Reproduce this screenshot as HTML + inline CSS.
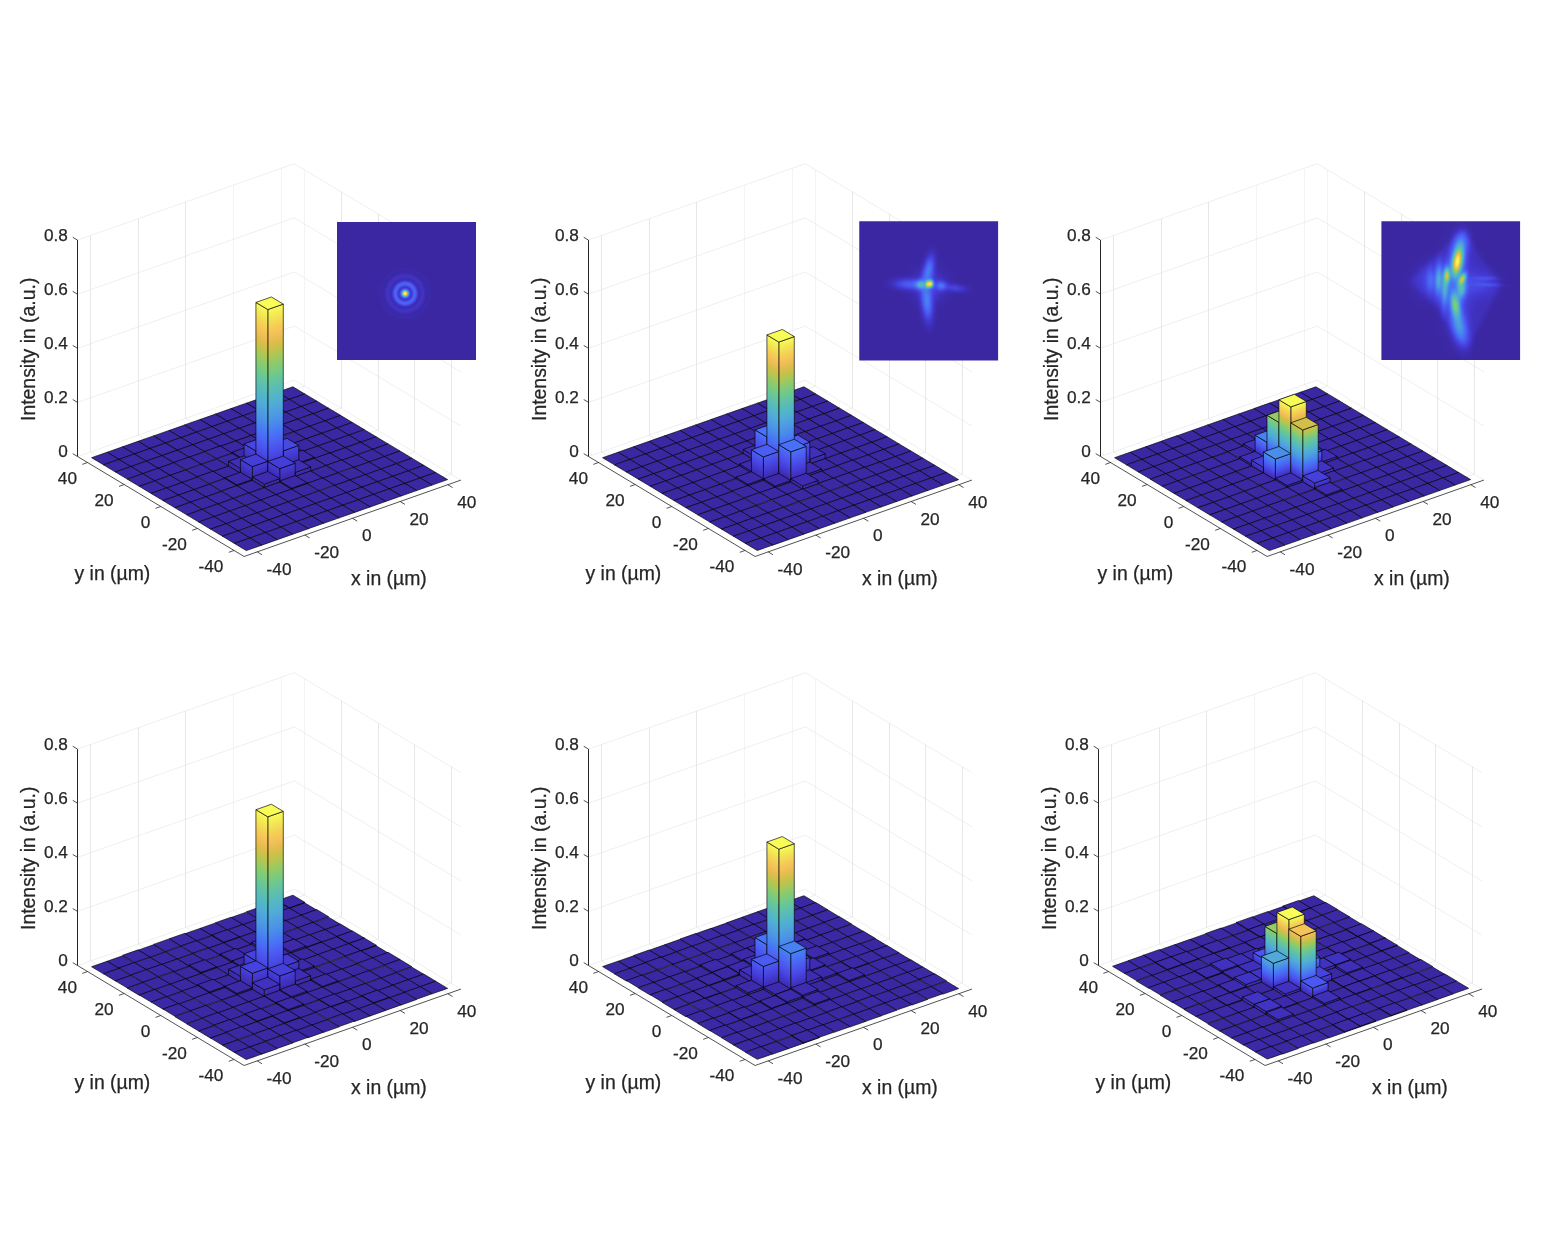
<!DOCTYPE html>
<html lang="en"><head><meta charset="utf-8"><title>Intensity bar plots</title>
<style>html,body{margin:0;padding:0;background:#fff}svg{display:block}</style></head>
<body>
<svg width="1544" height="1246" viewBox="0 0 1544 1246">
<defs><linearGradient id="g1r8_8" gradientUnits="userSpaceOnUse" x1="271.39" y1="462.4" x2="270.12" y2="458.79"><stop offset="0" stop-color="#3a27a2"/><stop offset="1" stop-color="#3e2db3"/></linearGradient><linearGradient id="g1l8_8" gradientUnits="userSpaceOnUse" x1="271.39" y1="462.4" x2="273.18" y2="459.42"><stop offset="0" stop-color="#3a27a2"/><stop offset="1" stop-color="#3e2db3"/></linearGradient><linearGradient id="g1r7_8" gradientUnits="userSpaceOnUse" x1="255.91" y1="467.86" x2="250.65" y2="452.94"><stop offset="0" stop-color="#3a27a2"/><stop offset="0.33" stop-color="#3f30ba"/><stop offset="0.67" stop-color="#4339cf"/><stop offset="1" stop-color="#4744df"/></linearGradient><linearGradient id="g1l7_8" gradientUnits="userSpaceOnUse" x1="255.91" y1="467.86" x2="263.31" y2="455.53"><stop offset="0" stop-color="#3a27a2"/><stop offset="0.33" stop-color="#3f30ba"/><stop offset="0.67" stop-color="#4339cf"/><stop offset="1" stop-color="#4744df"/></linearGradient><linearGradient id="g1r6_8" gradientUnits="userSpaceOnUse" x1="240.42" y1="473.31" x2="238.9" y2="468.98"><stop offset="0" stop-color="#3a27a2"/><stop offset="1" stop-color="#3e2fb7"/></linearGradient><linearGradient id="g1l6_8" gradientUnits="userSpaceOnUse" x1="240.42" y1="473.31" x2="242.57" y2="469.73"><stop offset="0" stop-color="#3a27a2"/><stop offset="1" stop-color="#3e2fb7"/></linearGradient><linearGradient id="g1r8_7" gradientUnits="userSpaceOnUse" x1="283.29" y1="469.54" x2="277.44" y2="452.94"><stop offset="0" stop-color="#3a27a2"/><stop offset="0.33" stop-color="#4031bc"/><stop offset="0.67" stop-color="#443bd3"/><stop offset="1" stop-color="#4848e3"/></linearGradient><linearGradient id="g1l8_7" gradientUnits="userSpaceOnUse" x1="283.29" y1="469.54" x2="291.53" y2="455.82"><stop offset="0" stop-color="#3a27a2"/><stop offset="0.33" stop-color="#4031bc"/><stop offset="0.67" stop-color="#443bd3"/><stop offset="1" stop-color="#4848e3"/></linearGradient><linearGradient id="g1r7_7" gradientUnits="userSpaceOnUse" x1="267.81" y1="475" x2="215.95" y2="327.84"><stop offset="0" stop-color="#3a27a2"/><stop offset="0.04" stop-color="#4032bf"/><stop offset="0.08" stop-color="#453dd7"/><stop offset="0.12" stop-color="#484ce7"/><stop offset="0.17" stop-color="#4b5af0"/><stop offset="0.21" stop-color="#4b69f5"/><stop offset="0.25" stop-color="#4778f4"/><stop offset="0.29" stop-color="#4987ee"/><stop offset="0.33" stop-color="#4c94e4"/><stop offset="0.38" stop-color="#4fa1de"/><stop offset="0.42" stop-color="#51acd6"/><stop offset="0.46" stop-color="#52b5c8"/><stop offset="0.5" stop-color="#58bbb8"/><stop offset="0.54" stop-color="#61c1a7"/><stop offset="0.58" stop-color="#69c794"/><stop offset="0.62" stop-color="#7aca7f"/><stop offset="0.67" stop-color="#92ca68"/><stop offset="0.71" stop-color="#adc755"/><stop offset="0.75" stop-color="#c7c14a"/><stop offset="0.79" stop-color="#debd4c"/><stop offset="0.83" stop-color="#f1be57"/><stop offset="0.88" stop-color="#f5cc55"/><stop offset="0.92" stop-color="#f3dc54"/><stop offset="0.96" stop-color="#f3ec55"/><stop offset="1" stop-color="#f9fb56"/></linearGradient><linearGradient id="g1l7_7" gradientUnits="userSpaceOnUse" x1="267.81" y1="475" x2="340.81" y2="353.38"><stop offset="0" stop-color="#3a27a2"/><stop offset="0.04" stop-color="#4032bf"/><stop offset="0.08" stop-color="#453dd7"/><stop offset="0.12" stop-color="#484ce7"/><stop offset="0.17" stop-color="#4b5af0"/><stop offset="0.21" stop-color="#4b69f5"/><stop offset="0.25" stop-color="#4778f4"/><stop offset="0.29" stop-color="#4987ee"/><stop offset="0.33" stop-color="#4c94e4"/><stop offset="0.38" stop-color="#4fa1de"/><stop offset="0.42" stop-color="#51acd6"/><stop offset="0.46" stop-color="#52b5c8"/><stop offset="0.5" stop-color="#58bbb8"/><stop offset="0.54" stop-color="#61c1a7"/><stop offset="0.58" stop-color="#69c794"/><stop offset="0.62" stop-color="#7aca7f"/><stop offset="0.67" stop-color="#92ca68"/><stop offset="0.71" stop-color="#adc755"/><stop offset="0.75" stop-color="#c7c14a"/><stop offset="0.79" stop-color="#debd4c"/><stop offset="0.83" stop-color="#f1be57"/><stop offset="0.88" stop-color="#f5cc55"/><stop offset="0.92" stop-color="#f3dc54"/><stop offset="0.96" stop-color="#f3ec55"/><stop offset="1" stop-color="#f9fb56"/></linearGradient><linearGradient id="g1r6_7" gradientUnits="userSpaceOnUse" x1="252.32" y1="480.46" x2="248" y2="468.19"><stop offset="0" stop-color="#3a27a2"/><stop offset="0.33" stop-color="#3e2eb5"/><stop offset="0.67" stop-color="#4235c8"/><stop offset="1" stop-color="#453dd7"/></linearGradient><linearGradient id="g1l6_7" gradientUnits="userSpaceOnUse" x1="252.32" y1="480.46" x2="258.41" y2="470.32"><stop offset="0" stop-color="#3a27a2"/><stop offset="0.33" stop-color="#3e2eb5"/><stop offset="0.67" stop-color="#4235c8"/><stop offset="1" stop-color="#453dd7"/></linearGradient><linearGradient id="g1r8_6" gradientUnits="userSpaceOnUse" x1="295.19" y1="476.69" x2="293.84" y2="472.84"><stop offset="0" stop-color="#3a27a2"/><stop offset="1" stop-color="#3e2eb4"/></linearGradient><linearGradient id="g1l8_6" gradientUnits="userSpaceOnUse" x1="295.19" y1="476.69" x2="297.1" y2="473.5"><stop offset="0" stop-color="#3a27a2"/><stop offset="1" stop-color="#3e2eb4"/></linearGradient><linearGradient id="g1r7_6" gradientUnits="userSpaceOnUse" x1="279.71" y1="482.14" x2="275.47" y2="470.11"><stop offset="0" stop-color="#3a27a2"/><stop offset="0.5" stop-color="#4031be"/><stop offset="1" stop-color="#453dd7"/></linearGradient><linearGradient id="g1l7_6" gradientUnits="userSpaceOnUse" x1="279.71" y1="482.14" x2="285.68" y2="472.2"><stop offset="0" stop-color="#3a27a2"/><stop offset="0.5" stop-color="#4031be"/><stop offset="1" stop-color="#453dd7"/></linearGradient><linearGradient id="g1r6_6" gradientUnits="userSpaceOnUse" x1="264.22" y1="487.6" x2="263.12" y2="484.47"><stop offset="0" stop-color="#3a27a2"/><stop offset="1" stop-color="#3d2cb1"/></linearGradient><linearGradient id="g1l6_6" gradientUnits="userSpaceOnUse" x1="264.22" y1="487.6" x2="265.77" y2="485.01"><stop offset="0" stop-color="#3a27a2"/><stop offset="1" stop-color="#3d2cb1"/></linearGradient><linearGradient id="g2r7_9" gradientUnits="userSpaceOnUse" x1="755.01" y1="460.71" x2="753.74" y2="457.11"><stop offset="0" stop-color="#3a27a2"/><stop offset="1" stop-color="#3f2fb7"/></linearGradient><linearGradient id="g2l7_9" gradientUnits="userSpaceOnUse" x1="755.01" y1="460.71" x2="756.8" y2="457.73"><stop offset="0" stop-color="#3a27a2"/><stop offset="1" stop-color="#3f2fb7"/></linearGradient><linearGradient id="g2r8_8" gradientUnits="userSpaceOnUse" x1="782.39" y1="462.4" x2="781.54" y2="459.99"><stop offset="0" stop-color="#3a27a2"/><stop offset="1" stop-color="#3d2cb0"/></linearGradient><linearGradient id="g2l8_8" gradientUnits="userSpaceOnUse" x1="782.39" y1="462.4" x2="783.59" y2="460.41"><stop offset="0" stop-color="#3a27a2"/><stop offset="1" stop-color="#3d2cb0"/></linearGradient><linearGradient id="g2r7_8" gradientUnits="userSpaceOnUse" x1="766.91" y1="467.86" x2="757.24" y2="440.43"><stop offset="0" stop-color="#3a27a2"/><stop offset="0.17" stop-color="#4031bd"/><stop offset="0.33" stop-color="#443bd5"/><stop offset="0.5" stop-color="#4849e4"/><stop offset="0.67" stop-color="#4a56ee"/><stop offset="0.83" stop-color="#4b63f4"/><stop offset="1" stop-color="#4972f6"/></linearGradient><linearGradient id="g2l7_8" gradientUnits="userSpaceOnUse" x1="766.91" y1="467.86" x2="780.51" y2="445.19"><stop offset="0" stop-color="#3a27a2"/><stop offset="0.17" stop-color="#4031bd"/><stop offset="0.33" stop-color="#443bd5"/><stop offset="0.5" stop-color="#4849e4"/><stop offset="0.67" stop-color="#4a56ee"/><stop offset="0.83" stop-color="#4b63f4"/><stop offset="1" stop-color="#4972f6"/></linearGradient><linearGradient id="g2r9_7" gradientUnits="userSpaceOnUse" x1="809.78" y1="464.09" x2="808.25" y2="459.75"><stop offset="0" stop-color="#3a27a2"/><stop offset="1" stop-color="#3f30bb"/></linearGradient><linearGradient id="g2l9_7" gradientUnits="userSpaceOnUse" x1="809.78" y1="464.09" x2="811.93" y2="460.51"><stop offset="0" stop-color="#3a27a2"/><stop offset="1" stop-color="#3f30bb"/></linearGradient><linearGradient id="g2r8_7" gradientUnits="userSpaceOnUse" x1="794.29" y1="469.54" x2="787.42" y2="450.05"><stop offset="0" stop-color="#3a27a2"/><stop offset="0.25" stop-color="#4032bf"/><stop offset="0.5" stop-color="#453dd7"/><stop offset="0.75" stop-color="#484be6"/><stop offset="1" stop-color="#4b59f0"/></linearGradient><linearGradient id="g2l8_7" gradientUnits="userSpaceOnUse" x1="794.29" y1="469.54" x2="803.96" y2="453.44"><stop offset="0" stop-color="#3a27a2"/><stop offset="0.25" stop-color="#4032bf"/><stop offset="0.5" stop-color="#453dd7"/><stop offset="0.75" stop-color="#484be6"/><stop offset="1" stop-color="#4b59f0"/></linearGradient><linearGradient id="g2r7_7" gradientUnits="userSpaceOnUse" x1="778.81" y1="475" x2="737.13" y2="356.74"><stop offset="0" stop-color="#3a27a2"/><stop offset="0.04" stop-color="#4032bf"/><stop offset="0.08" stop-color="#453dd7"/><stop offset="0.12" stop-color="#484ce7"/><stop offset="0.17" stop-color="#4b5af0"/><stop offset="0.21" stop-color="#4b69f5"/><stop offset="0.25" stop-color="#4778f4"/><stop offset="0.29" stop-color="#4987ee"/><stop offset="0.33" stop-color="#4c94e4"/><stop offset="0.38" stop-color="#4fa1de"/><stop offset="0.42" stop-color="#51acd6"/><stop offset="0.46" stop-color="#52b5c8"/><stop offset="0.5" stop-color="#58bbb8"/><stop offset="0.54" stop-color="#61c1a7"/><stop offset="0.58" stop-color="#69c794"/><stop offset="0.62" stop-color="#7aca7f"/><stop offset="0.67" stop-color="#92ca68"/><stop offset="0.71" stop-color="#adc755"/><stop offset="0.75" stop-color="#c7c14a"/><stop offset="0.79" stop-color="#debd4c"/><stop offset="0.83" stop-color="#f1be57"/><stop offset="0.88" stop-color="#f5cc55"/><stop offset="0.92" stop-color="#f3dc54"/><stop offset="0.96" stop-color="#f3ec55"/><stop offset="1" stop-color="#f9fb56"/></linearGradient><linearGradient id="g2l7_7" gradientUnits="userSpaceOnUse" x1="778.81" y1="475" x2="837.47" y2="377.26"><stop offset="0" stop-color="#3a27a2"/><stop offset="0.04" stop-color="#4032bf"/><stop offset="0.08" stop-color="#453dd7"/><stop offset="0.12" stop-color="#484ce7"/><stop offset="0.17" stop-color="#4b5af0"/><stop offset="0.21" stop-color="#4b69f5"/><stop offset="0.25" stop-color="#4778f4"/><stop offset="0.29" stop-color="#4987ee"/><stop offset="0.33" stop-color="#4c94e4"/><stop offset="0.38" stop-color="#4fa1de"/><stop offset="0.42" stop-color="#51acd6"/><stop offset="0.46" stop-color="#52b5c8"/><stop offset="0.5" stop-color="#58bbb8"/><stop offset="0.54" stop-color="#61c1a7"/><stop offset="0.58" stop-color="#69c794"/><stop offset="0.62" stop-color="#7aca7f"/><stop offset="0.67" stop-color="#92ca68"/><stop offset="0.71" stop-color="#adc755"/><stop offset="0.75" stop-color="#c7c14a"/><stop offset="0.79" stop-color="#debd4c"/><stop offset="0.83" stop-color="#f1be57"/><stop offset="0.88" stop-color="#f5cc55"/><stop offset="0.92" stop-color="#f3dc54"/><stop offset="0.96" stop-color="#f3ec55"/><stop offset="1" stop-color="#f9fb56"/></linearGradient><linearGradient id="g2r6_7" gradientUnits="userSpaceOnUse" x1="763.32" y1="480.46" x2="755.94" y2="459.52"><stop offset="0" stop-color="#3a27a2"/><stop offset="0.2" stop-color="#3f30bb"/><stop offset="0.4" stop-color="#443ad1"/><stop offset="0.6" stop-color="#4745e1"/><stop offset="0.8" stop-color="#4a52eb"/><stop offset="1" stop-color="#4b5ef2"/></linearGradient><linearGradient id="g2l6_7" gradientUnits="userSpaceOnUse" x1="763.32" y1="480.46" x2="773.71" y2="463.16"><stop offset="0" stop-color="#3a27a2"/><stop offset="0.2" stop-color="#3f30bb"/><stop offset="0.4" stop-color="#443ad1"/><stop offset="0.6" stop-color="#4745e1"/><stop offset="0.8" stop-color="#4a52eb"/><stop offset="1" stop-color="#4b5ef2"/></linearGradient><linearGradient id="g2r7_6" gradientUnits="userSpaceOnUse" x1="790.71" y1="482.14" x2="781.21" y2="455.19"><stop offset="0" stop-color="#3a27a2"/><stop offset="0.17" stop-color="#4031bc"/><stop offset="0.33" stop-color="#443bd4"/><stop offset="0.5" stop-color="#4848e3"/><stop offset="0.67" stop-color="#4a55ed"/><stop offset="0.83" stop-color="#4b62f4"/><stop offset="1" stop-color="#4970f6"/></linearGradient><linearGradient id="g2l7_6" gradientUnits="userSpaceOnUse" x1="790.71" y1="482.14" x2="804.08" y2="459.87"><stop offset="0" stop-color="#3a27a2"/><stop offset="0.17" stop-color="#4031bc"/><stop offset="0.33" stop-color="#443bd4"/><stop offset="0.5" stop-color="#4848e3"/><stop offset="0.67" stop-color="#4a55ed"/><stop offset="0.83" stop-color="#4b62f4"/><stop offset="1" stop-color="#4970f6"/></linearGradient><linearGradient id="g2r7_5" gradientUnits="userSpaceOnUse" x1="802.61" y1="489.29" x2="801.55" y2="486.28"><stop offset="0" stop-color="#3a27a2"/><stop offset="1" stop-color="#3e2db4"/></linearGradient><linearGradient id="g2l7_5" gradientUnits="userSpaceOnUse" x1="802.61" y1="489.29" x2="804.1" y2="486.8"><stop offset="0" stop-color="#3a27a2"/><stop offset="1" stop-color="#3e2db4"/></linearGradient><linearGradient id="g3r7_10" gradientUnits="userSpaceOnUse" x1="1255.11" y1="453.57" x2="1254.26" y2="451.17"><stop offset="0" stop-color="#3a27a2"/><stop offset="1" stop-color="#4031be"/></linearGradient><linearGradient id="g3l7_10" gradientUnits="userSpaceOnUse" x1="1255.11" y1="453.57" x2="1256.3" y2="451.58"><stop offset="0" stop-color="#3a27a2"/><stop offset="1" stop-color="#4031be"/></linearGradient><linearGradient id="g3r7_9" gradientUnits="userSpaceOnUse" x1="1267.01" y1="460.71" x2="1261.24" y2="444.35"><stop offset="0" stop-color="#3a27a2"/><stop offset="0.14" stop-color="#4031bd"/><stop offset="0.29" stop-color="#443bd4"/><stop offset="0.43" stop-color="#4849e4"/><stop offset="0.57" stop-color="#4a56ee"/><stop offset="0.71" stop-color="#4b63f4"/><stop offset="0.86" stop-color="#4971f6"/><stop offset="1" stop-color="#4780f2"/></linearGradient><linearGradient id="g3l7_9" gradientUnits="userSpaceOnUse" x1="1267.01" y1="460.71" x2="1275.12" y2="447.19"><stop offset="0" stop-color="#3a27a2"/><stop offset="0.14" stop-color="#4031bd"/><stop offset="0.29" stop-color="#443bd4"/><stop offset="0.43" stop-color="#4849e4"/><stop offset="0.57" stop-color="#4a56ee"/><stop offset="0.71" stop-color="#4b63f4"/><stop offset="0.86" stop-color="#4971f6"/><stop offset="1" stop-color="#4780f2"/></linearGradient><linearGradient id="g3r8_8" gradientUnits="userSpaceOnUse" x1="1294.39" y1="462.4" x2="1291.85" y2="455.18"><stop offset="0" stop-color="#3a27a2"/><stop offset="0.33" stop-color="#4031be"/><stop offset="0.67" stop-color="#443cd6"/><stop offset="1" stop-color="#484ae5"/></linearGradient><linearGradient id="g3l8_8" gradientUnits="userSpaceOnUse" x1="1294.39" y1="462.4" x2="1297.97" y2="456.43"><stop offset="0" stop-color="#3a27a2"/><stop offset="0.33" stop-color="#4031be"/><stop offset="0.67" stop-color="#443cd6"/><stop offset="1" stop-color="#484ae5"/></linearGradient><linearGradient id="g3r7_8" gradientUnits="userSpaceOnUse" x1="1278.91" y1="467.86" x2="1264.66" y2="427.43"><stop offset="0" stop-color="#3a27a2"/><stop offset="0.06" stop-color="#4031bd"/><stop offset="0.12" stop-color="#443cd5"/><stop offset="0.18" stop-color="#4849e4"/><stop offset="0.24" stop-color="#4a57ee"/><stop offset="0.29" stop-color="#4b65f4"/><stop offset="0.35" stop-color="#4873f6"/><stop offset="0.41" stop-color="#4781f1"/><stop offset="0.47" stop-color="#4b8ee8"/><stop offset="0.53" stop-color="#4d9ae1"/><stop offset="0.59" stop-color="#50a6db"/><stop offset="0.65" stop-color="#51afd1"/><stop offset="0.71" stop-color="#53b7c3"/><stop offset="0.76" stop-color="#5abdb4"/><stop offset="0.82" stop-color="#62c2a4"/><stop offset="0.88" stop-color="#6bc792"/><stop offset="0.94" stop-color="#7cca7d"/><stop offset="1" stop-color="#92ca67"/></linearGradient><linearGradient id="g3l7_8" gradientUnits="userSpaceOnUse" x1="1278.91" y1="467.86" x2="1298.96" y2="434.45"><stop offset="0" stop-color="#3a27a2"/><stop offset="0.06" stop-color="#4031bd"/><stop offset="0.12" stop-color="#443cd5"/><stop offset="0.18" stop-color="#4849e4"/><stop offset="0.24" stop-color="#4a57ee"/><stop offset="0.29" stop-color="#4b65f4"/><stop offset="0.35" stop-color="#4873f6"/><stop offset="0.41" stop-color="#4781f1"/><stop offset="0.47" stop-color="#4b8ee8"/><stop offset="0.53" stop-color="#4d9ae1"/><stop offset="0.59" stop-color="#50a6db"/><stop offset="0.65" stop-color="#51afd1"/><stop offset="0.71" stop-color="#53b7c3"/><stop offset="0.76" stop-color="#5abdb4"/><stop offset="0.82" stop-color="#62c2a4"/><stop offset="0.88" stop-color="#6bc792"/><stop offset="0.94" stop-color="#7cca7d"/><stop offset="1" stop-color="#92ca67"/></linearGradient><linearGradient id="g3r6_8" gradientUnits="userSpaceOnUse" x1="1263.42" y1="473.31" x2="1261.56" y2="468.02"><stop offset="0" stop-color="#3a27a2"/><stop offset="0.33" stop-color="#3e2eb6"/><stop offset="0.67" stop-color="#4236ca"/><stop offset="1" stop-color="#453fd9"/></linearGradient><linearGradient id="g3l6_8" gradientUnits="userSpaceOnUse" x1="1263.42" y1="473.31" x2="1266.05" y2="468.94"><stop offset="0" stop-color="#3a27a2"/><stop offset="0.33" stop-color="#3e2eb6"/><stop offset="0.67" stop-color="#4236ca"/><stop offset="1" stop-color="#453fd9"/></linearGradient><linearGradient id="g3r8_7" gradientUnits="userSpaceOnUse" x1="1306.29" y1="469.54" x2="1302.14" y2="457.75"><stop offset="0" stop-color="#3a27a2"/><stop offset="0.2" stop-color="#4031bd"/><stop offset="0.4" stop-color="#443cd5"/><stop offset="0.6" stop-color="#4849e4"/><stop offset="0.8" stop-color="#4a56ee"/><stop offset="1" stop-color="#4b64f4"/></linearGradient><linearGradient id="g3l8_7" gradientUnits="userSpaceOnUse" x1="1306.29" y1="469.54" x2="1312.14" y2="459.8"><stop offset="0" stop-color="#3a27a2"/><stop offset="0.2" stop-color="#4031bd"/><stop offset="0.4" stop-color="#443cd5"/><stop offset="0.6" stop-color="#4849e4"/><stop offset="0.8" stop-color="#4a56ee"/><stop offset="1" stop-color="#4b64f4"/></linearGradient><linearGradient id="g3r7_7" gradientUnits="userSpaceOnUse" x1="1290.81" y1="475" x2="1269.46" y2="414.44"><stop offset="0" stop-color="#3a27a2"/><stop offset="0.04" stop-color="#4032bf"/><stop offset="0.08" stop-color="#453dd7"/><stop offset="0.12" stop-color="#484ce7"/><stop offset="0.17" stop-color="#4b5af0"/><stop offset="0.21" stop-color="#4b69f5"/><stop offset="0.25" stop-color="#4778f4"/><stop offset="0.29" stop-color="#4987ee"/><stop offset="0.33" stop-color="#4c94e4"/><stop offset="0.38" stop-color="#4fa1de"/><stop offset="0.42" stop-color="#51acd6"/><stop offset="0.46" stop-color="#52b5c8"/><stop offset="0.5" stop-color="#58bbb8"/><stop offset="0.54" stop-color="#61c1a7"/><stop offset="0.58" stop-color="#69c794"/><stop offset="0.62" stop-color="#7aca7f"/><stop offset="0.67" stop-color="#92ca68"/><stop offset="0.71" stop-color="#adc755"/><stop offset="0.75" stop-color="#c7c14a"/><stop offset="0.79" stop-color="#debd4c"/><stop offset="0.83" stop-color="#f1be57"/><stop offset="0.88" stop-color="#f5cc55"/><stop offset="0.92" stop-color="#f3dc54"/><stop offset="0.96" stop-color="#f3ec55"/><stop offset="1" stop-color="#f9fb56"/></linearGradient><linearGradient id="g3l7_7" gradientUnits="userSpaceOnUse" x1="1290.81" y1="475" x2="1320.85" y2="424.95"><stop offset="0" stop-color="#3a27a2"/><stop offset="0.04" stop-color="#4032bf"/><stop offset="0.08" stop-color="#453dd7"/><stop offset="0.12" stop-color="#484ce7"/><stop offset="0.17" stop-color="#4b5af0"/><stop offset="0.21" stop-color="#4b69f5"/><stop offset="0.25" stop-color="#4778f4"/><stop offset="0.29" stop-color="#4987ee"/><stop offset="0.33" stop-color="#4c94e4"/><stop offset="0.38" stop-color="#4fa1de"/><stop offset="0.42" stop-color="#51acd6"/><stop offset="0.46" stop-color="#52b5c8"/><stop offset="0.5" stop-color="#58bbb8"/><stop offset="0.54" stop-color="#61c1a7"/><stop offset="0.58" stop-color="#69c794"/><stop offset="0.62" stop-color="#7aca7f"/><stop offset="0.67" stop-color="#92ca68"/><stop offset="0.71" stop-color="#adc755"/><stop offset="0.75" stop-color="#c7c14a"/><stop offset="0.79" stop-color="#debd4c"/><stop offset="0.83" stop-color="#f1be57"/><stop offset="0.88" stop-color="#f5cc55"/><stop offset="0.92" stop-color="#f3dc54"/><stop offset="0.96" stop-color="#f3ec55"/><stop offset="1" stop-color="#f9fb56"/></linearGradient><linearGradient id="g3r6_7" gradientUnits="userSpaceOnUse" x1="1275.32" y1="480.46" x2="1268.62" y2="461.45"><stop offset="0" stop-color="#3a27a2"/><stop offset="0.12" stop-color="#4031bd"/><stop offset="0.25" stop-color="#443cd5"/><stop offset="0.38" stop-color="#4849e4"/><stop offset="0.5" stop-color="#4a57ee"/><stop offset="0.62" stop-color="#4b64f4"/><stop offset="0.75" stop-color="#4873f6"/><stop offset="0.88" stop-color="#4781f1"/><stop offset="1" stop-color="#4b8ee9"/></linearGradient><linearGradient id="g3l6_7" gradientUnits="userSpaceOnUse" x1="1275.32" y1="480.46" x2="1284.75" y2="464.75"><stop offset="0" stop-color="#3a27a2"/><stop offset="0.12" stop-color="#4031bd"/><stop offset="0.25" stop-color="#443cd5"/><stop offset="0.38" stop-color="#4849e4"/><stop offset="0.5" stop-color="#4a57ee"/><stop offset="0.62" stop-color="#4b64f4"/><stop offset="0.75" stop-color="#4873f6"/><stop offset="0.88" stop-color="#4781f1"/><stop offset="1" stop-color="#4b8ee9"/></linearGradient><linearGradient id="g3r8_6" gradientUnits="userSpaceOnUse" x1="1318.19" y1="476.69" x2="1317.18" y2="473.8"><stop offset="0" stop-color="#3a27a2"/><stop offset="0.5" stop-color="#3e2db3"/><stop offset="1" stop-color="#4133c3"/></linearGradient><linearGradient id="g3l8_6" gradientUnits="userSpaceOnUse" x1="1318.19" y1="476.69" x2="1319.63" y2="474.3"><stop offset="0" stop-color="#3a27a2"/><stop offset="0.5" stop-color="#3e2db3"/><stop offset="1" stop-color="#4133c3"/></linearGradient><linearGradient id="g3r7_6" gradientUnits="userSpaceOnUse" x1="1302.71" y1="482.14" x2="1286.34" y2="435.7"><stop offset="0" stop-color="#3a27a2"/><stop offset="0.05" stop-color="#4031be"/><stop offset="0.11" stop-color="#453dd6"/><stop offset="0.16" stop-color="#484ae5"/><stop offset="0.21" stop-color="#4b58ef"/><stop offset="0.26" stop-color="#4b66f4"/><stop offset="0.32" stop-color="#4775f5"/><stop offset="0.37" stop-color="#4884f0"/><stop offset="0.42" stop-color="#4b91e7"/><stop offset="0.47" stop-color="#4e9ddf"/><stop offset="0.53" stop-color="#50a8d9"/><stop offset="0.58" stop-color="#52b2cd"/><stop offset="0.63" stop-color="#55b9be"/><stop offset="0.68" stop-color="#5dbfae"/><stop offset="0.74" stop-color="#65c49d"/><stop offset="0.79" stop-color="#71c989"/><stop offset="0.84" stop-color="#85ca73"/><stop offset="0.89" stop-color="#9ec95e"/><stop offset="0.95" stop-color="#b8c44f"/><stop offset="1" stop-color="#d1bf4a"/></linearGradient><linearGradient id="g3l7_6" gradientUnits="userSpaceOnUse" x1="1302.71" y1="482.14" x2="1325.74" y2="443.76"><stop offset="0" stop-color="#3a27a2"/><stop offset="0.05" stop-color="#4031be"/><stop offset="0.11" stop-color="#453dd6"/><stop offset="0.16" stop-color="#484ae5"/><stop offset="0.21" stop-color="#4b58ef"/><stop offset="0.26" stop-color="#4b66f4"/><stop offset="0.32" stop-color="#4775f5"/><stop offset="0.37" stop-color="#4884f0"/><stop offset="0.42" stop-color="#4b91e7"/><stop offset="0.47" stop-color="#4e9ddf"/><stop offset="0.53" stop-color="#50a8d9"/><stop offset="0.58" stop-color="#52b2cd"/><stop offset="0.63" stop-color="#55b9be"/><stop offset="0.68" stop-color="#5dbfae"/><stop offset="0.74" stop-color="#65c49d"/><stop offset="0.79" stop-color="#71c989"/><stop offset="0.84" stop-color="#85ca73"/><stop offset="0.89" stop-color="#9ec95e"/><stop offset="0.95" stop-color="#b8c44f"/><stop offset="1" stop-color="#d1bf4a"/></linearGradient><linearGradient id="g3r7_5" gradientUnits="userSpaceOnUse" x1="1314.61" y1="489.29" x2="1312.66" y2="483.75"><stop offset="0" stop-color="#3a27a2"/><stop offset="0.33" stop-color="#3f2fb7"/><stop offset="0.67" stop-color="#4237cb"/><stop offset="1" stop-color="#4640db"/></linearGradient><linearGradient id="g3l7_5" gradientUnits="userSpaceOnUse" x1="1314.61" y1="489.29" x2="1317.35" y2="484.71"><stop offset="0" stop-color="#3a27a2"/><stop offset="0.33" stop-color="#3f2fb7"/><stop offset="0.67" stop-color="#4237cb"/><stop offset="1" stop-color="#4640db"/></linearGradient><linearGradient id="g4r8_8" gradientUnits="userSpaceOnUse" x1="271.39" y1="971.4" x2="270.12" y2="967.79"><stop offset="0" stop-color="#3a27a2"/><stop offset="1" stop-color="#3e2db3"/></linearGradient><linearGradient id="g4l8_8" gradientUnits="userSpaceOnUse" x1="271.39" y1="971.4" x2="273.18" y2="968.42"><stop offset="0" stop-color="#3a27a2"/><stop offset="1" stop-color="#3e2db3"/></linearGradient><linearGradient id="g4r7_8" gradientUnits="userSpaceOnUse" x1="255.91" y1="976.86" x2="250.9" y2="962.66"><stop offset="0" stop-color="#3a27a2"/><stop offset="0.33" stop-color="#3f2fb8"/><stop offset="0.67" stop-color="#4337cd"/><stop offset="1" stop-color="#4642dd"/></linearGradient><linearGradient id="g4l7_8" gradientUnits="userSpaceOnUse" x1="255.91" y1="976.86" x2="262.95" y2="965.12"><stop offset="0" stop-color="#3a27a2"/><stop offset="0.33" stop-color="#3f2fb8"/><stop offset="0.67" stop-color="#4337cd"/><stop offset="1" stop-color="#4642dd"/></linearGradient><linearGradient id="g4r6_8" gradientUnits="userSpaceOnUse" x1="240.42" y1="982.31" x2="238.56" y2="977.02"><stop offset="0" stop-color="#3a27a2"/><stop offset="1" stop-color="#3f30bb"/></linearGradient><linearGradient id="g4l6_8" gradientUnits="userSpaceOnUse" x1="240.42" y1="982.31" x2="243.05" y2="977.94"><stop offset="0" stop-color="#3a27a2"/><stop offset="1" stop-color="#3f30bb"/></linearGradient><linearGradient id="g4r8_7" gradientUnits="userSpaceOnUse" x1="283.29" y1="978.54" x2="279.56" y2="967.96"><stop offset="0" stop-color="#3a27a2"/><stop offset="0.5" stop-color="#3f30bb"/><stop offset="1" stop-color="#443ad1"/></linearGradient><linearGradient id="g4l8_7" gradientUnits="userSpaceOnUse" x1="283.29" y1="978.54" x2="288.54" y2="969.79"><stop offset="0" stop-color="#3a27a2"/><stop offset="0.5" stop-color="#3f30bb"/><stop offset="1" stop-color="#443ad1"/></linearGradient><linearGradient id="g4r7_7" gradientUnits="userSpaceOnUse" x1="267.81" y1="984" x2="215.4" y2="835.3"><stop offset="0" stop-color="#3a27a2"/><stop offset="0.04" stop-color="#4032bf"/><stop offset="0.08" stop-color="#453dd7"/><stop offset="0.12" stop-color="#484ce7"/><stop offset="0.17" stop-color="#4b5af0"/><stop offset="0.21" stop-color="#4b69f5"/><stop offset="0.25" stop-color="#4778f4"/><stop offset="0.29" stop-color="#4987ee"/><stop offset="0.33" stop-color="#4c94e4"/><stop offset="0.38" stop-color="#4fa1de"/><stop offset="0.42" stop-color="#51acd6"/><stop offset="0.46" stop-color="#52b5c8"/><stop offset="0.5" stop-color="#58bbb8"/><stop offset="0.54" stop-color="#61c1a7"/><stop offset="0.58" stop-color="#69c794"/><stop offset="0.62" stop-color="#7aca7f"/><stop offset="0.67" stop-color="#92ca68"/><stop offset="0.71" stop-color="#adc755"/><stop offset="0.75" stop-color="#c7c14a"/><stop offset="0.79" stop-color="#debd4c"/><stop offset="0.83" stop-color="#f1be57"/><stop offset="0.88" stop-color="#f5cc55"/><stop offset="0.92" stop-color="#f3dc54"/><stop offset="0.96" stop-color="#f3ec55"/><stop offset="1" stop-color="#f9fb56"/></linearGradient><linearGradient id="g4l7_7" gradientUnits="userSpaceOnUse" x1="267.81" y1="984" x2="341.57" y2="861.11"><stop offset="0" stop-color="#3a27a2"/><stop offset="0.04" stop-color="#4032bf"/><stop offset="0.08" stop-color="#453dd7"/><stop offset="0.12" stop-color="#484ce7"/><stop offset="0.17" stop-color="#4b5af0"/><stop offset="0.21" stop-color="#4b69f5"/><stop offset="0.25" stop-color="#4778f4"/><stop offset="0.29" stop-color="#4987ee"/><stop offset="0.33" stop-color="#4c94e4"/><stop offset="0.38" stop-color="#4fa1de"/><stop offset="0.42" stop-color="#51acd6"/><stop offset="0.46" stop-color="#52b5c8"/><stop offset="0.5" stop-color="#58bbb8"/><stop offset="0.54" stop-color="#61c1a7"/><stop offset="0.58" stop-color="#69c794"/><stop offset="0.62" stop-color="#7aca7f"/><stop offset="0.67" stop-color="#92ca68"/><stop offset="0.71" stop-color="#adc755"/><stop offset="0.75" stop-color="#c7c14a"/><stop offset="0.79" stop-color="#debd4c"/><stop offset="0.83" stop-color="#f1be57"/><stop offset="0.88" stop-color="#f5cc55"/><stop offset="0.92" stop-color="#f3dc54"/><stop offset="0.96" stop-color="#f3ec55"/><stop offset="1" stop-color="#f9fb56"/></linearGradient><linearGradient id="g4r6_7" gradientUnits="userSpaceOnUse" x1="252.32" y1="989.46" x2="247.28" y2="975.14"><stop offset="0" stop-color="#3a27a2"/><stop offset="0.33" stop-color="#3f2fb8"/><stop offset="0.67" stop-color="#4337ce"/><stop offset="1" stop-color="#4642dd"/></linearGradient><linearGradient id="g4l6_7" gradientUnits="userSpaceOnUse" x1="252.32" y1="989.46" x2="259.42" y2="977.63"><stop offset="0" stop-color="#3a27a2"/><stop offset="0.33" stop-color="#3f2fb8"/><stop offset="0.67" stop-color="#4337ce"/><stop offset="1" stop-color="#4642dd"/></linearGradient><linearGradient id="g4r8_6" gradientUnits="userSpaceOnUse" x1="295.19" y1="985.69" x2="293.75" y2="981.6"><stop offset="0" stop-color="#3a27a2"/><stop offset="1" stop-color="#3e2eb5"/></linearGradient><linearGradient id="g4l8_6" gradientUnits="userSpaceOnUse" x1="295.19" y1="985.69" x2="297.22" y2="982.31"><stop offset="0" stop-color="#3a27a2"/><stop offset="1" stop-color="#3e2eb5"/></linearGradient><linearGradient id="g4r7_6" gradientUnits="userSpaceOnUse" x1="279.71" y1="991.14" x2="274.96" y2="977.67"><stop offset="0" stop-color="#3a27a2"/><stop offset="0.33" stop-color="#3f2fb7"/><stop offset="0.67" stop-color="#4236cb"/><stop offset="1" stop-color="#4640db"/></linearGradient><linearGradient id="g4l7_6" gradientUnits="userSpaceOnUse" x1="279.71" y1="991.14" x2="286.39" y2="980.01"><stop offset="0" stop-color="#3a27a2"/><stop offset="0.33" stop-color="#3f2fb7"/><stop offset="0.67" stop-color="#4236cb"/><stop offset="1" stop-color="#4640db"/></linearGradient><linearGradient id="g4r6_6" gradientUnits="userSpaceOnUse" x1="264.22" y1="996.6" x2="262.1" y2="990.58"><stop offset="0" stop-color="#3a27a2"/><stop offset="1" stop-color="#4031be"/></linearGradient><linearGradient id="g4l6_6" gradientUnits="userSpaceOnUse" x1="264.22" y1="996.6" x2="267.21" y2="991.63"><stop offset="0" stop-color="#3a27a2"/><stop offset="1" stop-color="#4031be"/></linearGradient><linearGradient id="g5r7_9" gradientUnits="userSpaceOnUse" x1="755.01" y1="969.71" x2="753.99" y2="966.83"><stop offset="0" stop-color="#3a27a2"/><stop offset="1" stop-color="#3e2db3"/></linearGradient><linearGradient id="g5l7_9" gradientUnits="userSpaceOnUse" x1="755.01" y1="969.71" x2="756.44" y2="967.33"><stop offset="0" stop-color="#3a27a2"/><stop offset="1" stop-color="#3e2db3"/></linearGradient><linearGradient id="g5r8_8" gradientUnits="userSpaceOnUse" x1="782.39" y1="971.4" x2="781.54" y2="968.99"><stop offset="0" stop-color="#3a27a2"/><stop offset="1" stop-color="#3d2cb0"/></linearGradient><linearGradient id="g5l8_8" gradientUnits="userSpaceOnUse" x1="782.39" y1="971.4" x2="783.59" y2="969.41"><stop offset="0" stop-color="#3a27a2"/><stop offset="1" stop-color="#3d2cb0"/></linearGradient><linearGradient id="g5r7_8" gradientUnits="userSpaceOnUse" x1="766.91" y1="976.86" x2="756.82" y2="948.22"><stop offset="0" stop-color="#3a27a2"/><stop offset="0.17" stop-color="#4031be"/><stop offset="0.33" stop-color="#443cd6"/><stop offset="0.5" stop-color="#484ae5"/><stop offset="0.67" stop-color="#4b58ef"/><stop offset="0.83" stop-color="#4b65f4"/><stop offset="1" stop-color="#4874f6"/></linearGradient><linearGradient id="g5l7_8" gradientUnits="userSpaceOnUse" x1="766.91" y1="976.86" x2="781.11" y2="953.19"><stop offset="0" stop-color="#3a27a2"/><stop offset="0.17" stop-color="#4031be"/><stop offset="0.33" stop-color="#443cd6"/><stop offset="0.5" stop-color="#484ae5"/><stop offset="0.67" stop-color="#4b58ef"/><stop offset="0.83" stop-color="#4b65f4"/><stop offset="1" stop-color="#4874f6"/></linearGradient><linearGradient id="g5r6_8" gradientUnits="userSpaceOnUse" x1="751.42" y1="982.31" x2="749.73" y2="977.5"><stop offset="0" stop-color="#3a27a2"/><stop offset="1" stop-color="#4031be"/></linearGradient><linearGradient id="g5l6_8" gradientUnits="userSpaceOnUse" x1="751.42" y1="982.31" x2="753.81" y2="978.34"><stop offset="0" stop-color="#3a27a2"/><stop offset="1" stop-color="#4031be"/></linearGradient><linearGradient id="g5r9_7" gradientUnits="userSpaceOnUse" x1="809.78" y1="973.09" x2="808.93" y2="970.68"><stop offset="0" stop-color="#3a27a2"/><stop offset="1" stop-color="#3d2cb0"/></linearGradient><linearGradient id="g5l9_7" gradientUnits="userSpaceOnUse" x1="809.78" y1="973.09" x2="810.97" y2="971.1"><stop offset="0" stop-color="#3a27a2"/><stop offset="1" stop-color="#3d2cb0"/></linearGradient><linearGradient id="g5r8_7" gradientUnits="userSpaceOnUse" x1="794.29" y1="978.54" x2="789.37" y2="964.59"><stop offset="0" stop-color="#3a27a2"/><stop offset="0.33" stop-color="#4031bd"/><stop offset="0.67" stop-color="#443cd5"/><stop offset="1" stop-color="#4849e4"/></linearGradient><linearGradient id="g5l8_7" gradientUnits="userSpaceOnUse" x1="794.29" y1="978.54" x2="801.22" y2="967.01"><stop offset="0" stop-color="#3a27a2"/><stop offset="0.33" stop-color="#4031bd"/><stop offset="0.67" stop-color="#443cd5"/><stop offset="1" stop-color="#4849e4"/></linearGradient><linearGradient id="g5r7_7" gradientUnits="userSpaceOnUse" x1="778.81" y1="984" x2="736.54" y2="864.05"><stop offset="0" stop-color="#3a27a2"/><stop offset="0.04" stop-color="#4032bf"/><stop offset="0.08" stop-color="#453dd7"/><stop offset="0.12" stop-color="#484ce7"/><stop offset="0.17" stop-color="#4b5af0"/><stop offset="0.21" stop-color="#4b69f5"/><stop offset="0.25" stop-color="#4778f4"/><stop offset="0.29" stop-color="#4987ee"/><stop offset="0.33" stop-color="#4c94e4"/><stop offset="0.38" stop-color="#4fa1de"/><stop offset="0.42" stop-color="#51acd6"/><stop offset="0.46" stop-color="#52b5c8"/><stop offset="0.5" stop-color="#58bbb8"/><stop offset="0.54" stop-color="#61c1a7"/><stop offset="0.58" stop-color="#69c794"/><stop offset="0.62" stop-color="#7aca7f"/><stop offset="0.67" stop-color="#92ca68"/><stop offset="0.71" stop-color="#adc755"/><stop offset="0.75" stop-color="#c7c14a"/><stop offset="0.79" stop-color="#debd4c"/><stop offset="0.83" stop-color="#f1be57"/><stop offset="0.88" stop-color="#f5cc55"/><stop offset="0.92" stop-color="#f3dc54"/><stop offset="0.96" stop-color="#f3ec55"/><stop offset="1" stop-color="#f9fb56"/></linearGradient><linearGradient id="g5l7_7" gradientUnits="userSpaceOnUse" x1="778.81" y1="984" x2="838.31" y2="884.87"><stop offset="0" stop-color="#3a27a2"/><stop offset="0.04" stop-color="#4032bf"/><stop offset="0.08" stop-color="#453dd7"/><stop offset="0.12" stop-color="#484ce7"/><stop offset="0.17" stop-color="#4b5af0"/><stop offset="0.21" stop-color="#4b69f5"/><stop offset="0.25" stop-color="#4778f4"/><stop offset="0.29" stop-color="#4987ee"/><stop offset="0.33" stop-color="#4c94e4"/><stop offset="0.38" stop-color="#4fa1de"/><stop offset="0.42" stop-color="#51acd6"/><stop offset="0.46" stop-color="#52b5c8"/><stop offset="0.5" stop-color="#58bbb8"/><stop offset="0.54" stop-color="#61c1a7"/><stop offset="0.58" stop-color="#69c794"/><stop offset="0.62" stop-color="#7aca7f"/><stop offset="0.67" stop-color="#92ca68"/><stop offset="0.71" stop-color="#adc755"/><stop offset="0.75" stop-color="#c7c14a"/><stop offset="0.79" stop-color="#debd4c"/><stop offset="0.83" stop-color="#f1be57"/><stop offset="0.88" stop-color="#f5cc55"/><stop offset="0.92" stop-color="#f3dc54"/><stop offset="0.96" stop-color="#f3ec55"/><stop offset="1" stop-color="#f9fb56"/></linearGradient><linearGradient id="g5r6_7" gradientUnits="userSpaceOnUse" x1="763.32" y1="989.46" x2="756.11" y2="969"><stop offset="0" stop-color="#3a27a2"/><stop offset="0.2" stop-color="#3f30ba"/><stop offset="0.4" stop-color="#4339d0"/><stop offset="0.6" stop-color="#4744df"/><stop offset="0.8" stop-color="#4950ea"/><stop offset="1" stop-color="#4b5bf1"/></linearGradient><linearGradient id="g5l6_7" gradientUnits="userSpaceOnUse" x1="763.32" y1="989.46" x2="773.47" y2="972.55"><stop offset="0" stop-color="#3a27a2"/><stop offset="0.2" stop-color="#3f30ba"/><stop offset="0.4" stop-color="#4339d0"/><stop offset="0.6" stop-color="#4744df"/><stop offset="0.8" stop-color="#4950ea"/><stop offset="1" stop-color="#4b5bf1"/></linearGradient><linearGradient id="g5r8_6" gradientUnits="userSpaceOnUse" x1="806.19" y1="985.69" x2="805.18" y2="982.8"><stop offset="0" stop-color="#3a27a2"/><stop offset="1" stop-color="#3e2db3"/></linearGradient><linearGradient id="g5l8_6" gradientUnits="userSpaceOnUse" x1="806.19" y1="985.69" x2="807.63" y2="983.3"><stop offset="0" stop-color="#3a27a2"/><stop offset="1" stop-color="#3e2db3"/></linearGradient><linearGradient id="g5r7_6" gradientUnits="userSpaceOnUse" x1="790.71" y1="991.14" x2="778.95" y2="957.79"><stop offset="0" stop-color="#3a27a2"/><stop offset="0.14" stop-color="#4031be"/><stop offset="0.29" stop-color="#443cd6"/><stop offset="0.43" stop-color="#484ae5"/><stop offset="0.57" stop-color="#4b57ef"/><stop offset="0.71" stop-color="#4b65f4"/><stop offset="0.86" stop-color="#4874f6"/><stop offset="1" stop-color="#4782f0"/></linearGradient><linearGradient id="g5l7_6" gradientUnits="userSpaceOnUse" x1="790.71" y1="991.14" x2="807.25" y2="963.58"><stop offset="0" stop-color="#3a27a2"/><stop offset="0.14" stop-color="#4031be"/><stop offset="0.29" stop-color="#443cd6"/><stop offset="0.43" stop-color="#484ae5"/><stop offset="0.57" stop-color="#4b57ef"/><stop offset="0.71" stop-color="#4b65f4"/><stop offset="0.86" stop-color="#4874f6"/><stop offset="1" stop-color="#4782f0"/></linearGradient><linearGradient id="g5r7_5" gradientUnits="userSpaceOnUse" x1="802.61" y1="998.29" x2="801.59" y2="995.4"><stop offset="0" stop-color="#3a27a2"/><stop offset="1" stop-color="#3e2db3"/></linearGradient><linearGradient id="g5l7_5" gradientUnits="userSpaceOnUse" x1="802.61" y1="998.29" x2="804.04" y2="995.9"><stop offset="0" stop-color="#3a27a2"/><stop offset="1" stop-color="#3e2db3"/></linearGradient><linearGradient id="g6r5_10" gradientUnits="userSpaceOnUse" x1="1222.14" y1="973.49" x2="1221.29" y2="971.08"><stop offset="0" stop-color="#3a27a2"/><stop offset="0.5" stop-color="#3d2cb1"/><stop offset="1" stop-color="#4032bf"/></linearGradient><linearGradient id="g6l5_10" gradientUnits="userSpaceOnUse" x1="1222.14" y1="973.49" x2="1223.33" y2="971.5"><stop offset="0" stop-color="#3a27a2"/><stop offset="0.5" stop-color="#3d2cb1"/><stop offset="1" stop-color="#4032bf"/></linearGradient><linearGradient id="g6r7_9" gradientUnits="userSpaceOnUse" x1="1265.01" y1="969.71" x2="1261.87" y2="960.81"><stop offset="0" stop-color="#3a27a2"/><stop offset="0.25" stop-color="#4031bd"/><stop offset="0.5" stop-color="#443cd5"/><stop offset="0.75" stop-color="#4849e4"/><stop offset="1" stop-color="#4a56ee"/></linearGradient><linearGradient id="g6l7_9" gradientUnits="userSpaceOnUse" x1="1265.01" y1="969.71" x2="1269.42" y2="962.36"><stop offset="0" stop-color="#3a27a2"/><stop offset="0.25" stop-color="#4031bd"/><stop offset="0.5" stop-color="#443cd5"/><stop offset="0.75" stop-color="#4849e4"/><stop offset="1" stop-color="#4a56ee"/></linearGradient><linearGradient id="g6r8_8" gradientUnits="userSpaceOnUse" x1="1292.39" y1="971.4" x2="1289.85" y2="964.18"><stop offset="0" stop-color="#3a27a2"/><stop offset="0.25" stop-color="#3f2fb8"/><stop offset="0.5" stop-color="#4337cd"/><stop offset="0.75" stop-color="#4641dc"/><stop offset="1" stop-color="#494ce7"/></linearGradient><linearGradient id="g6l8_8" gradientUnits="userSpaceOnUse" x1="1292.39" y1="971.4" x2="1295.97" y2="965.43"><stop offset="0" stop-color="#3a27a2"/><stop offset="0.25" stop-color="#3f2fb8"/><stop offset="0.5" stop-color="#4337cd"/><stop offset="0.75" stop-color="#4641dc"/><stop offset="1" stop-color="#494ce7"/></linearGradient><linearGradient id="g6r7_8" gradientUnits="userSpaceOnUse" x1="1276.91" y1="976.86" x2="1263.34" y2="938.36"><stop offset="0" stop-color="#3a27a2"/><stop offset="0.06" stop-color="#4031bd"/><stop offset="0.12" stop-color="#443cd6"/><stop offset="0.18" stop-color="#484ae5"/><stop offset="0.24" stop-color="#4b57ef"/><stop offset="0.29" stop-color="#4b65f4"/><stop offset="0.35" stop-color="#4874f6"/><stop offset="0.41" stop-color="#4782f1"/><stop offset="0.47" stop-color="#4b8fe8"/><stop offset="0.53" stop-color="#4d9be0"/><stop offset="0.59" stop-color="#50a6db"/><stop offset="0.65" stop-color="#51b0d0"/><stop offset="0.71" stop-color="#54b7c2"/><stop offset="0.76" stop-color="#5bbdb2"/><stop offset="0.82" stop-color="#63c3a2"/><stop offset="0.88" stop-color="#6dc890"/><stop offset="0.94" stop-color="#7eca7a"/><stop offset="1" stop-color="#95ca65"/></linearGradient><linearGradient id="g6l7_8" gradientUnits="userSpaceOnUse" x1="1276.91" y1="976.86" x2="1296" y2="945.04"><stop offset="0" stop-color="#3a27a2"/><stop offset="0.06" stop-color="#4031bd"/><stop offset="0.12" stop-color="#443cd6"/><stop offset="0.18" stop-color="#484ae5"/><stop offset="0.24" stop-color="#4b57ef"/><stop offset="0.29" stop-color="#4b65f4"/><stop offset="0.35" stop-color="#4874f6"/><stop offset="0.41" stop-color="#4782f1"/><stop offset="0.47" stop-color="#4b8fe8"/><stop offset="0.53" stop-color="#4d9be0"/><stop offset="0.59" stop-color="#50a6db"/><stop offset="0.65" stop-color="#51b0d0"/><stop offset="0.71" stop-color="#54b7c2"/><stop offset="0.76" stop-color="#5bbdb2"/><stop offset="0.82" stop-color="#63c3a2"/><stop offset="0.88" stop-color="#6dc890"/><stop offset="0.94" stop-color="#7eca7a"/><stop offset="1" stop-color="#95ca65"/></linearGradient><linearGradient id="g6r6_8" gradientUnits="userSpaceOnUse" x1="1261.42" y1="982.31" x2="1260.4" y2="979.43"><stop offset="0" stop-color="#3a27a2"/><stop offset="0.5" stop-color="#3e2db4"/><stop offset="1" stop-color="#4134c5"/></linearGradient><linearGradient id="g6l6_8" gradientUnits="userSpaceOnUse" x1="1261.42" y1="982.31" x2="1262.85" y2="979.93"><stop offset="0" stop-color="#3a27a2"/><stop offset="0.5" stop-color="#3e2db4"/><stop offset="1" stop-color="#4134c5"/></linearGradient><linearGradient id="g6r5_8" gradientUnits="userSpaceOnUse" x1="1245.94" y1="987.77" x2="1244.92" y2="984.88"><stop offset="0" stop-color="#3a27a2"/><stop offset="0.5" stop-color="#3e2db4"/><stop offset="1" stop-color="#4134c5"/></linearGradient><linearGradient id="g6l5_8" gradientUnits="userSpaceOnUse" x1="1245.94" y1="987.77" x2="1247.37" y2="985.39"><stop offset="0" stop-color="#3a27a2"/><stop offset="0.5" stop-color="#3e2db4"/><stop offset="1" stop-color="#4134c5"/></linearGradient><linearGradient id="g6r10_7" gradientUnits="userSpaceOnUse" x1="1335.26" y1="967.63" x2="1334.37" y2="965.1"><stop offset="0" stop-color="#3a27a2"/><stop offset="0.5" stop-color="#3d2db2"/><stop offset="1" stop-color="#4032c1"/></linearGradient><linearGradient id="g6l10_7" gradientUnits="userSpaceOnUse" x1="1335.26" y1="967.63" x2="1336.52" y2="965.54"><stop offset="0" stop-color="#3a27a2"/><stop offset="0.5" stop-color="#3d2db2"/><stop offset="1" stop-color="#4032c1"/></linearGradient><linearGradient id="g6r9_7" gradientUnits="userSpaceOnUse" x1="1319.78" y1="973.09" x2="1318.93" y2="970.68"><stop offset="0" stop-color="#3a27a2"/><stop offset="0.5" stop-color="#3d2cb1"/><stop offset="1" stop-color="#4032bf"/></linearGradient><linearGradient id="g6l9_7" gradientUnits="userSpaceOnUse" x1="1319.78" y1="973.09" x2="1320.97" y2="971.1"><stop offset="0" stop-color="#3a27a2"/><stop offset="0.5" stop-color="#3d2cb1"/><stop offset="1" stop-color="#4032bf"/></linearGradient><linearGradient id="g6r8_7" gradientUnits="userSpaceOnUse" x1="1304.29" y1="978.54" x2="1299.29" y2="964.35"><stop offset="0" stop-color="#3a27a2"/><stop offset="0.17" stop-color="#4032bf"/><stop offset="0.33" stop-color="#453dd7"/><stop offset="0.5" stop-color="#484be6"/><stop offset="0.67" stop-color="#4b5af0"/><stop offset="0.83" stop-color="#4b68f5"/><stop offset="1" stop-color="#4778f5"/></linearGradient><linearGradient id="g6l8_7" gradientUnits="userSpaceOnUse" x1="1304.29" y1="978.54" x2="1311.34" y2="966.81"><stop offset="0" stop-color="#3a27a2"/><stop offset="0.17" stop-color="#4032bf"/><stop offset="0.33" stop-color="#453dd7"/><stop offset="0.5" stop-color="#484be6"/><stop offset="0.67" stop-color="#4b5af0"/><stop offset="0.83" stop-color="#4b68f5"/><stop offset="1" stop-color="#4778f5"/></linearGradient><linearGradient id="g6r7_7" gradientUnits="userSpaceOnUse" x1="1288.81" y1="984" x2="1268.63" y2="926.73"><stop offset="0" stop-color="#3a27a2"/><stop offset="0.04" stop-color="#4032bf"/><stop offset="0.08" stop-color="#453dd7"/><stop offset="0.12" stop-color="#484ce7"/><stop offset="0.17" stop-color="#4b5af0"/><stop offset="0.21" stop-color="#4b69f5"/><stop offset="0.25" stop-color="#4778f4"/><stop offset="0.29" stop-color="#4987ee"/><stop offset="0.33" stop-color="#4c94e4"/><stop offset="0.38" stop-color="#4fa1de"/><stop offset="0.42" stop-color="#51acd6"/><stop offset="0.46" stop-color="#52b5c8"/><stop offset="0.5" stop-color="#58bbb8"/><stop offset="0.54" stop-color="#61c1a7"/><stop offset="0.58" stop-color="#69c794"/><stop offset="0.62" stop-color="#7aca7f"/><stop offset="0.67" stop-color="#92ca68"/><stop offset="0.71" stop-color="#adc755"/><stop offset="0.75" stop-color="#c7c14a"/><stop offset="0.79" stop-color="#debd4c"/><stop offset="0.83" stop-color="#f1be57"/><stop offset="0.88" stop-color="#f5cc55"/><stop offset="0.92" stop-color="#f3dc54"/><stop offset="0.96" stop-color="#f3ec55"/><stop offset="1" stop-color="#f9fb56"/></linearGradient><linearGradient id="g6l7_7" gradientUnits="userSpaceOnUse" x1="1288.81" y1="984" x2="1317.21" y2="936.67"><stop offset="0" stop-color="#3a27a2"/><stop offset="0.04" stop-color="#4032bf"/><stop offset="0.08" stop-color="#453dd7"/><stop offset="0.12" stop-color="#484ce7"/><stop offset="0.17" stop-color="#4b5af0"/><stop offset="0.21" stop-color="#4b69f5"/><stop offset="0.25" stop-color="#4778f4"/><stop offset="0.29" stop-color="#4987ee"/><stop offset="0.33" stop-color="#4c94e4"/><stop offset="0.38" stop-color="#4fa1de"/><stop offset="0.42" stop-color="#51acd6"/><stop offset="0.46" stop-color="#52b5c8"/><stop offset="0.5" stop-color="#58bbb8"/><stop offset="0.54" stop-color="#61c1a7"/><stop offset="0.58" stop-color="#69c794"/><stop offset="0.62" stop-color="#7aca7f"/><stop offset="0.67" stop-color="#92ca68"/><stop offset="0.71" stop-color="#adc755"/><stop offset="0.75" stop-color="#c7c14a"/><stop offset="0.79" stop-color="#debd4c"/><stop offset="0.83" stop-color="#f1be57"/><stop offset="0.88" stop-color="#f5cc55"/><stop offset="0.92" stop-color="#f3dc54"/><stop offset="0.96" stop-color="#f3ec55"/><stop offset="1" stop-color="#f9fb56"/></linearGradient><linearGradient id="g6r6_7" gradientUnits="userSpaceOnUse" x1="1273.32" y1="989.46" x2="1265.14" y2="966.24"><stop offset="0" stop-color="#3a27a2"/><stop offset="0.1" stop-color="#4031be"/><stop offset="0.2" stop-color="#453dd6"/><stop offset="0.3" stop-color="#484be6"/><stop offset="0.4" stop-color="#4b59ef"/><stop offset="0.5" stop-color="#4b67f5"/><stop offset="0.6" stop-color="#4776f5"/><stop offset="0.7" stop-color="#4884ef"/><stop offset="0.8" stop-color="#4b92e6"/><stop offset="0.9" stop-color="#4e9edf"/><stop offset="1" stop-color="#51a9d8"/></linearGradient><linearGradient id="g6l6_7" gradientUnits="userSpaceOnUse" x1="1273.32" y1="989.46" x2="1284.84" y2="970.27"><stop offset="0" stop-color="#3a27a2"/><stop offset="0.1" stop-color="#4031be"/><stop offset="0.2" stop-color="#453dd6"/><stop offset="0.3" stop-color="#484be6"/><stop offset="0.4" stop-color="#4b59ef"/><stop offset="0.5" stop-color="#4b67f5"/><stop offset="0.6" stop-color="#4776f5"/><stop offset="0.7" stop-color="#4884ef"/><stop offset="0.8" stop-color="#4b92e6"/><stop offset="0.9" stop-color="#4e9edf"/><stop offset="1" stop-color="#51a9d8"/></linearGradient><linearGradient id="g6r8_6" gradientUnits="userSpaceOnUse" x1="1316.19" y1="985.69" x2="1314.16" y2="979.91"><stop offset="0" stop-color="#3a27a2"/><stop offset="0.33" stop-color="#3f30b9"/><stop offset="0.67" stop-color="#4338cf"/><stop offset="1" stop-color="#4643df"/></linearGradient><linearGradient id="g6l8_6" gradientUnits="userSpaceOnUse" x1="1316.19" y1="985.69" x2="1319.06" y2="980.91"><stop offset="0" stop-color="#3a27a2"/><stop offset="0.33" stop-color="#3f30b9"/><stop offset="0.67" stop-color="#4338cf"/><stop offset="1" stop-color="#4643df"/></linearGradient><linearGradient id="g6r7_6" gradientUnits="userSpaceOnUse" x1="1300.71" y1="991.14" x2="1283.53" y2="942.39"><stop offset="0" stop-color="#3a27a2"/><stop offset="0.05" stop-color="#4031be"/><stop offset="0.1" stop-color="#453dd6"/><stop offset="0.14" stop-color="#484be6"/><stop offset="0.19" stop-color="#4b59ef"/><stop offset="0.24" stop-color="#4b67f5"/><stop offset="0.29" stop-color="#4776f5"/><stop offset="0.33" stop-color="#4884ef"/><stop offset="0.38" stop-color="#4b92e6"/><stop offset="0.43" stop-color="#4e9edf"/><stop offset="0.48" stop-color="#51a9d8"/><stop offset="0.52" stop-color="#52b2cc"/><stop offset="0.57" stop-color="#55b9bd"/><stop offset="0.62" stop-color="#5ebfad"/><stop offset="0.67" stop-color="#66c59c"/><stop offset="0.71" stop-color="#72c988"/><stop offset="0.76" stop-color="#87ca71"/><stop offset="0.81" stop-color="#a0c85d"/><stop offset="0.86" stop-color="#bac44e"/><stop offset="0.9" stop-color="#d3bf4a"/><stop offset="0.95" stop-color="#e8bc52"/><stop offset="1" stop-color="#f5c456"/></linearGradient><linearGradient id="g6l7_6" gradientUnits="userSpaceOnUse" x1="1300.71" y1="991.14" x2="1324.89" y2="950.85"><stop offset="0" stop-color="#3a27a2"/><stop offset="0.05" stop-color="#4031be"/><stop offset="0.1" stop-color="#453dd6"/><stop offset="0.14" stop-color="#484be6"/><stop offset="0.19" stop-color="#4b59ef"/><stop offset="0.24" stop-color="#4b67f5"/><stop offset="0.29" stop-color="#4776f5"/><stop offset="0.33" stop-color="#4884ef"/><stop offset="0.38" stop-color="#4b92e6"/><stop offset="0.43" stop-color="#4e9edf"/><stop offset="0.48" stop-color="#51a9d8"/><stop offset="0.52" stop-color="#52b2cc"/><stop offset="0.57" stop-color="#55b9bd"/><stop offset="0.62" stop-color="#5ebfad"/><stop offset="0.67" stop-color="#66c59c"/><stop offset="0.71" stop-color="#72c988"/><stop offset="0.76" stop-color="#87ca71"/><stop offset="0.81" stop-color="#a0c85d"/><stop offset="0.86" stop-color="#bac44e"/><stop offset="0.9" stop-color="#d3bf4a"/><stop offset="0.95" stop-color="#e8bc52"/><stop offset="1" stop-color="#f5c456"/></linearGradient><linearGradient id="g6r6_6" gradientUnits="userSpaceOnUse" x1="1285.22" y1="996.6" x2="1284.37" y2="994.19"><stop offset="0" stop-color="#3a27a2"/><stop offset="0.5" stop-color="#3d2cb1"/><stop offset="1" stop-color="#4032bf"/></linearGradient><linearGradient id="g6l6_6" gradientUnits="userSpaceOnUse" x1="1285.22" y1="996.6" x2="1286.42" y2="994.61"><stop offset="0" stop-color="#3a27a2"/><stop offset="0.5" stop-color="#3d2cb1"/><stop offset="1" stop-color="#4032bf"/></linearGradient><linearGradient id="g6r4_6" gradientUnits="userSpaceOnUse" x1="1254.25" y1="1007.51" x2="1253.23" y2="1004.63"><stop offset="0" stop-color="#3a27a2"/><stop offset="0.5" stop-color="#3e2db4"/><stop offset="1" stop-color="#4134c5"/></linearGradient><linearGradient id="g6l4_6" gradientUnits="userSpaceOnUse" x1="1254.25" y1="1007.51" x2="1255.68" y2="1005.13"><stop offset="0" stop-color="#3a27a2"/><stop offset="0.5" stop-color="#3e2db4"/><stop offset="1" stop-color="#4134c5"/></linearGradient><linearGradient id="g6r7_5" gradientUnits="userSpaceOnUse" x1="1312.61" y1="998.29" x2="1309.38" y2="989.14"><stop offset="0" stop-color="#3a27a2"/><stop offset="0.25" stop-color="#4031be"/><stop offset="0.5" stop-color="#443cd6"/><stop offset="0.75" stop-color="#484ae5"/><stop offset="1" stop-color="#4b58ef"/></linearGradient><linearGradient id="g6l7_5" gradientUnits="userSpaceOnUse" x1="1312.61" y1="998.29" x2="1317.14" y2="990.73"><stop offset="0" stop-color="#3a27a2"/><stop offset="0.25" stop-color="#4031be"/><stop offset="0.5" stop-color="#443cd6"/><stop offset="0.75" stop-color="#484ae5"/><stop offset="1" stop-color="#4b58ef"/></linearGradient><linearGradient id="g6r4_5" gradientUnits="userSpaceOnUse" x1="1266.15" y1="1014.66" x2="1265.18" y2="1011.9"><stop offset="0" stop-color="#3a27a2"/><stop offset="0.5" stop-color="#3e2db3"/><stop offset="1" stop-color="#4133c3"/></linearGradient><linearGradient id="g6l4_5" gradientUnits="userSpaceOnUse" x1="1266.15" y1="1014.66" x2="1267.52" y2="1012.38"><stop offset="0" stop-color="#3a27a2"/><stop offset="0.5" stop-color="#3e2db3"/><stop offset="1" stop-color="#4133c3"/></linearGradient></defs>
<rect width="1544" height="1246" fill="#fff"/>
<g fill="none"><path d="M90.5 451.88L90.5 235.48" stroke="#e7e7e7" stroke-width="1"/><path d="M451.5 474.06L451.5 257.66" stroke="#e7e7e7" stroke-width="1"/><path d="M257.2 551.88L90.6 451.88" stroke="#dedede" stroke-width="0.5"/><path d="M234.03 550.46L450.83 474.06" stroke="#dedede" stroke-width="0.5"/><path d="M138.5 435.09L138.5 218.69" stroke="#e7e7e7" stroke-width="1"/><path d="M414.5 452.08L414.5 235.68" stroke="#e7e7e7" stroke-width="1"/><path d="M304.85 535.09L138.25 435.09" stroke="#dedede" stroke-width="0.5"/><path d="M197.42 528.48L414.22 452.08" stroke="#dedede" stroke-width="0.5"/><path d="M185.5 418.3L185.5 201.9" stroke="#e7e7e7" stroke-width="1"/><path d="M378.5 430.1L378.5 213.7" stroke="#e7e7e7" stroke-width="1"/><path d="M352.5 518.3L185.9 418.3" stroke="#dedede" stroke-width="0.5"/><path d="M160.8 506.5L377.6 430.1" stroke="#dedede" stroke-width="0.5"/><path d="M233.5 401.51L233.5 185.11" stroke="#f4f4f4" stroke-width="1"/><path d="M341.5 408.12L341.5 191.72" stroke="#e7e7e7" stroke-width="1"/><path d="M400.15 501.51L233.55 401.51" stroke="#dedede" stroke-width="0.5"/><path d="M124.18 484.52L340.98 408.12" stroke="#dedede" stroke-width="0.5"/><path d="M281.5 384.72L281.5 168.32" stroke="#f4f4f4" stroke-width="1"/><path d="M304.5 386.14L304.5 169.74" stroke="#f4f4f4" stroke-width="1"/><path d="M447.8 484.72L281.2 384.72" stroke="#dedede" stroke-width="0.5"/><path d="M87.57 462.54L304.37 386.14" stroke="#dedede" stroke-width="0.5"/><path d="M77.5 456.5L294.3 380.1L460.9 480.1" stroke="#dedede" stroke-width="0.5" fill="none"/><path d="M77.5 402.4L294.3 326L460.9 426" stroke="#dedede" stroke-width="0.5" fill="none"/><path d="M77.5 348.3L294.3 271.9L460.9 371.9" stroke="#dedede" stroke-width="0.5" fill="none"/><path d="M77.5 294.2L294.3 217.8L460.9 317.8" stroke="#dedede" stroke-width="0.5" fill="none"/><path d="M77.5 240.1L294.3 163.7L460.9 263.7" stroke="#dedede" stroke-width="0.5" fill="none"/><path d="M601.5 451.88L601.5 235.48" stroke="#e7e7e7" stroke-width="1"/><path d="M962.5 474.06L962.5 257.66" stroke="#e7e7e7" stroke-width="1"/><path d="M768.2 551.88L601.6 451.88" stroke="#dedede" stroke-width="0.5"/><path d="M745.03 550.46L961.83 474.06" stroke="#dedede" stroke-width="0.5"/><path d="M649.5 435.09L649.5 218.69" stroke="#e7e7e7" stroke-width="1"/><path d="M925.5 452.08L925.5 235.68" stroke="#e7e7e7" stroke-width="1"/><path d="M815.85 535.09L649.25 435.09" stroke="#dedede" stroke-width="0.5"/><path d="M708.42 528.48L925.22 452.08" stroke="#dedede" stroke-width="0.5"/><path d="M696.5 418.3L696.5 201.9" stroke="#e7e7e7" stroke-width="1"/><path d="M889.5 430.1L889.5 213.7" stroke="#e7e7e7" stroke-width="1"/><path d="M863.5 518.3L696.9 418.3" stroke="#dedede" stroke-width="0.5"/><path d="M671.8 506.5L888.6 430.1" stroke="#dedede" stroke-width="0.5"/><path d="M744.5 401.51L744.5 185.11" stroke="#f4f4f4" stroke-width="1"/><path d="M852.5 408.12L852.5 191.72" stroke="#e7e7e7" stroke-width="1"/><path d="M911.15 501.51L744.55 401.51" stroke="#dedede" stroke-width="0.5"/><path d="M635.18 484.52L851.98 408.12" stroke="#dedede" stroke-width="0.5"/><path d="M792.5 384.72L792.5 168.32" stroke="#f4f4f4" stroke-width="1"/><path d="M815.5 386.14L815.5 169.74" stroke="#f4f4f4" stroke-width="1"/><path d="M958.8 484.72L792.2 384.72" stroke="#dedede" stroke-width="0.5"/><path d="M598.57 462.54L815.37 386.14" stroke="#dedede" stroke-width="0.5"/><path d="M588.5 456.5L805.3 380.1L971.9 480.1" stroke="#dedede" stroke-width="0.5" fill="none"/><path d="M588.5 402.4L805.3 326L971.9 426" stroke="#dedede" stroke-width="0.5" fill="none"/><path d="M588.5 348.3L805.3 271.9L971.9 371.9" stroke="#dedede" stroke-width="0.5" fill="none"/><path d="M588.5 294.2L805.3 217.8L971.9 317.8" stroke="#dedede" stroke-width="0.5" fill="none"/><path d="M588.5 240.1L805.3 163.7L971.9 263.7" stroke="#dedede" stroke-width="0.5" fill="none"/><path d="M1113.5 451.88L1113.5 235.48" stroke="#e7e7e7" stroke-width="1"/><path d="M1474.5 474.06L1474.5 257.66" stroke="#e7e7e7" stroke-width="1"/><path d="M1280.2 551.88L1113.6 451.88" stroke="#dedede" stroke-width="0.5"/><path d="M1257.03 550.46L1473.83 474.06" stroke="#dedede" stroke-width="0.5"/><path d="M1161.5 435.09L1161.5 218.69" stroke="#e7e7e7" stroke-width="1"/><path d="M1437.5 452.08L1437.5 235.68" stroke="#e7e7e7" stroke-width="1"/><path d="M1327.85 535.09L1161.25 435.09" stroke="#dedede" stroke-width="0.5"/><path d="M1220.42 528.48L1437.22 452.08" stroke="#dedede" stroke-width="0.5"/><path d="M1208.5 418.3L1208.5 201.9" stroke="#e7e7e7" stroke-width="1"/><path d="M1401.5 430.1L1401.5 213.7" stroke="#e7e7e7" stroke-width="1"/><path d="M1375.5 518.3L1208.9 418.3" stroke="#dedede" stroke-width="0.5"/><path d="M1183.8 506.5L1400.6 430.1" stroke="#dedede" stroke-width="0.5"/><path d="M1256.5 401.51L1256.5 185.11" stroke="#f4f4f4" stroke-width="1"/><path d="M1364.5 408.12L1364.5 191.72" stroke="#e7e7e7" stroke-width="1"/><path d="M1423.15 501.51L1256.55 401.51" stroke="#dedede" stroke-width="0.5"/><path d="M1147.18 484.52L1363.98 408.12" stroke="#dedede" stroke-width="0.5"/><path d="M1304.5 384.72L1304.5 168.32" stroke="#f4f4f4" stroke-width="1"/><path d="M1327.5 386.14L1327.5 169.74" stroke="#f4f4f4" stroke-width="1"/><path d="M1470.8 484.72L1304.2 384.72" stroke="#dedede" stroke-width="0.5"/><path d="M1110.57 462.54L1327.37 386.14" stroke="#dedede" stroke-width="0.5"/><path d="M1100.5 456.5L1317.3 380.1L1483.9 480.1" stroke="#dedede" stroke-width="0.5" fill="none"/><path d="M1100.5 402.4L1317.3 326L1483.9 426" stroke="#dedede" stroke-width="0.5" fill="none"/><path d="M1100.5 348.3L1317.3 271.9L1483.9 371.9" stroke="#dedede" stroke-width="0.5" fill="none"/><path d="M1100.5 294.2L1317.3 217.8L1483.9 317.8" stroke="#dedede" stroke-width="0.5" fill="none"/><path d="M1100.5 240.1L1317.3 163.7L1483.9 263.7" stroke="#dedede" stroke-width="0.5" fill="none"/><path d="M90.5 960.88L90.5 744.48" stroke="#e7e7e7" stroke-width="1"/><path d="M451.5 983.06L451.5 766.66" stroke="#e7e7e7" stroke-width="1"/><path d="M257.2 1060.88L90.6 960.88" stroke="#dedede" stroke-width="0.5"/><path d="M234.03 1059.46L450.83 983.06" stroke="#dedede" stroke-width="0.5"/><path d="M138.5 944.09L138.5 727.69" stroke="#e7e7e7" stroke-width="1"/><path d="M414.5 961.08L414.5 744.68" stroke="#e7e7e7" stroke-width="1"/><path d="M304.85 1044.09L138.25 944.09" stroke="#dedede" stroke-width="0.5"/><path d="M197.42 1037.48L414.22 961.08" stroke="#dedede" stroke-width="0.5"/><path d="M185.5 927.3L185.5 710.9" stroke="#e7e7e7" stroke-width="1"/><path d="M378.5 939.1L378.5 722.7" stroke="#e7e7e7" stroke-width="1"/><path d="M352.5 1027.3L185.9 927.3" stroke="#dedede" stroke-width="0.5"/><path d="M160.8 1015.5L377.6 939.1" stroke="#dedede" stroke-width="0.5"/><path d="M233.5 910.51L233.5 694.11" stroke="#f4f4f4" stroke-width="1"/><path d="M341.5 917.12L341.5 700.72" stroke="#e7e7e7" stroke-width="1"/><path d="M400.15 1010.51L233.55 910.51" stroke="#dedede" stroke-width="0.5"/><path d="M124.18 993.52L340.98 917.12" stroke="#dedede" stroke-width="0.5"/><path d="M281.5 893.72L281.5 677.32" stroke="#f4f4f4" stroke-width="1"/><path d="M304.5 895.14L304.5 678.74" stroke="#f4f4f4" stroke-width="1"/><path d="M447.8 993.72L281.2 893.72" stroke="#dedede" stroke-width="0.5"/><path d="M87.57 971.54L304.37 895.14" stroke="#dedede" stroke-width="0.5"/><path d="M77.5 965.5L294.3 889.1L460.9 989.1" stroke="#dedede" stroke-width="0.5" fill="none"/><path d="M77.5 911.4L294.3 835L460.9 935" stroke="#dedede" stroke-width="0.5" fill="none"/><path d="M77.5 857.3L294.3 780.9L460.9 880.9" stroke="#dedede" stroke-width="0.5" fill="none"/><path d="M77.5 803.2L294.3 726.8L460.9 826.8" stroke="#dedede" stroke-width="0.5" fill="none"/><path d="M77.5 749.1L294.3 672.7L460.9 772.7" stroke="#dedede" stroke-width="0.5" fill="none"/><path d="M601.5 960.88L601.5 744.48" stroke="#e7e7e7" stroke-width="1"/><path d="M962.5 983.06L962.5 766.66" stroke="#e7e7e7" stroke-width="1"/><path d="M768.2 1060.88L601.6 960.88" stroke="#dedede" stroke-width="0.5"/><path d="M745.03 1059.46L961.83 983.06" stroke="#dedede" stroke-width="0.5"/><path d="M649.5 944.09L649.5 727.69" stroke="#e7e7e7" stroke-width="1"/><path d="M925.5 961.08L925.5 744.68" stroke="#e7e7e7" stroke-width="1"/><path d="M815.85 1044.09L649.25 944.09" stroke="#dedede" stroke-width="0.5"/><path d="M708.42 1037.48L925.22 961.08" stroke="#dedede" stroke-width="0.5"/><path d="M696.5 927.3L696.5 710.9" stroke="#e7e7e7" stroke-width="1"/><path d="M889.5 939.1L889.5 722.7" stroke="#e7e7e7" stroke-width="1"/><path d="M863.5 1027.3L696.9 927.3" stroke="#dedede" stroke-width="0.5"/><path d="M671.8 1015.5L888.6 939.1" stroke="#dedede" stroke-width="0.5"/><path d="M744.5 910.51L744.5 694.11" stroke="#f4f4f4" stroke-width="1"/><path d="M852.5 917.12L852.5 700.72" stroke="#e7e7e7" stroke-width="1"/><path d="M911.15 1010.51L744.55 910.51" stroke="#dedede" stroke-width="0.5"/><path d="M635.18 993.52L851.98 917.12" stroke="#dedede" stroke-width="0.5"/><path d="M792.5 893.72L792.5 677.32" stroke="#f4f4f4" stroke-width="1"/><path d="M815.5 895.14L815.5 678.74" stroke="#f4f4f4" stroke-width="1"/><path d="M958.8 993.72L792.2 893.72" stroke="#dedede" stroke-width="0.5"/><path d="M598.57 971.54L815.37 895.14" stroke="#dedede" stroke-width="0.5"/><path d="M588.5 965.5L805.3 889.1L971.9 989.1" stroke="#dedede" stroke-width="0.5" fill="none"/><path d="M588.5 911.4L805.3 835L971.9 935" stroke="#dedede" stroke-width="0.5" fill="none"/><path d="M588.5 857.3L805.3 780.9L971.9 880.9" stroke="#dedede" stroke-width="0.5" fill="none"/><path d="M588.5 803.2L805.3 726.8L971.9 826.8" stroke="#dedede" stroke-width="0.5" fill="none"/><path d="M588.5 749.1L805.3 672.7L971.9 772.7" stroke="#dedede" stroke-width="0.5" fill="none"/><path d="M1111.5 960.88L1111.5 744.48" stroke="#e7e7e7" stroke-width="1"/><path d="M1472.5 983.06L1472.5 766.66" stroke="#e7e7e7" stroke-width="1"/><path d="M1278.2 1060.88L1111.6 960.88" stroke="#dedede" stroke-width="0.5"/><path d="M1255.03 1059.46L1471.83 983.06" stroke="#dedede" stroke-width="0.5"/><path d="M1159.5 944.09L1159.5 727.69" stroke="#e7e7e7" stroke-width="1"/><path d="M1435.5 961.08L1435.5 744.68" stroke="#e7e7e7" stroke-width="1"/><path d="M1325.85 1044.09L1159.25 944.09" stroke="#dedede" stroke-width="0.5"/><path d="M1218.42 1037.48L1435.22 961.08" stroke="#dedede" stroke-width="0.5"/><path d="M1206.5 927.3L1206.5 710.9" stroke="#e7e7e7" stroke-width="1"/><path d="M1399.5 939.1L1399.5 722.7" stroke="#e7e7e7" stroke-width="1"/><path d="M1373.5 1027.3L1206.9 927.3" stroke="#dedede" stroke-width="0.5"/><path d="M1181.8 1015.5L1398.6 939.1" stroke="#dedede" stroke-width="0.5"/><path d="M1254.5 910.51L1254.5 694.11" stroke="#f4f4f4" stroke-width="1"/><path d="M1362.5 917.12L1362.5 700.72" stroke="#e7e7e7" stroke-width="1"/><path d="M1421.15 1010.51L1254.55 910.51" stroke="#dedede" stroke-width="0.5"/><path d="M1145.18 993.52L1361.98 917.12" stroke="#dedede" stroke-width="0.5"/><path d="M1302.5 893.72L1302.5 677.32" stroke="#f4f4f4" stroke-width="1"/><path d="M1325.5 895.14L1325.5 678.74" stroke="#f4f4f4" stroke-width="1"/><path d="M1468.8 993.72L1302.2 893.72" stroke="#dedede" stroke-width="0.5"/><path d="M1108.57 971.54L1325.37 895.14" stroke="#dedede" stroke-width="0.5"/><path d="M1098.5 965.5L1315.3 889.1L1481.9 989.1" stroke="#dedede" stroke-width="0.5" fill="none"/><path d="M1098.5 911.4L1315.3 835L1481.9 935" stroke="#dedede" stroke-width="0.5" fill="none"/><path d="M1098.5 857.3L1315.3 780.9L1481.9 880.9" stroke="#dedede" stroke-width="0.5" fill="none"/><path d="M1098.5 803.2L1315.3 726.8L1481.9 826.8" stroke="#dedede" stroke-width="0.5" fill="none"/><path d="M1098.5 749.1L1315.3 672.7L1481.9 772.7" stroke="#dedede" stroke-width="0.5" fill="none"/></g>
<g stroke="#000" stroke-width="0.65" stroke-linejoin="round"><g><polygon points="289.32,399.4 304.81,393.94 292.91,386.8 277.42,392.26" fill="#3a27a2"/><polygon points="273.84,404.82 289.32,399.36 277.42,392.22 261.94,397.67" fill="#3a27a2"/><polygon points="258.35,410.3 273.84,404.84 261.94,397.7 246.45,403.16" fill="#3a27a2"/><polygon points="242.86,415.74 258.35,410.28 246.45,403.14 230.96,408.6" fill="#3a27a2"/><polygon points="227.38,421.17 242.86,415.71 230.96,408.57 215.48,414.03" fill="#3a27a2"/><polygon points="211.89,426.68 227.38,421.23 215.48,414.08 199.99,419.54" fill="#3a27a2"/><polygon points="196.41,432.07 211.89,426.61 199.99,419.47 184.51,424.93" fill="#3a27a2"/><polygon points="180.92,437.6 196.41,432.14 184.51,425 169.02,430.45" fill="#3a27a2"/><polygon points="165.44,443.05 180.92,437.59 169.02,430.45 153.54,435.9" fill="#3a27a2"/><polygon points="149.95,448.49 165.44,443.03 153.54,435.89 138.05,441.34" fill="#3a27a2"/><polygon points="134.46,453.94 149.95,448.48 138.05,441.34 122.56,446.8" fill="#3a27a2"/><polygon points="118.98,459.41 134.46,453.96 122.56,446.81 107.08,452.27" fill="#3a27a2"/><polygon points="103.49,464.84 118.98,459.38 107.08,452.24 91.59,457.7" fill="#3a27a2"/><polygon points="301.22,406.51 316.71,401.05 304.81,393.91 289.32,399.37" fill="#3a27a2"/><polygon points="285.74,412 301.22,406.54 289.32,399.4 273.84,404.86" fill="#3a27a2"/><polygon points="270.25,417.45 285.74,411.99 273.84,404.85 258.35,410.3" fill="#3a27a2"/><polygon points="254.76,422.91 270.25,417.46 258.35,410.31 242.86,415.77" fill="#3a27a2"/><polygon points="239.28,428.34 254.76,422.89 242.86,415.74 227.38,421.2" fill="#3a27a2"/><polygon points="223.79,433.8 239.28,428.35 227.38,421.2 211.89,426.66" fill="#3a27a2"/><polygon points="208.31,439.26 223.79,433.8 211.89,426.66 196.41,432.12" fill="#3a27a2"/><polygon points="192.82,444.73 208.31,439.27 196.41,432.13 180.92,437.59" fill="#3a27a2"/><polygon points="177.34,450.16 192.82,444.71 180.92,437.56 165.44,443.02" fill="#3a27a2"/><polygon points="161.85,455.65 177.34,450.19 165.44,443.05 149.95,448.51" fill="#3a27a2"/><polygon points="146.36,461.09 161.85,455.63 149.95,448.49 134.46,453.95" fill="#3a27a2"/><polygon points="130.88,466.57 146.36,461.11 134.46,453.97 118.98,459.42" fill="#3a27a2"/><polygon points="115.39,472.01 130.88,466.56 118.98,459.41 103.49,464.87" fill="#3a27a2"/><polygon points="313.12,413.68 328.61,408.22 316.71,401.08 301.22,406.53" fill="#3a27a2"/><polygon points="297.64,419.1 313.12,413.64 301.22,406.5 285.74,411.96" fill="#3a27a2"/><polygon points="282.15,424.6 297.64,419.14 285.74,412 270.25,417.46" fill="#3a27a2"/><polygon points="266.66,430.05 282.15,424.59 270.25,417.45 254.76,422.91" fill="#3a27a2"/><polygon points="251.18,435.51 266.66,430.05 254.76,422.91 239.28,428.37" fill="#3a27a2"/><polygon points="235.69,440.91 251.18,435.45 239.28,428.31 223.79,433.77" fill="#3a27a2"/><polygon points="220.21,446.42 235.69,440.97 223.79,433.82 208.31,439.28" fill="#3a27a2"/><polygon points="204.72,451.86 220.21,446.4 208.31,439.26 192.82,444.71" fill="#3a27a2"/><polygon points="189.24,457.3 204.72,451.85 192.82,444.7 177.34,450.16" fill="#3a27a2"/><polygon points="173.75,462.76 189.24,457.31 177.34,450.16 161.85,455.62" fill="#3a27a2"/><polygon points="158.26,468.2 173.75,462.74 161.85,455.6 146.36,461.06" fill="#3a27a2"/><polygon points="142.78,473.7 158.26,468.25 146.36,461.1 130.88,466.56" fill="#3a27a2"/><polygon points="127.29,479.11 142.78,473.66 130.88,466.51 115.39,471.97" fill="#3a27a2"/><polygon points="325.02,420.8 340.51,415.34 328.61,408.2 313.12,413.66" fill="#3a27a2"/><polygon points="309.54,426.28 325.02,420.83 313.12,413.68 297.64,419.14" fill="#3a27a2"/><polygon points="294.05,431.72 309.54,426.27 297.64,419.12 282.15,424.58" fill="#3a27a2"/><polygon points="278.56,436.89 294.05,431.43 282.15,424.29 266.66,429.75" fill="#3b28a3"/><polygon points="263.08,442.63 278.56,437.17 266.66,430.03 251.18,435.49" fill="#3a27a2"/><polygon points="247.59,448.11 263.08,442.66 251.18,435.51 235.69,440.97" fill="#3a27a2"/><polygon points="232.11,453.46 247.59,448 235.69,440.86 220.21,446.31" fill="#3a28a2"/><polygon points="216.62,458.51 232.11,453.05 220.21,445.91 204.72,451.36" fill="#3b28a4"/><polygon points="201.14,464.32 216.62,458.87 204.72,451.72 189.24,457.18" fill="#3a28a3"/><polygon points="185.65,469.57 201.14,464.11 189.24,456.97 173.75,462.43" fill="#3b28a3"/><polygon points="170.16,475.4 185.65,469.94 173.75,462.8 158.26,468.26" fill="#3a27a2"/><polygon points="154.68,480.79 170.16,475.33 158.26,468.19 142.78,473.64" fill="#3a27a2"/><polygon points="139.19,486.31 154.68,480.86 142.78,473.71 127.29,479.17" fill="#3a27a2"/><polygon points="336.92,427.96 352.41,422.5 340.51,415.36 325.02,420.82" fill="#3a27a2"/><polygon points="321.44,433.43 336.92,427.97 325.02,420.83 309.54,426.29" fill="#3a27a2"/><polygon points="305.95,438.88 321.44,433.42 309.54,426.28 294.05,431.73" fill="#3a27a2"/><polygon points="290.46,444.34 305.95,438.89 294.05,431.74 278.56,437.2" fill="#3a27a2"/><polygon points="274.98,449.8 290.46,444.34 278.56,437.2 263.08,442.66" fill="#3a27a2"/><polygon points="259.49,455.16 274.98,449.7 263.08,442.56 247.59,448.02" fill="#3a28a2"/><polygon points="244.01,460.71 259.49,455.26 259.49,453.9 244.01,459.36" fill="#3b28a5"/><polygon points="244.01,460.71 232.11,453.57 232.11,452.22 244.01,459.36" fill="#3b28a5"/><polygon points="244.01,459.36 259.49,453.9 247.59,446.76 232.11,452.22" fill="#3c29a8"/><polygon points="228.52,465.9 244.01,460.45 232.11,453.3 216.62,458.76" fill="#3b28a3"/><polygon points="213.04,471.61 228.52,466.16 216.62,459.01 201.14,464.47" fill="#3a27a2"/><polygon points="197.55,476.99 213.04,471.53 201.14,464.39 185.65,469.85" fill="#3a28a2"/><polygon points="182.06,482.54 197.55,477.08 185.65,469.94 170.16,475.39" fill="#3a27a2"/><polygon points="166.58,487.98 182.06,482.52 170.16,475.38 154.68,480.83" fill="#3a27a2"/><polygon points="151.09,493.46 166.58,488 154.68,480.86 139.19,486.31" fill="#3a27a2"/><polygon points="348.82,435.08 364.31,429.62 352.41,422.48 336.92,427.94" fill="#3a27a2"/><polygon points="333.34,440.57 348.82,435.11 336.92,427.97 321.44,433.43" fill="#3a27a2"/><polygon points="317.85,446.01 333.34,440.55 321.44,433.41 305.95,438.87" fill="#3a27a2"/><polygon points="302.36,451.49 317.85,446.03 305.95,438.89 290.46,444.34" fill="#3a27a2"/><polygon points="286.88,456.83 302.36,451.37 290.46,444.23 274.98,449.69" fill="#3a28a2"/><polygon points="271.39,462.4 286.88,456.94 286.88,452.89 271.39,458.34" fill="url(#g1r8_8)"/><polygon points="271.39,462.4 259.49,455.26 259.49,451.2 271.39,458.34" fill="url(#g1l8_8)"/><polygon points="271.39,458.34 286.88,452.89 274.98,445.74 259.49,451.2" fill="#3e2db3"/><polygon points="255.91,467.86 271.39,462.4 271.39,445.63 255.91,451.09" fill="url(#g1r7_8)"/><polygon points="255.91,467.86 244.01,460.71 244.01,443.94 255.91,451.09" fill="url(#g1l7_8)"/><polygon points="255.91,451.09 271.39,445.63 259.49,438.49 244.01,443.94" fill="#4744df"/><polygon points="240.42,473.31 255.91,467.86 255.91,462.99 240.42,468.45" fill="url(#g1r6_8)"/><polygon points="240.42,473.31 228.52,466.17 228.52,461.3 240.42,468.45" fill="url(#g1l6_8)"/><polygon points="240.42,468.45 255.91,462.99 244.01,455.85 228.52,461.3" fill="#3e2fb7"/><polygon points="224.94,478.68 240.42,473.22 228.52,466.08 213.04,471.54" fill="#3a27a2"/><polygon points="209.45,483.75 224.94,478.3 213.04,471.15 197.55,476.61" fill="#3b28a4"/><polygon points="193.96,489.67 209.45,484.21 197.55,477.07 182.06,482.53" fill="#3a27a2"/><polygon points="178.48,495.14 193.96,489.69 182.06,482.54 166.58,488" fill="#3a27a2"/><polygon points="162.99,500.55 178.48,495.09 166.58,487.95 151.09,493.41" fill="#3a27a2"/><polygon points="360.72,442.25 376.21,436.8 364.31,429.65 348.82,435.11" fill="#3a27a2"/><polygon points="345.24,447.66 360.72,442.2 348.82,435.06 333.34,440.52" fill="#3a27a2"/><polygon points="329.75,453.13 345.24,447.67 333.34,440.53 317.85,445.99" fill="#3a27a2"/><polygon points="314.26,458.62 329.75,453.17 317.85,446.02 302.36,451.48" fill="#3a27a2"/><polygon points="298.78,464.09 314.26,458.63 314.26,457.28 298.78,462.73" fill="#3b28a5"/><polygon points="298.78,464.09 286.88,456.94 286.88,455.59 298.78,462.73" fill="#3b28a5"/><polygon points="298.78,462.73 314.26,457.28 302.36,450.13 286.88,455.59" fill="#3c29a8"/><polygon points="283.29,469.54 298.78,464.09 298.78,445.42 283.29,450.88" fill="url(#g1r8_7)"/><polygon points="283.29,469.54 271.39,462.4 271.39,443.74 283.29,450.88" fill="url(#g1l8_7)"/><polygon points="283.29,450.88 298.78,445.42 286.88,438.28 271.39,443.74" fill="#4848e3"/><polygon points="267.81,475 283.29,469.54 283.29,304.11 267.81,309.56" fill="url(#g1r7_7)"/><polygon points="267.81,475 255.91,467.86 255.91,302.42 267.81,309.56" fill="url(#g1l7_7)"/><polygon points="267.81,309.56 283.29,304.11 271.39,296.96 255.91,302.42" fill="#f9fb56"/><polygon points="252.32,480.46 267.81,475 267.81,461.2 252.32,466.66" fill="url(#g1r6_7)"/><polygon points="252.32,480.46 240.42,473.31 240.42,459.52 252.32,466.66" fill="url(#g1l6_7)"/><polygon points="252.32,466.66 267.81,461.2 255.91,454.06 240.42,459.52" fill="#453dd7"/><polygon points="236.84,485.91 252.32,480.46 252.32,479.38 236.84,484.83" fill="#3b28a4"/><polygon points="236.84,485.91 224.94,478.77 224.94,477.69 236.84,484.83" fill="#3b28a4"/><polygon points="236.84,484.83 252.32,479.38 240.42,472.23 224.94,477.69" fill="#3b29a7"/><polygon points="221.35,491.1 236.84,485.64 224.94,478.5 209.45,483.95" fill="#3b28a3"/><polygon points="205.86,496.82 221.35,491.37 209.45,484.22 193.96,489.68" fill="#3a27a2"/><polygon points="190.38,502.29 205.86,496.83 193.96,489.69 178.48,495.14" fill="#3a27a2"/><polygon points="174.89,507.71 190.38,502.25 178.48,495.11 162.99,500.57" fill="#3a27a2"/><polygon points="372.62,449.38 388.11,443.92 376.21,436.78 360.72,442.24" fill="#3a27a2"/><polygon points="357.14,454.83 372.62,449.37 360.72,442.23 345.24,447.68" fill="#3a27a2"/><polygon points="341.65,460.31 357.14,454.85 345.24,447.71 329.75,453.17" fill="#3a27a2"/><polygon points="326.16,465.53 341.65,460.07 329.75,452.93 314.26,458.38" fill="#3b28a3"/><polygon points="310.68,471.02 326.16,465.56 314.26,458.42 298.78,463.88" fill="#3b28a3"/><polygon points="295.19,476.69 310.68,471.23 310.68,466.9 295.19,472.36" fill="url(#g1r8_6)"/><polygon points="295.19,476.69 283.29,469.54 283.29,465.21 295.19,472.36" fill="url(#g1l8_6)"/><polygon points="295.19,472.36 310.68,466.9 298.78,459.76 283.29,465.21" fill="#3e2eb4"/><polygon points="279.71,482.14 295.19,476.69 295.19,463.16 279.71,468.62" fill="url(#g1r7_6)"/><polygon points="279.71,482.14 267.81,475 267.81,461.48 279.71,468.62" fill="url(#g1l7_6)"/><polygon points="279.71,468.62 295.19,463.16 283.29,456.02 267.81,461.48" fill="#453dd7"/><polygon points="264.22,487.6 279.71,482.14 279.71,478.63 264.22,484.08" fill="url(#g1r6_6)"/><polygon points="264.22,487.6 252.32,480.46 252.32,476.94 264.22,484.08" fill="url(#g1l6_6)"/><polygon points="264.22,484.08 279.71,478.63 267.81,471.48 252.32,476.94" fill="#3d2cb1"/><polygon points="248.74,493.03 264.22,487.57 252.32,480.43 236.84,485.88" fill="#3a27a2"/><polygon points="233.25,498.23 248.74,492.78 236.84,485.63 221.35,491.09" fill="#3b28a3"/><polygon points="217.76,503.97 233.25,498.51 221.35,491.37 205.86,496.82" fill="#3a27a2"/><polygon points="202.28,509.36 217.76,503.91 205.86,496.76 190.38,502.22" fill="#3a27a2"/><polygon points="186.79,514.87 202.28,509.41 190.38,502.27 174.89,507.73" fill="#3a27a2"/><polygon points="384.52,456.49 400.01,451.03 388.11,443.89 372.62,449.35" fill="#3a27a2"/><polygon points="369.04,462 384.52,456.54 372.62,449.4 357.14,454.85" fill="#3a27a2"/><polygon points="353.55,467.45 369.04,462 357.14,454.85 341.65,460.31" fill="#3a27a2"/><polygon points="338.06,472.53 353.55,467.07 341.65,459.93 326.16,465.39" fill="#3b28a4"/><polygon points="322.58,478.21 338.06,472.76 326.16,465.61 310.68,471.07" fill="#3a28a3"/><polygon points="307.09,483.53 322.58,478.07 310.68,470.93 295.19,476.39" fill="#3b28a3"/><polygon points="291.61,489.29 307.09,483.83 307.09,482.75 291.61,488.2" fill="#3b28a4"/><polygon points="291.61,489.29 279.71,482.14 279.71,481.06 291.61,488.2" fill="#3b28a4"/><polygon points="291.61,488.2 307.09,482.75 295.19,475.6 279.71,481.06" fill="#3b29a7"/><polygon points="276.12,494.66 291.61,489.2 279.71,482.06 264.22,487.52" fill="#3a27a2"/><polygon points="260.64,500.2 276.12,494.74 264.22,487.6 248.74,493.06" fill="#3a27a2"/><polygon points="245.15,505.6 260.64,500.14 248.74,493 233.25,498.45" fill="#3a27a2"/><polygon points="229.66,511.11 245.15,505.65 233.25,498.51 217.76,503.97" fill="#3a27a2"/><polygon points="214.18,516.5 229.66,511.04 217.76,503.9 202.28,509.36" fill="#3a27a2"/><polygon points="198.69,522.01 214.18,516.55 202.28,509.41 186.79,514.87" fill="#3a27a2"/><polygon points="396.42,463.61 411.91,458.15 400.01,451.01 384.52,456.47" fill="#3a27a2"/><polygon points="380.94,469.12 396.42,463.66 384.52,456.52 369.04,461.98" fill="#3a27a2"/><polygon points="365.45,474.58 380.94,469.12 369.04,461.98 353.55,467.43" fill="#3a27a2"/><polygon points="349.96,480.02 365.45,474.56 353.55,467.42 338.06,472.88" fill="#3a27a2"/><polygon points="334.48,485.45 349.96,479.99 338.06,472.85 322.58,478.31" fill="#3a27a2"/><polygon points="318.99,490.55 334.48,485.09 322.58,477.95 307.09,483.4" fill="#3b28a4"/><polygon points="303.51,496.27 318.99,490.81 307.09,483.67 291.61,489.13" fill="#3a28a3"/><polygon points="288.02,501.74 303.51,496.28 291.61,489.14 276.12,494.6" fill="#3a28a2"/><polygon points="272.54,507.16 288.02,501.7 276.12,494.56 260.64,500.01" fill="#3b28a3"/><polygon points="257.05,512.79 272.54,507.33 260.64,500.19 245.15,505.65" fill="#3a27a2"/><polygon points="241.56,518.24 257.05,512.78 245.15,505.64 229.66,511.09" fill="#3a27a2"/><polygon points="226.08,523.71 241.56,518.25 229.66,511.11 214.18,516.57" fill="#3a27a2"/><polygon points="210.59,529.17 226.08,523.71 214.18,516.57 198.69,522.02" fill="#3a27a2"/><polygon points="408.32,470.82 423.81,465.37 411.91,458.22 396.42,463.68" fill="#3a27a2"/><polygon points="392.84,476.22 408.32,470.76 396.42,463.62 380.94,469.08" fill="#3a27a2"/><polygon points="377.35,481.74 392.84,476.28 380.94,469.14 365.45,474.6" fill="#3a27a2"/><polygon points="361.86,487.15 377.35,481.69 365.45,474.55 349.96,480" fill="#3a27a2"/><polygon points="346.38,492.65 361.86,487.19 349.96,480.05 334.48,485.5" fill="#3a27a2"/><polygon points="330.89,498.06 346.38,492.6 334.48,485.46 318.99,490.92" fill="#3a27a2"/><polygon points="315.41,503.52 330.89,498.07 318.99,490.92 303.51,496.38" fill="#3a27a2"/><polygon points="299.92,508.98 315.41,503.52 303.51,496.38 288.02,501.84" fill="#3a27a2"/><polygon points="284.44,514.46 299.92,509.01 288.02,501.86 272.54,507.32" fill="#3a27a2"/><polygon points="268.95,519.88 284.44,514.43 272.54,507.28 257.05,512.74" fill="#3a27a2"/><polygon points="253.46,525.38 268.95,519.93 257.05,512.78 241.56,518.24" fill="#3a27a2"/><polygon points="237.98,530.81 253.46,525.36 241.56,518.21 226.08,523.67" fill="#3a27a2"/><polygon points="222.49,536.27 237.98,530.81 226.08,523.67 210.59,529.12" fill="#3a27a2"/><polygon points="420.22,477.95 435.71,472.49 423.81,465.35 408.32,470.8" fill="#3a27a2"/><polygon points="404.74,483.43 420.22,477.97 408.32,470.83 392.84,476.28" fill="#3a27a2"/><polygon points="389.25,488.89 404.74,483.43 392.84,476.29 377.35,481.74" fill="#3a27a2"/><polygon points="373.76,494.29 389.25,488.83 377.35,481.69 361.86,487.15" fill="#3a27a2"/><polygon points="358.28,499.78 373.76,494.32 361.86,487.18 346.38,492.64" fill="#3a27a2"/><polygon points="342.79,505.21 358.28,499.75 346.38,492.61 330.89,498.06" fill="#3a27a2"/><polygon points="327.31,510.64 342.79,505.18 330.89,498.04 315.41,503.49" fill="#3a27a2"/><polygon points="311.82,516.15 327.31,510.69 315.41,503.55 299.92,509.01" fill="#3a27a2"/><polygon points="296.34,521.57 311.82,516.11 299.92,508.97 284.44,514.43" fill="#3a27a2"/><polygon points="280.85,527.01 296.34,521.55 284.44,514.41 268.95,519.86" fill="#3a27a2"/><polygon points="265.36,532.54 280.85,527.08 268.95,519.94 253.46,525.4" fill="#3a27a2"/><polygon points="249.88,537.98 265.36,532.53 253.46,525.38 237.98,530.84" fill="#3a27a2"/><polygon points="234.39,543.4 249.88,537.94 237.98,530.8 222.49,536.26" fill="#3a27a2"/><polygon points="432.12,485.08 447.61,479.62 435.71,472.48 420.22,477.93" fill="#3a27a2"/><polygon points="416.64,490.57 432.12,485.11 420.22,477.97 404.74,483.43" fill="#3a27a2"/><polygon points="401.15,496.02 416.64,490.56 404.74,483.42 389.25,488.88" fill="#3a27a2"/><polygon points="385.66,501.43 401.15,495.98 389.25,488.83 373.76,494.29" fill="#3a27a2"/><polygon points="370.18,506.92 385.66,501.47 373.76,494.32 358.28,499.78" fill="#3a27a2"/><polygon points="354.69,512.4 370.18,506.94 358.28,499.8 342.79,505.26" fill="#3a27a2"/><polygon points="339.21,517.84 354.69,512.38 342.79,505.24 327.31,510.69" fill="#3a27a2"/><polygon points="323.72,523.3 339.21,517.84 327.31,510.7 311.82,516.16" fill="#3a27a2"/><polygon points="308.24,528.71 323.72,523.25 311.82,516.11 296.34,521.57" fill="#3a27a2"/><polygon points="292.75,534.23 308.24,528.77 296.34,521.63 280.85,527.08" fill="#3a27a2"/><polygon points="277.26,539.69 292.75,534.23 280.85,527.09 265.36,532.54" fill="#3a27a2"/><polygon points="261.78,545.14 277.26,539.69 265.36,532.54 249.88,538" fill="#3a27a2"/><polygon points="246.29,550.6 261.78,545.14 249.88,538 234.39,543.46" fill="#3a27a2"/></g><g><polygon points="800.32,399.39 815.81,393.93 803.91,386.79 788.42,392.24" fill="#3a27a2"/><polygon points="784.84,404.82 800.32,399.37 788.42,392.22 772.94,397.68" fill="#3a27a2"/><polygon points="769.35,410.29 784.84,404.84 772.94,397.69 757.45,403.15" fill="#3a27a2"/><polygon points="753.86,415.73 769.35,410.27 757.45,403.13 741.96,408.58" fill="#3a27a2"/><polygon points="738.38,421.15 753.86,415.69 741.96,408.55 726.48,414.01" fill="#3a28a2"/><polygon points="722.89,426.65 738.38,421.19 726.48,414.05 710.99,419.51" fill="#3a27a2"/><polygon points="707.41,432.14 722.89,426.68 710.99,419.54 695.51,425" fill="#3a27a2"/><polygon points="691.92,437.6 707.41,432.14 695.51,425 680.02,430.45" fill="#3a27a2"/><polygon points="676.44,443.02 691.92,437.56 680.02,430.42 664.54,435.87" fill="#3a27a2"/><polygon points="660.95,448.44 676.44,442.99 664.54,435.84 649.05,441.3" fill="#3a27a2"/><polygon points="645.46,453.93 660.95,448.47 649.05,441.33 633.56,446.78" fill="#3a27a2"/><polygon points="629.98,459.36 645.46,453.91 633.56,446.76 618.08,452.22" fill="#3a27a2"/><polygon points="614.49,464.87 629.98,459.41 618.08,452.27 602.59,457.73" fill="#3a27a2"/><polygon points="812.22,406.54 827.71,401.08 815.81,393.94 800.32,399.39" fill="#3a27a2"/><polygon points="796.74,412 812.22,406.54 800.32,399.4 784.84,404.86" fill="#3a27a2"/><polygon points="781.25,417.44 796.74,411.99 784.84,404.84 769.35,410.3" fill="#3a27a2"/><polygon points="765.76,422.85 781.25,417.39 769.35,410.25 753.86,415.71" fill="#3a27a2"/><polygon points="750.28,428.37 765.76,422.91 753.86,415.77 738.38,421.23" fill="#3a27a2"/><polygon points="734.79,433.83 750.28,428.37 738.38,421.23 722.89,426.68" fill="#3a27a2"/><polygon points="719.31,439.28 734.79,433.82 722.89,426.68 707.41,432.14" fill="#3a27a2"/><polygon points="703.82,444.73 719.31,439.28 707.41,432.13 691.92,437.59" fill="#3a27a2"/><polygon points="688.34,450.19 703.82,444.73 691.92,437.59 676.44,443.05" fill="#3a27a2"/><polygon points="672.85,455.64 688.34,450.18 676.44,443.04 660.95,448.49" fill="#3a27a2"/><polygon points="657.36,461.06 672.85,455.61 660.95,448.46 645.46,453.92" fill="#3a27a2"/><polygon points="641.88,466.56 657.36,461.1 645.46,453.96 629.98,459.42" fill="#3a27a2"/><polygon points="626.39,472.03 641.88,466.57 629.98,459.43 614.49,464.88" fill="#3a27a2"/><polygon points="824.12,413.64 839.61,408.19 827.71,401.04 812.22,406.5" fill="#3a27a2"/><polygon points="808.64,419.14 824.12,413.68 812.22,406.54 796.74,412" fill="#3a27a2"/><polygon points="793.15,424.57 808.64,419.12 796.74,411.97 781.25,417.43" fill="#3a27a2"/><polygon points="777.66,430.01 793.15,424.56 781.25,417.41 765.76,422.87" fill="#3a27a2"/><polygon points="762.18,435.5 777.66,430.05 765.76,422.9 750.28,428.36" fill="#3a27a2"/><polygon points="746.69,440.96 762.18,435.5 750.28,428.36 734.79,433.82" fill="#3a27a2"/><polygon points="731.21,446.39 746.69,440.94 734.79,433.79 719.31,439.25" fill="#3a27a2"/><polygon points="715.72,451.86 731.21,446.4 719.31,439.26 703.82,444.71" fill="#3a27a2"/><polygon points="700.24,457.34 715.72,451.88 703.82,444.74 688.34,450.2" fill="#3a27a2"/><polygon points="684.75,462.78 700.24,457.32 688.34,450.18 672.85,455.63" fill="#3a27a2"/><polygon points="669.26,468.19 684.75,462.74 672.85,455.59 657.36,461.05" fill="#3a27a2"/><polygon points="653.78,473.71 669.26,468.25 657.36,461.11 641.88,466.56" fill="#3a27a2"/><polygon points="638.29,479.14 653.78,473.69 641.88,466.54 626.39,472" fill="#3a27a2"/><polygon points="836.02,420.78 851.51,415.32 839.61,408.18 824.12,413.63" fill="#3a27a2"/><polygon points="820.54,426.29 836.02,420.83 824.12,413.69 808.64,419.14" fill="#3a27a2"/><polygon points="805.05,431.74 820.54,426.28 808.64,419.14 793.15,424.6" fill="#3a27a2"/><polygon points="789.56,436.88 805.05,431.43 793.15,424.28 777.66,429.74" fill="#3b28a4"/><polygon points="774.08,442.4 789.56,436.94 777.66,429.8 762.18,435.26" fill="#3b28a3"/><polygon points="758.59,448.11 774.08,442.66 762.18,435.51 746.69,440.97" fill="#3a27a2"/><polygon points="743.11,453.57 758.59,448.11 746.69,440.97 731.21,446.43" fill="#3a27a2"/><polygon points="727.62,458.8 743.11,453.34 731.21,446.2 715.72,451.66" fill="#3b28a3"/><polygon points="712.14,464.36 727.62,458.9 715.72,451.76 700.24,457.21" fill="#3a28a3"/><polygon points="696.65,469.83 712.14,464.37 700.24,457.23 684.75,462.68" fill="#3a28a2"/><polygon points="681.16,475.4 696.65,469.94 684.75,462.8 669.26,468.25" fill="#3a27a2"/><polygon points="665.68,480.84 681.16,475.38 669.26,468.24 653.78,473.7" fill="#3a27a2"/><polygon points="650.19,486.28 665.68,480.83 653.78,473.68 638.29,479.14" fill="#3a27a2"/><polygon points="847.92,427.94 863.41,422.48 851.51,415.34 836.02,420.8" fill="#3a27a2"/><polygon points="832.44,433.43 847.92,427.97 836.02,420.83 820.54,426.29" fill="#3a27a2"/><polygon points="816.95,438.82 832.44,433.37 820.54,426.22 805.05,431.68" fill="#3a27a2"/><polygon points="801.46,444.23 816.95,438.78 805.05,431.63 789.56,437.09" fill="#3a28a2"/><polygon points="785.98,449.78 801.46,444.32 789.56,437.18 774.08,442.64" fill="#3a27a2"/><polygon points="770.49,454.98 785.98,449.52 774.08,442.38 758.59,447.84" fill="#3b28a3"/><polygon points="755.01,460.71 770.49,455.26 770.49,451.2 755.01,456.66" fill="url(#g2r7_9)"/><polygon points="755.01,460.71 743.11,453.57 743.11,449.51 755.01,456.66" fill="url(#g2l7_9)"/><polygon points="755.01,456.66 770.49,451.2 758.59,444.06 743.11,449.51" fill="#3f2fb7"/><polygon points="739.52,466.03 755.01,460.57 743.11,453.43 727.62,458.88" fill="#3b28a3"/><polygon points="724.04,471.35 739.52,465.89 727.62,458.75 712.14,464.2" fill="#3b28a3"/><polygon points="708.55,476.81 724.04,471.35 712.14,464.21 696.65,469.67" fill="#3b28a3"/><polygon points="693.06,482.51 708.55,477.05 696.65,469.91 681.16,475.36" fill="#3a27a2"/><polygon points="677.58,488 693.06,482.54 681.16,475.4 665.68,480.86" fill="#3a27a2"/><polygon points="662.09,493.43 677.58,487.97 665.68,480.83 650.19,486.28" fill="#3a27a2"/><polygon points="859.82,435.09 875.31,429.63 863.41,422.49 847.92,427.94" fill="#3a27a2"/><polygon points="844.34,440.57 859.82,435.11 847.92,427.97 832.44,433.43" fill="#3a27a2"/><polygon points="828.85,446.01 844.34,440.56 832.44,433.41 816.95,438.87" fill="#3a27a2"/><polygon points="813.36,451.49 828.85,446.03 816.95,438.89 801.46,444.34" fill="#3a27a2"/><polygon points="797.88,456.93 813.36,451.47 801.46,444.33 785.98,449.79" fill="#3a27a2"/><polygon points="782.39,462.4 797.88,456.94 797.88,454.24 782.39,459.69" fill="url(#g2r8_8)"/><polygon points="782.39,462.4 770.49,455.26 770.49,452.55 782.39,459.69" fill="url(#g2l8_8)"/><polygon points="782.39,459.69 797.88,454.24 785.98,447.1 770.49,452.55" fill="#3d2cb0"/><polygon points="766.91,467.86 782.39,462.4 782.39,431.56 766.91,437.02" fill="url(#g2r7_8)"/><polygon points="766.91,467.86 755.01,460.71 755.01,429.88 766.91,437.02" fill="url(#g2l7_8)"/><polygon points="766.91,437.02 782.39,431.56 770.49,424.42 755.01,429.88" fill="#4972f6"/><polygon points="751.42,473.31 766.91,467.86 766.91,465.69 751.42,471.15" fill="#3c29a8"/><polygon points="751.42,473.31 739.52,466.17 739.52,464.01 751.42,471.15" fill="#3c29a8"/><polygon points="751.42,471.15 766.91,465.69 755.01,458.55 739.52,464.01" fill="#3d2bae"/><polygon points="735.94,478.31 751.42,472.86 739.52,465.71 724.04,471.17" fill="#3b28a4"/><polygon points="720.45,483.92 735.94,478.46 724.04,471.32 708.55,476.78" fill="#3b28a4"/><polygon points="704.96,489.6 720.45,484.15 708.55,477 693.06,482.46" fill="#3a28a2"/><polygon points="689.48,495.14 704.96,489.69 693.06,482.54 677.58,488" fill="#3a27a2"/><polygon points="673.99,500.59 689.48,495.14 677.58,487.99 662.09,493.45" fill="#3a27a2"/><polygon points="871.72,442.25 887.21,436.79 875.31,429.65 859.82,435.11" fill="#3a27a2"/><polygon points="856.24,447.69 871.72,442.23 859.82,435.09 844.34,440.55" fill="#3a27a2"/><polygon points="840.75,453.17 856.24,447.71 844.34,440.57 828.85,446.03" fill="#3a27a2"/><polygon points="825.26,458.57 840.75,453.11 828.85,445.97 813.36,451.42" fill="#3a27a2"/><polygon points="809.78,464.09 825.26,458.63 825.26,453.76 809.78,459.22" fill="url(#g2r9_7)"/><polygon points="809.78,464.09 797.88,456.94 797.88,452.07 809.78,459.22" fill="url(#g2l9_7)"/><polygon points="809.78,459.22 825.26,453.76 813.36,446.62 797.88,452.07" fill="#3f30bb"/><polygon points="794.29,469.54 809.78,464.09 809.78,442.18 794.29,447.63" fill="url(#g2r8_7)"/><polygon points="794.29,469.54 782.39,462.4 782.39,440.49 794.29,447.63" fill="url(#g2l8_7)"/><polygon points="794.29,447.63 809.78,442.18 797.88,435.03 782.39,440.49" fill="#4b59f0"/><polygon points="778.81,475 794.29,469.54 794.29,336.59 778.81,342.05" fill="url(#g2r7_7)"/><polygon points="778.81,475 766.91,467.86 766.91,334.91 778.81,342.05" fill="url(#g2l7_7)"/><polygon points="778.81,342.05 794.29,336.59 782.39,329.45 766.91,334.91" fill="#f9fb56"/><polygon points="763.32,480.46 778.81,475 778.81,451.47 763.32,456.92" fill="url(#g2r6_7)"/><polygon points="763.32,480.46 751.42,473.31 751.42,449.78 763.32,456.92" fill="url(#g2l6_7)"/><polygon points="763.32,456.92 778.81,451.47 766.91,444.32 751.42,449.78" fill="#4b5ef2"/><polygon points="747.84,485.91 763.32,480.46 763.32,478.83 747.84,484.29" fill="#3b29a6"/><polygon points="747.84,485.91 735.94,478.77 735.94,477.15 747.84,484.29" fill="#3b29a6"/><polygon points="747.84,484.29 763.32,478.83 751.42,471.69 735.94,477.15" fill="#3c2aab"/><polygon points="732.35,491.36 747.84,485.9 735.94,478.76 720.45,484.21" fill="#3a27a2"/><polygon points="716.86,496.81 732.35,491.35 720.45,484.21 704.96,489.66" fill="#3a27a2"/><polygon points="701.38,502.28 716.86,496.82 704.96,489.68 689.48,495.14" fill="#3a27a2"/><polygon points="685.89,507.71 701.38,502.25 689.48,495.11 673.99,500.56" fill="#3a27a2"/><polygon points="883.62,449.38 899.11,443.93 887.21,436.78 871.72,442.24" fill="#3a27a2"/><polygon points="868.14,454.86 883.62,449.4 871.72,442.26 856.24,447.71" fill="#3a27a2"/><polygon points="852.65,460.31 868.14,454.85 856.24,447.71 840.75,453.16" fill="#3a27a2"/><polygon points="837.16,465.76 852.65,460.31 840.75,453.16 825.26,458.62" fill="#3a27a2"/><polygon points="821.68,471.19 837.16,465.74 825.26,458.59 809.78,464.05" fill="#3a27a2"/><polygon points="806.19,476.69 821.68,471.23 821.68,469.06 806.19,474.52" fill="#3c29a8"/><polygon points="806.19,476.69 794.29,469.54 794.29,467.38 806.19,474.52" fill="#3c29a8"/><polygon points="806.19,474.52 821.68,469.06 809.78,461.92 794.29,467.38" fill="#3d2bae"/><polygon points="790.71,482.14 806.19,476.69 806.19,446.39 790.71,451.85" fill="url(#g2r7_6)"/><polygon points="790.71,482.14 778.81,475 778.81,444.7 790.71,451.85" fill="url(#g2l7_6)"/><polygon points="790.71,451.85 806.19,446.39 794.29,439.25 778.81,444.7" fill="#4970f6"/><polygon points="775.22,487.6 790.71,482.14 790.71,480.52 775.22,485.98" fill="#3b29a6"/><polygon points="775.22,487.6 763.32,480.46 763.32,478.83 775.22,485.98" fill="#3b29a6"/><polygon points="775.22,485.98 790.71,480.52 778.81,473.38 763.32,478.83" fill="#3c2aab"/><polygon points="759.74,492.94 775.22,487.49 763.32,480.34 747.84,485.8" fill="#3a28a2"/><polygon points="744.25,498.01 759.74,492.56 747.84,485.41 732.35,490.87" fill="#3b28a5"/><polygon points="728.76,503.97 744.25,498.51 732.35,491.37 716.86,496.83" fill="#3a27a2"/><polygon points="713.28,509.41 728.76,503.96 716.86,496.81 701.38,502.27" fill="#3a27a2"/><polygon points="697.79,514.84 713.28,509.38 701.38,502.24 685.89,507.7" fill="#3a27a2"/><polygon points="895.52,456.54 911.01,451.08 899.11,443.94 883.62,449.4" fill="#3a27a2"/><polygon points="880.04,461.99 895.52,456.53 883.62,449.39 868.14,454.84" fill="#3a27a2"/><polygon points="864.55,467.42 880.04,461.96 868.14,454.82 852.65,460.28" fill="#3a27a2"/><polygon points="849.06,472.62 864.55,467.16 852.65,460.02 837.16,465.47" fill="#3b28a3"/><polygon points="833.58,478.37 849.06,472.91 837.16,465.77 821.68,471.23" fill="#3a27a2"/><polygon points="818.09,483.8 833.58,478.34 821.68,471.2 806.19,476.65" fill="#3a27a2"/><polygon points="802.61,489.29 818.09,483.83 818.09,480.45 802.61,485.9" fill="url(#g2r7_5)"/><polygon points="802.61,489.29 790.71,482.14 790.71,478.76 802.61,485.9" fill="url(#g2l7_5)"/><polygon points="802.61,485.9 818.09,480.45 806.19,473.3 790.71,478.76" fill="#3e2db4"/><polygon points="787.12,494.69 802.61,489.23 790.71,482.09 775.22,487.55" fill="#3a27a2"/><polygon points="771.64,499.76 787.12,494.3 775.22,487.16 759.74,492.62" fill="#3b28a4"/><polygon points="756.15,505.14 771.64,499.68 759.74,492.54 744.25,497.99" fill="#3b28a5"/><polygon points="740.66,511.11 756.15,505.65 744.25,498.51 728.76,503.96" fill="#3a27a2"/><polygon points="725.18,516.55 740.66,511.09 728.76,503.95 713.28,509.4" fill="#3a27a2"/><polygon points="709.69,521.97 725.18,516.51 713.28,509.37 697.79,514.83" fill="#3a27a2"/><polygon points="907.42,463.61 922.91,458.15 911.01,451.01 895.52,456.46" fill="#3a28a2"/><polygon points="891.94,469.11 907.42,463.66 895.52,456.51 880.04,461.97" fill="#3a27a2"/><polygon points="876.45,474.6 891.94,469.14 880.04,462 864.55,467.45" fill="#3a27a2"/><polygon points="860.96,479.85 876.45,474.4 864.55,467.25 849.06,472.71" fill="#3b28a3"/><polygon points="845.48,485.23 860.96,479.77 849.06,472.63 833.58,478.08" fill="#3b28a3"/><polygon points="829.99,490.58 845.48,485.12 833.58,477.98 818.09,483.43" fill="#3b28a4"/><polygon points="814.51,496.43 829.99,490.97 818.09,483.83 802.61,489.28" fill="#3a27a2"/><polygon points="799.02,501.44 814.51,495.98 802.61,488.84 787.12,494.29" fill="#3b28a4"/><polygon points="783.54,506.92 799.02,501.46 787.12,494.32 771.64,499.78" fill="#3b28a4"/><polygon points="768.05,512.73 783.54,507.28 771.64,500.13 756.15,505.59" fill="#3a27a2"/><polygon points="752.56,518.26 768.05,512.8 756.15,505.66 740.66,511.11" fill="#3a27a2"/><polygon points="737.08,523.64 752.56,518.18 740.66,511.04 725.18,516.5" fill="#3a27a2"/><polygon points="721.59,529.17 737.08,523.71 725.18,516.57 709.69,522.03" fill="#3a27a2"/><polygon points="919.32,470.76 934.81,465.3 922.91,458.16 907.42,463.61" fill="#3a27a2"/><polygon points="903.84,476.28 919.32,470.82 907.42,463.68 891.94,469.14" fill="#3a27a2"/><polygon points="888.35,481.72 903.84,476.27 891.94,469.12 876.45,474.58" fill="#3a27a2"/><polygon points="872.86,487.19 888.35,481.73 876.45,474.59 860.96,480.05" fill="#3a27a2"/><polygon points="857.38,492.66 872.86,487.2 860.96,480.06 845.48,485.51" fill="#3a27a2"/><polygon points="841.89,498.09 857.38,492.64 845.48,485.49 829.99,490.95" fill="#3a27a2"/><polygon points="826.41,503.54 841.89,498.08 829.99,490.94 814.51,496.4" fill="#3a27a2"/><polygon points="810.92,509.02 826.41,503.57 814.51,496.42 799.02,501.88" fill="#3a27a2"/><polygon points="795.44,514.48 810.92,509.02 799.02,501.88 783.54,507.33" fill="#3a27a2"/><polygon points="779.95,519.89 795.44,514.44 783.54,507.29 768.05,512.75" fill="#3a27a2"/><polygon points="764.46,525.4 779.95,519.94 768.05,512.8 752.56,518.25" fill="#3a27a2"/><polygon points="748.98,530.78 764.46,525.32 752.56,518.18 737.08,523.63" fill="#3a28a2"/><polygon points="733.49,536.31 748.98,530.86 737.08,523.71 721.59,529.17" fill="#3a27a2"/><polygon points="931.22,477.89 946.71,472.44 934.81,465.29 919.32,470.75" fill="#3a28a2"/><polygon points="915.74,483.35 931.22,477.9 919.32,470.75 903.84,476.21" fill="#3a28a2"/><polygon points="900.25,488.85 915.74,483.39 903.84,476.25 888.35,481.7" fill="#3a27a2"/><polygon points="884.76,494.34 900.25,488.89 888.35,481.74 872.86,487.2" fill="#3a27a2"/><polygon points="869.28,499.73 884.76,494.27 872.86,487.13 857.38,492.58" fill="#3a27a2"/><polygon points="853.79,505.26 869.28,499.8 857.38,492.66 841.89,498.11" fill="#3a27a2"/><polygon points="838.31,510.64 853.79,505.19 841.89,498.04 826.41,503.5" fill="#3a27a2"/><polygon points="822.82,516.1 838.31,510.65 826.41,503.5 810.92,508.96" fill="#3a27a2"/><polygon points="807.34,521.57 822.82,516.12 810.92,508.97 795.44,514.43" fill="#3a27a2"/><polygon points="791.85,527.04 807.34,521.58 795.44,514.44 779.95,519.9" fill="#3a27a2"/><polygon points="776.36,532.52 791.85,527.06 779.95,519.92 764.46,525.37" fill="#3a27a2"/><polygon points="760.88,537.96 776.36,532.5 764.46,525.36 748.98,530.81" fill="#3a27a2"/><polygon points="745.39,543.38 760.88,537.93 748.98,530.78 733.49,536.24" fill="#3a27a2"/><polygon points="943.12,485.09 958.61,479.64 946.71,472.49 931.22,477.95" fill="#3a27a2"/><polygon points="927.64,490.57 943.12,485.11 931.22,477.97 915.74,483.43" fill="#3a27a2"/><polygon points="912.15,495.97 927.64,490.51 915.74,483.37 900.25,488.83" fill="#3a27a2"/><polygon points="896.66,501.48 912.15,496.03 900.25,488.88 884.76,494.34" fill="#3a27a2"/><polygon points="881.18,506.94 896.66,501.49 884.76,494.34 869.28,499.8" fill="#3a27a2"/><polygon points="865.69,512.34 881.18,506.88 869.28,499.74 853.79,505.19" fill="#3a27a2"/><polygon points="850.21,517.84 865.69,512.38 853.79,505.24 838.31,510.69" fill="#3a27a2"/><polygon points="834.72,523.31 850.21,517.85 838.31,510.71 822.82,516.17" fill="#3a27a2"/><polygon points="819.24,528.75 834.72,523.29 822.82,516.15 807.34,521.61" fill="#3a27a2"/><polygon points="803.75,534.16 819.24,528.7 807.34,521.56 791.85,527.02" fill="#3a27a2"/><polygon points="788.26,539.66 803.75,534.21 791.85,527.06 776.36,532.52" fill="#3a27a2"/><polygon points="772.78,545.13 788.26,539.67 776.36,532.53 760.88,537.99" fill="#3a27a2"/><polygon points="757.29,550.53 772.78,545.07 760.88,537.93 745.39,543.38" fill="#3a27a2"/></g><g><polygon points="1312.32,399.4 1327.81,393.94 1315.91,386.8 1300.42,392.25" fill="#3a27a2"/><polygon points="1296.84,404.84 1312.32,399.38 1300.42,392.24 1284.94,397.7" fill="#3a27a2"/><polygon points="1281.35,410.29 1296.84,404.83 1284.94,397.69 1269.45,403.15" fill="#3a27a2"/><polygon points="1265.86,415.7 1281.35,410.24 1269.45,403.1 1253.96,408.55" fill="#3b28a3"/><polygon points="1250.38,421.23 1265.86,415.77 1253.96,408.63 1238.48,414.09" fill="#3a27a2"/><polygon points="1234.89,426.65 1250.38,421.2 1238.48,414.05 1222.99,419.51" fill="#3a27a2"/><polygon points="1219.41,432.11 1234.89,426.66 1222.99,419.51 1207.51,424.97" fill="#3a27a2"/><polygon points="1203.92,437.6 1219.41,432.14 1207.51,425 1192.02,430.46" fill="#3a27a2"/><polygon points="1188.44,443.05 1203.92,437.59 1192.02,430.45 1176.54,435.91" fill="#3a27a2"/><polygon points="1172.95,448.44 1188.44,442.99 1176.54,435.84 1161.05,441.3" fill="#3b28a3"/><polygon points="1157.46,453.97 1172.95,448.51 1161.05,441.37 1145.56,446.83" fill="#3a27a2"/><polygon points="1141.98,459.43 1157.46,453.97 1145.56,446.83 1130.08,452.29" fill="#3a27a2"/><polygon points="1126.49,464.83 1141.98,459.37 1130.08,452.23 1114.59,457.69" fill="#3a28a2"/><polygon points="1324.22,406.49 1339.71,401.03 1327.81,393.89 1312.32,399.34" fill="#3a28a2"/><polygon points="1308.74,411.94 1324.22,406.49 1312.32,399.34 1296.84,404.8" fill="#3a28a2"/><polygon points="1293.25,417.46 1308.74,412 1296.84,404.86 1281.35,410.31" fill="#3a27a2"/><polygon points="1277.76,422.88 1293.25,417.42 1281.35,410.28 1265.86,415.73" fill="#3a27a2"/><polygon points="1262.28,428.34 1277.76,422.89 1265.86,415.74 1250.38,421.2" fill="#3a27a2"/><polygon points="1246.79,433.8 1262.28,428.35 1250.38,421.2 1234.89,426.66" fill="#3a27a2"/><polygon points="1231.31,439.27 1246.79,433.82 1234.89,426.67 1219.41,432.13" fill="#3a27a2"/><polygon points="1215.82,444.71 1231.31,439.26 1219.41,432.11 1203.92,437.57" fill="#3a27a2"/><polygon points="1200.34,450.17 1215.82,444.72 1203.92,437.57 1188.44,443.03" fill="#3a27a2"/><polygon points="1184.85,455.62 1200.34,450.16 1188.44,443.02 1172.95,448.48" fill="#3a27a2"/><polygon points="1169.36,461.11 1184.85,455.66 1172.95,448.51 1157.46,453.97" fill="#3a27a2"/><polygon points="1153.88,466.56 1169.36,461.11 1157.46,453.96 1141.98,459.42" fill="#3a27a2"/><polygon points="1138.39,472.01 1153.88,466.55 1141.98,459.41 1126.49,464.87" fill="#3a27a2"/><polygon points="1336.12,413.63 1351.61,408.18 1339.71,401.03 1324.22,406.49" fill="#3a28a2"/><polygon points="1320.64,419.13 1336.12,413.68 1324.22,406.53 1308.74,411.99" fill="#3a27a2"/><polygon points="1305.15,424.55 1320.64,419.09 1308.74,411.95 1293.25,417.41" fill="#3a28a2"/><polygon points="1289.66,430.06 1305.15,424.6 1293.25,417.46 1277.76,422.91" fill="#3a27a2"/><polygon points="1274.18,435.5 1289.66,430.04 1277.76,422.9 1262.28,428.36" fill="#3a27a2"/><polygon points="1258.69,440.94 1274.18,435.49 1262.28,428.34 1246.79,433.8" fill="#3a27a2"/><polygon points="1243.21,446.43 1258.69,440.97 1246.79,433.83 1231.31,439.28" fill="#3a27a2"/><polygon points="1227.72,451.89 1243.21,446.43 1231.31,439.29 1215.82,444.74" fill="#3a27a2"/><polygon points="1212.24,457.29 1227.72,451.83 1215.82,444.69 1200.34,450.14" fill="#3a28a2"/><polygon points="1196.75,462.73 1212.24,457.28 1200.34,450.13 1184.85,455.59" fill="#3a28a3"/><polygon points="1181.26,468.19 1196.75,462.74 1184.85,455.59 1169.36,461.05" fill="#3a28a3"/><polygon points="1165.78,473.69 1181.26,468.23 1169.36,461.09 1153.88,466.54" fill="#3a27a2"/><polygon points="1150.29,479.09 1165.78,473.63 1153.88,466.49 1138.39,471.95" fill="#3b28a3"/><polygon points="1348.02,420.83 1363.51,415.37 1351.61,408.23 1336.12,413.68" fill="#3a27a2"/><polygon points="1332.54,426.28 1348.02,420.82 1336.12,413.68 1320.64,419.13" fill="#3a27a2"/><polygon points="1317.05,431.73 1332.54,426.27 1320.64,419.13 1305.15,424.59" fill="#3a27a2"/><polygon points="1301.56,437.2 1317.05,431.74 1305.15,424.6 1289.66,430.06" fill="#3a27a2"/><polygon points="1286.08,442.66 1301.56,437.2 1289.66,430.06 1274.18,435.51" fill="#3a27a2"/><polygon points="1270.59,447.89 1286.08,442.43 1274.18,435.29 1258.69,440.75" fill="#3b28a4"/><polygon points="1255.11,453.57 1270.59,448.11 1270.59,445.41 1255.11,450.87" fill="url(#g3r7_10)"/><polygon points="1255.11,453.57 1243.21,446.43 1243.21,443.72 1255.11,450.87" fill="url(#g3l7_10)"/><polygon points="1255.11,450.87 1270.59,445.41 1258.69,438.27 1243.21,443.72" fill="#4031be"/><polygon points="1239.62,458.62 1255.11,453.16 1243.21,446.02 1227.72,451.47" fill="#3b29a6"/><polygon points="1224.14,464.46 1239.62,459 1227.72,451.86 1212.24,457.32" fill="#3a27a2"/><polygon points="1208.65,469.76 1224.14,464.3 1212.24,457.16 1196.75,462.62" fill="#3b28a4"/><polygon points="1193.16,475.33 1208.65,469.87 1196.75,462.73 1181.26,468.19" fill="#3b28a3"/><polygon points="1177.68,480.81 1193.16,475.35 1181.26,468.21 1165.78,473.67" fill="#3a28a2"/><polygon points="1162.19,486.31 1177.68,480.85 1165.78,473.71 1150.29,479.17" fill="#3a27a2"/><polygon points="1359.92,427.95 1375.41,422.49 1363.51,415.35 1348.02,420.81" fill="#3a27a2"/><polygon points="1344.44,433.43 1359.92,427.97 1348.02,420.83 1332.54,426.28" fill="#3a27a2"/><polygon points="1328.95,438.88 1344.44,433.42 1332.54,426.28 1317.05,431.74" fill="#3a27a2"/><polygon points="1313.46,444.05 1328.95,438.59 1317.05,431.45 1301.56,436.91" fill="#3b28a5"/><polygon points="1297.98,449.64 1313.46,444.18 1301.56,437.04 1286.08,442.49" fill="#3b28a4"/><polygon points="1282.49,455.11 1297.98,449.65 1286.08,442.51 1270.59,447.97" fill="#3b28a3"/><polygon points="1267.01,460.71 1282.49,455.26 1282.49,436.86 1267.01,442.32" fill="url(#g3r7_9)"/><polygon points="1267.01,460.71 1255.11,453.57 1255.11,435.18 1267.01,442.32" fill="url(#g3l7_9)"/><polygon points="1267.01,442.32 1282.49,436.86 1270.59,429.72 1255.11,435.18" fill="#4780f2"/><polygon points="1251.52,466.17 1267.01,460.71 1267.01,458.55 1251.52,464.01" fill="#3d2bad"/><polygon points="1251.52,466.17 1239.62,459.03 1239.62,456.86 1251.52,464.01" fill="#3d2bad"/><polygon points="1251.52,464.01 1267.01,458.55 1255.11,451.41 1239.62,456.86" fill="#3f2fb8"/><polygon points="1236.04,471.35 1251.52,465.9 1239.62,458.75 1224.14,464.21" fill="#3b28a5"/><polygon points="1220.55,476.9 1236.04,471.44 1224.14,464.3 1208.65,469.76" fill="#3b28a4"/><polygon points="1205.06,482.53 1220.55,477.07 1208.65,469.93 1193.16,475.38" fill="#3a27a2"/><polygon points="1189.58,488 1205.06,482.54 1193.16,475.4 1177.68,480.86" fill="#3a27a2"/><polygon points="1174.09,493.45 1189.58,487.99 1177.68,480.85 1162.19,486.31" fill="#3a27a2"/><polygon points="1371.82,435.11 1387.31,429.66 1375.41,422.51 1359.92,427.97" fill="#3a27a2"/><polygon points="1356.34,440.53 1371.82,435.07 1359.92,427.93 1344.44,433.39" fill="#3a28a2"/><polygon points="1340.85,446 1356.34,440.54 1344.44,433.4 1328.95,438.86" fill="#3a27a2"/><polygon points="1325.36,451.22 1340.85,445.76 1328.95,438.62 1313.46,444.07" fill="#3b28a5"/><polygon points="1309.88,456.8 1325.36,451.34 1313.46,444.2 1297.98,449.65" fill="#3b28a3"/><polygon points="1294.39,462.4 1309.88,456.94 1309.88,448.83 1294.39,454.28" fill="url(#g3r8_8)"/><polygon points="1294.39,462.4 1282.49,455.26 1282.49,447.14 1294.39,454.28" fill="url(#g3l8_8)"/><polygon points="1294.39,454.28 1309.88,448.83 1297.98,441.69 1282.49,447.14" fill="#484ae5"/><polygon points="1278.91,467.86 1294.39,462.4 1294.39,416.96 1278.91,422.41" fill="url(#g3r7_8)"/><polygon points="1278.91,467.86 1267.01,460.71 1267.01,415.27 1278.91,422.41" fill="url(#g3l7_8)"/><polygon points="1278.91,422.41 1294.39,416.96 1282.49,409.81 1267.01,415.27" fill="#92ca67"/><polygon points="1263.42,473.31 1278.91,467.86 1278.91,461.91 1263.42,467.36" fill="url(#g3r6_8)"/><polygon points="1263.42,473.31 1251.52,466.17 1251.52,460.22 1263.42,467.36" fill="url(#g3l6_8)"/><polygon points="1263.42,467.36 1278.91,461.91 1267.01,454.76 1251.52,460.22" fill="#453fd9"/><polygon points="1247.94,478.6 1263.42,473.14 1251.52,466 1236.04,471.45" fill="#3b28a4"/><polygon points="1232.45,484.16 1247.94,478.7 1236.04,471.56 1220.55,477.02" fill="#3a28a3"/><polygon points="1216.96,489.63 1232.45,484.18 1220.55,477.03 1205.06,482.49" fill="#3a28a2"/><polygon points="1201.48,495.11 1216.96,489.65 1205.06,482.51 1189.58,487.96" fill="#3a27a2"/><polygon points="1185.99,500.54 1201.48,495.09 1189.58,487.94 1174.09,493.4" fill="#3a28a2"/><polygon points="1383.72,442.25 1399.21,436.8 1387.31,429.65 1371.82,435.11" fill="#3a27a2"/><polygon points="1368.24,447.7 1383.72,442.24 1371.82,435.1 1356.34,440.56" fill="#3a27a2"/><polygon points="1352.75,453.16 1368.24,447.7 1356.34,440.56 1340.85,446.02" fill="#3a27a2"/><polygon points="1337.26,458.56 1352.75,453.1 1340.85,445.96 1325.36,451.42" fill="#3a28a3"/><polygon points="1321.78,464.09 1337.26,458.63 1337.26,456.46 1321.78,461.92" fill="#3d2bad"/><polygon points="1321.78,464.09 1309.88,456.94 1309.88,454.78 1321.78,461.92" fill="#3d2bad"/><polygon points="1321.78,461.92 1337.26,456.46 1325.36,449.32 1309.88,454.78" fill="#3f2fb8"/><polygon points="1306.29,469.54 1321.78,464.09 1321.78,450.83 1306.29,456.29" fill="url(#g3r8_7)"/><polygon points="1306.29,469.54 1294.39,462.4 1294.39,449.15 1306.29,456.29" fill="url(#g3l8_7)"/><polygon points="1306.29,456.29 1321.78,450.83 1309.88,443.69 1294.39,449.15" fill="#4b64f4"/><polygon points="1290.81,475 1306.29,469.54 1306.29,401.46 1290.81,406.92" fill="url(#g3r7_7)"/><polygon points="1290.81,475 1278.91,467.86 1278.91,399.77 1290.81,406.92" fill="url(#g3l7_7)"/><polygon points="1290.81,406.92 1306.29,401.46 1294.39,394.32 1278.91,399.77" fill="#f9fb56"/><polygon points="1275.32,480.46 1290.81,475 1290.81,453.63 1275.32,459.09" fill="url(#g3r6_7)"/><polygon points="1275.32,480.46 1263.42,473.31 1263.42,451.94 1275.32,459.09" fill="url(#g3l6_7)"/><polygon points="1275.32,459.09 1290.81,453.63 1278.91,446.49 1263.42,451.94" fill="#4b8ee9"/><polygon points="1259.84,485.47 1275.32,480.01 1263.42,472.87 1247.94,478.33" fill="#3b29a7"/><polygon points="1244.35,491.29 1259.84,485.83 1247.94,478.69 1232.45,484.15" fill="#3b28a3"/><polygon points="1228.86,496.82 1244.35,491.36 1232.45,484.22 1216.96,489.67" fill="#3a27a2"/><polygon points="1213.38,502.24 1228.86,496.78 1216.96,489.64 1201.48,495.1" fill="#3a28a2"/><polygon points="1197.89,507.74 1213.38,502.29 1201.48,495.14 1185.99,500.6" fill="#3a27a2"/><polygon points="1395.62,449.38 1411.11,443.93 1399.21,436.78 1383.72,442.24" fill="#3a27a2"/><polygon points="1380.14,454.85 1395.62,449.4 1383.72,442.25 1368.24,447.71" fill="#3a27a2"/><polygon points="1364.65,460.31 1380.14,454.85 1368.24,447.71 1352.75,453.16" fill="#3a27a2"/><polygon points="1349.16,465.52 1364.65,460.06 1352.75,452.92 1337.26,458.38" fill="#3b28a5"/><polygon points="1333.68,471.18 1349.16,465.72 1337.26,458.58 1321.78,464.04" fill="#3a28a2"/><polygon points="1318.19,476.69 1333.68,471.23 1333.68,467.98 1318.19,473.44" fill="url(#g3r8_6)"/><polygon points="1318.19,476.69 1306.29,469.54 1306.29,466.3 1318.19,473.44" fill="url(#g3l8_6)"/><polygon points="1318.19,473.44 1333.68,467.98 1321.78,460.84 1306.29,466.3" fill="#4133c3"/><polygon points="1302.71,482.14 1318.19,476.69 1318.19,424.48 1302.71,429.94" fill="url(#g3r7_6)"/><polygon points="1302.71,482.14 1290.81,475 1290.81,422.79 1302.71,429.94" fill="url(#g3l7_6)"/><polygon points="1302.71,429.94 1318.19,424.48 1306.29,417.34 1290.81,422.79" fill="#d1bf4a"/><polygon points="1287.22,487.6 1302.71,482.14 1302.71,479.98 1287.22,485.44" fill="#3d2bad"/><polygon points="1287.22,487.6 1275.32,480.46 1275.32,478.29 1287.22,485.44" fill="#3d2bad"/><polygon points="1287.22,485.44 1302.71,479.98 1290.81,472.84 1275.32,478.29" fill="#3f2fb8"/><polygon points="1271.74,492.55 1287.22,487.1 1275.32,479.95 1259.84,485.41" fill="#3b29a7"/><polygon points="1256.25,498.38 1271.74,492.92 1259.84,485.78 1244.35,491.23" fill="#3b28a3"/><polygon points="1240.76,503.9 1256.25,498.45 1244.35,491.3 1228.86,496.76" fill="#3b28a3"/><polygon points="1225.28,509.41 1240.76,503.95 1228.86,496.81 1213.38,502.26" fill="#3a27a2"/><polygon points="1209.79,514.89 1225.28,509.43 1213.38,502.29 1197.89,507.74" fill="#3a27a2"/><polygon points="1407.52,456.48 1423.01,451.02 1411.11,443.88 1395.62,449.34" fill="#3a28a3"/><polygon points="1392.04,462 1407.52,456.54 1395.62,449.4 1380.14,454.85" fill="#3a27a2"/><polygon points="1376.55,467.45 1392.04,461.99 1380.14,454.85 1364.65,460.3" fill="#3a27a2"/><polygon points="1361.06,472.8 1376.55,467.34 1364.65,460.2 1349.16,465.65" fill="#3b28a3"/><polygon points="1345.58,478.34 1361.06,472.88 1349.16,465.74 1333.68,471.2" fill="#3a27a2"/><polygon points="1330.09,483.33 1345.58,477.87 1333.68,470.73 1318.19,476.19" fill="#3b29a7"/><polygon points="1314.61,489.29 1330.09,483.83 1330.09,477.61 1314.61,483.06" fill="url(#g3r7_5)"/><polygon points="1314.61,489.29 1302.71,482.14 1302.71,475.92 1314.61,483.06" fill="url(#g3l7_5)"/><polygon points="1314.61,483.06 1330.09,477.61 1318.19,470.46 1302.71,475.92" fill="#4640db"/><polygon points="1299.12,494.4 1314.61,488.94 1302.71,481.8 1287.22,487.25" fill="#3b29a6"/><polygon points="1283.64,499.8 1299.12,494.34 1287.22,487.2 1271.74,492.66" fill="#3b29a6"/><polygon points="1268.15,505.61 1283.64,500.15 1271.74,493.01 1256.25,498.47" fill="#3a28a2"/><polygon points="1252.66,511.07 1268.15,505.62 1256.25,498.47 1240.76,503.93" fill="#3a28a2"/><polygon points="1237.18,516.51 1252.66,511.05 1240.76,503.91 1225.28,509.37" fill="#3a28a3"/><polygon points="1221.69,522 1237.18,516.54 1225.28,509.4 1209.79,514.85" fill="#3a27a2"/><polygon points="1419.42,463.65 1434.91,458.19 1423.01,451.05 1407.52,456.51" fill="#3a27a2"/><polygon points="1403.94,469.09 1419.42,463.63 1407.52,456.49 1392.04,461.95" fill="#3a28a2"/><polygon points="1388.45,474.59 1403.94,469.13 1392.04,461.99 1376.55,467.45" fill="#3a27a2"/><polygon points="1372.96,479.84 1388.45,474.39 1376.55,467.24 1361.06,472.7" fill="#3b28a4"/><polygon points="1357.48,485.23 1372.96,479.78 1361.06,472.63 1345.58,478.09" fill="#3b28a5"/><polygon points="1341.99,490.92 1357.48,485.46 1345.58,478.32 1330.09,483.78" fill="#3a28a2"/><polygon points="1326.51,496.43 1341.99,490.97 1341.99,489.35 1326.51,494.81" fill="#3c2aab"/><polygon points="1326.51,496.43 1314.61,489.29 1314.61,487.66 1326.51,494.81" fill="#3c2aab"/><polygon points="1326.51,494.81 1341.99,489.35 1330.09,482.21 1314.61,487.66" fill="#3e2db3"/><polygon points="1311.02,501.88 1326.51,496.42 1314.61,489.28 1299.12,494.74" fill="#3a27a2"/><polygon points="1295.54,507.33 1311.02,501.87 1299.12,494.73 1283.64,500.19" fill="#3a27a2"/><polygon points="1280.05,512.59 1295.54,507.13 1283.64,499.99 1268.15,505.44" fill="#3b28a4"/><polygon points="1264.56,518.19 1280.05,512.74 1268.15,505.59 1252.66,511.05" fill="#3a28a3"/><polygon points="1249.08,523.68 1264.56,518.22 1252.66,511.08 1237.18,516.54" fill="#3a27a2"/><polygon points="1233.59,529.14 1249.08,523.68 1237.18,516.54 1221.69,522" fill="#3a27a2"/><polygon points="1431.32,470.82 1446.81,465.36 1434.91,458.22 1419.42,463.68" fill="#3a27a2"/><polygon points="1415.84,476.28 1431.32,470.82 1419.42,463.68 1403.94,469.14" fill="#3a27a2"/><polygon points="1400.35,481.71 1415.84,476.26 1403.94,469.11 1388.45,474.57" fill="#3a27a2"/><polygon points="1384.86,487.2 1400.35,481.74 1388.45,474.6 1372.96,480.06" fill="#3a27a2"/><polygon points="1369.38,492.64 1384.86,487.18 1372.96,480.04 1357.48,485.5" fill="#3a27a2"/><polygon points="1353.89,498.05 1369.38,492.6 1357.48,485.45 1341.99,490.91" fill="#3a28a3"/><polygon points="1338.41,503.51 1353.89,498.05 1341.99,490.91 1326.51,496.37" fill="#3a28a3"/><polygon points="1322.92,508.95 1338.41,503.49 1326.51,496.35 1311.02,501.81" fill="#3b28a3"/><polygon points="1307.44,514.45 1322.92,508.99 1311.02,501.85 1295.54,507.31" fill="#3a27a2"/><polygon points="1291.95,519.93 1307.44,514.47 1295.54,507.33 1280.05,512.78" fill="#3a27a2"/><polygon points="1276.46,525.36 1291.95,519.9 1280.05,512.76 1264.56,518.22" fill="#3a28a2"/><polygon points="1260.98,530.86 1276.46,525.4 1264.56,518.26 1249.08,523.71" fill="#3a27a2"/><polygon points="1245.49,536.3 1260.98,530.85 1249.08,523.7 1233.59,529.16" fill="#3a27a2"/><polygon points="1443.22,477.97 1458.71,472.51 1446.81,465.37 1431.32,470.83" fill="#3a27a2"/><polygon points="1427.74,483.42 1443.22,477.96 1431.32,470.82 1415.84,476.28" fill="#3a27a2"/><polygon points="1412.25,488.87 1427.74,483.41 1415.84,476.27 1400.35,481.73" fill="#3a27a2"/><polygon points="1396.76,494.31 1412.25,488.85 1400.35,481.71 1384.86,487.17" fill="#3a27a2"/><polygon points="1381.28,499.78 1396.76,494.32 1384.86,487.18 1369.38,492.64" fill="#3a27a2"/><polygon points="1365.79,505.26 1381.28,499.8 1369.38,492.66 1353.89,498.11" fill="#3a27a2"/><polygon points="1350.31,510.71 1365.79,505.25 1353.89,498.11 1338.41,503.56" fill="#3a27a2"/><polygon points="1334.82,516.11 1350.31,510.66 1338.41,503.51 1322.92,508.97" fill="#3a28a2"/><polygon points="1319.34,521.55 1334.82,516.09 1322.92,508.95 1307.44,514.41" fill="#3b28a3"/><polygon points="1303.85,527.01 1319.34,521.55 1307.44,514.41 1291.95,519.87" fill="#3b28a3"/><polygon points="1288.36,532.52 1303.85,527.07 1291.95,519.92 1276.46,525.38" fill="#3a27a2"/><polygon points="1272.88,537.97 1288.36,532.51 1276.46,525.37 1260.98,530.82" fill="#3a27a2"/><polygon points="1257.39,543.43 1272.88,537.98 1260.98,530.83 1245.49,536.29" fill="#3a27a2"/><polygon points="1455.12,485.05 1470.61,479.6 1458.71,472.45 1443.22,477.91" fill="#3a28a2"/><polygon points="1439.64,490.53 1455.12,485.07 1443.22,477.93 1427.74,483.38" fill="#3a28a2"/><polygon points="1424.15,496.02 1439.64,490.57 1427.74,483.42 1412.25,488.88" fill="#3a27a2"/><polygon points="1408.66,501.45 1424.15,496 1412.25,488.85 1396.76,494.31" fill="#3a27a2"/><polygon points="1393.18,506.87 1408.66,501.41 1396.76,494.27 1381.28,499.73" fill="#3b28a3"/><polygon points="1377.69,512.4 1393.18,506.94 1381.28,499.8 1365.79,505.26" fill="#3a27a2"/><polygon points="1362.21,517.82 1377.69,512.36 1365.79,505.22 1350.31,510.67" fill="#3a28a2"/><polygon points="1346.72,523.31 1362.21,517.86 1350.31,510.71 1334.82,516.17" fill="#3a27a2"/><polygon points="1331.24,528.71 1346.72,523.25 1334.82,516.11 1319.34,521.57" fill="#3a28a2"/><polygon points="1315.75,534.22 1331.24,528.77 1319.34,521.62 1303.85,527.08" fill="#3a27a2"/><polygon points="1300.26,539.62 1315.75,534.17 1303.85,527.02 1288.36,532.48" fill="#3a28a2"/><polygon points="1284.78,545.12 1300.26,539.67 1288.36,532.52 1272.88,537.98" fill="#3a27a2"/><polygon points="1269.29,550.6 1284.78,545.14 1272.88,538 1257.39,543.45" fill="#3a27a2"/></g><g><polygon points="289.32,908.4 304.81,902.94 304.81,902.33 289.32,907.79" fill="#3b28a3"/><polygon points="289.32,908.4 277.42,901.26 277.42,900.65 289.32,907.79" fill="#3b28a3"/><polygon points="289.32,907.79 304.81,902.33 292.91,895.19 277.42,900.65" fill="#3b28a5"/><polygon points="273.84,913.68 289.32,908.22 277.42,901.08 261.94,906.53" fill="#3b28a3"/><polygon points="258.35,918.91 273.84,913.45 261.94,906.31 246.45,911.77" fill="#3b28a4"/><polygon points="242.86,924.73 258.35,919.27 246.45,912.13 230.96,917.59" fill="#3a27a2"/><polygon points="227.38,929.84 242.86,924.38 230.96,917.24 215.48,922.7" fill="#3b28a4"/><polygon points="211.89,935.57 227.38,930.11 215.48,922.97 199.99,928.43" fill="#3a28a2"/><polygon points="196.41,941.01 211.89,935.56 199.99,928.41 184.51,933.87" fill="#3a28a2"/><polygon points="180.92,946.01 196.41,940.55 184.51,933.41 169.02,938.87" fill="#3b28a4"/><polygon points="165.44,951.53 180.92,946.07 169.02,938.93 153.54,944.38" fill="#3b28a4"/><polygon points="149.95,957.33 165.44,951.87 153.54,944.73 138.05,950.19" fill="#3b28a3"/><polygon points="134.46,962.47 149.95,957.01 138.05,949.87 122.56,955.32" fill="#3b28a4"/><polygon points="118.98,968.42 134.46,962.97 122.56,955.82 107.08,961.28" fill="#3a27a2"/><polygon points="103.49,973.87 118.98,968.41 107.08,961.27 91.59,966.72" fill="#3a27a2"/><polygon points="301.22,915.53 316.71,910.08 304.81,902.93 289.32,908.39" fill="#3a27a2"/><polygon points="285.74,920.57 301.22,915.11 289.32,907.97 273.84,913.43" fill="#3b28a4"/><polygon points="270.25,926.18 285.74,920.72 273.84,913.58 258.35,919.04" fill="#3b28a3"/><polygon points="254.76,931.91 270.25,926.46 258.35,919.31 242.86,924.77" fill="#3a27a2"/><polygon points="239.28,937.19 254.76,931.73 242.86,924.59 227.38,930.05" fill="#3b28a3"/><polygon points="223.79,942.83 239.28,937.37 239.28,936.75 223.79,942.2" fill="#3b28a3"/><polygon points="223.79,942.83 211.89,935.69 211.89,935.06 223.79,942.2" fill="#3b28a3"/><polygon points="223.79,942.2 239.28,936.75 227.38,929.6 211.89,935.06" fill="#3b28a5"/><polygon points="208.31,948.26 223.79,942.8 211.89,935.66 196.41,941.12" fill="#3a27a2"/><polygon points="192.82,953.22 208.31,947.76 196.41,940.62 180.92,946.08" fill="#3b28a4"/><polygon points="177.34,959 192.82,953.54 180.92,946.4 165.44,951.85" fill="#3b28a3"/><polygon points="161.85,964.61 177.34,959.15 165.44,952.01 149.95,957.46" fill="#3a27a2"/><polygon points="146.36,969.9 161.85,964.44 149.95,957.3 134.46,962.76" fill="#3b28a3"/><polygon points="130.88,975.07 146.36,969.61 134.46,962.47 118.98,967.93" fill="#3b28a4"/><polygon points="115.39,980.98 130.88,975.52 118.98,968.38 103.49,973.84" fill="#3a27a2"/><polygon points="313.12,922.16 328.61,916.7 316.71,909.56 301.22,915.02" fill="#3b28a4"/><polygon points="297.64,927.87 313.12,922.42 301.22,915.27 285.74,920.73" fill="#3b28a3"/><polygon points="282.15,933.07 297.64,927.62 285.74,920.47 270.25,925.93" fill="#3b28a4"/><polygon points="266.66,938.9 282.15,933.44 270.25,926.3 254.76,931.75" fill="#3a28a3"/><polygon points="251.18,944.5 266.66,939.05 254.76,931.9 239.28,937.36" fill="#3a27a2"/><polygon points="235.69,949.97 251.18,944.51 239.28,937.37 223.79,942.82" fill="#3a27a2"/><polygon points="220.21,955.37 235.69,949.92 223.79,942.77 208.31,948.23" fill="#3a27a2"/><polygon points="204.72,960.57 220.21,955.11 208.31,947.97 192.82,953.43" fill="#3b28a3"/><polygon points="189.24,966.28 204.72,960.82 192.82,953.68 177.34,959.13" fill="#3a27a2"/><polygon points="173.75,971.55 189.24,966.09 177.34,958.95 161.85,964.4" fill="#3b28a3"/><polygon points="158.26,976.72 173.75,971.26 161.85,964.12 146.36,969.58" fill="#3b28a4"/><polygon points="142.78,982.24 158.26,976.78 146.36,969.64 130.88,975.1" fill="#3b28a4"/><polygon points="127.29,987.98 142.78,982.53 130.88,975.38 115.39,980.84" fill="#3b28a3"/><polygon points="325.02,929.83 340.51,924.37 328.61,917.23 313.12,922.68" fill="#3a27a2"/><polygon points="309.54,934.87 325.02,929.41 313.12,922.27 297.64,927.73" fill="#3b28a4"/><polygon points="294.05,940.64 309.54,935.18 297.64,928.04 282.15,933.49" fill="#3a28a2"/><polygon points="278.56,946.2 294.05,940.74 294.05,939.25 278.56,944.71" fill="#3b28a5"/><polygon points="278.56,946.2 266.66,939.06 266.66,937.56 278.56,944.71" fill="#3b28a5"/><polygon points="278.56,944.71 294.05,939.25 282.15,932.11 266.66,937.56" fill="#3c29a8"/><polygon points="263.08,951.66 278.56,946.2 278.56,944.05 263.08,949.5" fill="#3b29a7"/><polygon points="263.08,951.66 251.18,944.51 251.18,942.36 263.08,949.5" fill="#3b29a7"/><polygon points="263.08,949.5 278.56,944.05 266.66,936.9 251.18,942.36" fill="#3c2aab"/><polygon points="247.59,956.93 263.08,951.47 251.18,944.33 235.69,949.79" fill="#3b28a3"/><polygon points="232.11,962.57 247.59,957.11 247.59,955.67 232.11,961.12" fill="#3b28a5"/><polygon points="232.11,962.57 220.21,955.43 220.21,953.98 232.11,961.12" fill="#3b28a5"/><polygon points="232.11,961.12 247.59,955.67 235.69,948.52 220.21,953.98" fill="#3c29a8"/><polygon points="216.62,968.02 232.11,962.57 220.21,955.42 204.72,960.88" fill="#3a27a2"/><polygon points="201.14,973.49 216.62,968.03 216.62,966.82 201.14,972.28" fill="#3b28a4"/><polygon points="201.14,973.49 189.24,966.34 189.24,965.14 201.14,972.28" fill="#3b28a4"/><polygon points="201.14,972.28 216.62,966.82 204.72,959.68 189.24,965.14" fill="#3b29a7"/><polygon points="185.65,978.94 201.14,973.48 189.24,966.34 173.75,971.8" fill="#3a27a2"/><polygon points="170.16,984.34 185.65,978.88 173.75,971.74 158.26,977.2" fill="#3a27a2"/><polygon points="154.68,989.51 170.16,984.05 158.26,976.91 142.78,982.37" fill="#3b28a3"/><polygon points="139.19,995.28 154.68,989.83 142.78,982.68 127.29,988.14" fill="#3a27a2"/><polygon points="336.92,936.68 352.41,931.22 340.51,924.08 325.02,929.54" fill="#3b28a3"/><polygon points="321.44,942.15 336.92,936.69 325.02,929.55 309.54,935.01" fill="#3b28a3"/><polygon points="305.95,947.89 321.44,942.43 321.44,941.79 305.95,947.25" fill="#3b28a3"/><polygon points="305.95,947.89 294.05,940.74 294.05,940.11 305.95,947.25" fill="#3b28a3"/><polygon points="305.95,947.25 321.44,941.79 309.54,934.65 294.05,940.11" fill="#3b28a5"/><polygon points="290.46,953.34 305.95,947.89 305.95,946.17 290.46,951.63" fill="#3b29a6"/><polygon points="290.46,953.34 278.56,946.2 278.56,944.49 290.46,951.63" fill="#3b29a6"/><polygon points="290.46,951.63 305.95,946.17 294.05,939.03 278.56,944.49" fill="#3c2aa9"/><polygon points="274.98,958.67 290.46,953.21 278.56,946.07 263.08,951.52" fill="#3a28a2"/><polygon points="259.49,963.97 274.98,958.52 263.08,951.37 247.59,956.83" fill="#3b28a3"/><polygon points="244.01,969.71 259.49,964.26 259.49,962.63 244.01,968.09" fill="#3b28a5"/><polygon points="244.01,969.71 232.11,962.57 232.11,960.95 244.01,968.09" fill="#3b28a5"/><polygon points="244.01,968.09 259.49,962.63 247.59,955.49 232.11,960.95" fill="#3c2aa9"/><polygon points="228.52,974.72 244.01,969.26 232.11,962.12 216.62,967.57" fill="#3b28a4"/><polygon points="213.04,980.35 228.52,974.9 216.62,967.75 201.14,973.21" fill="#3b28a3"/><polygon points="197.55,986.08 213.04,980.62 201.14,973.48 185.65,978.94" fill="#3a27a2"/><polygon points="182.06,991.35 197.55,985.89 185.65,978.75 170.16,984.21" fill="#3b28a3"/><polygon points="166.58,996.74 182.06,991.29 170.16,984.14 154.68,989.6" fill="#3b28a3"/><polygon points="151.09,1002.08 166.58,996.62 154.68,989.48 139.19,994.93" fill="#3b28a4"/><polygon points="348.82,944.11 364.31,938.66 364.31,938.06 348.82,943.51" fill="#3b28a3"/><polygon points="348.82,944.11 336.92,936.97 336.92,936.37 348.82,943.51" fill="#3b28a3"/><polygon points="348.82,943.51 364.31,938.06 352.41,930.91 336.92,936.37" fill="#3b28a4"/><polygon points="333.34,949.5 348.82,944.04 336.92,936.9 321.44,942.36" fill="#3a27a2"/><polygon points="317.85,954.82 333.34,949.36 321.44,942.22 305.95,947.68" fill="#3b28a3"/><polygon points="302.36,960.35 317.85,954.89 305.95,947.75 290.46,953.21" fill="#3a28a2"/><polygon points="286.88,965.42 302.36,959.96 290.46,952.82 274.98,958.28" fill="#3b28a4"/><polygon points="271.39,971.4 286.88,965.94 286.88,961.89 271.39,967.34" fill="url(#g4r8_8)"/><polygon points="271.39,971.4 259.49,964.26 259.49,960.2 271.39,967.34" fill="url(#g4l8_8)"/><polygon points="271.39,967.34 286.88,961.89 274.98,954.74 259.49,960.2" fill="#3e2db3"/><polygon points="255.91,976.86 271.39,971.4 271.39,955.44 255.91,960.9" fill="url(#g4r7_8)"/><polygon points="255.91,976.86 244.01,969.71 244.01,953.75 255.91,960.9" fill="url(#g4l7_8)"/><polygon points="255.91,960.9 271.39,955.44 259.49,948.3 244.01,953.75" fill="#4642dd"/><polygon points="240.42,982.31 255.91,976.86 255.91,970.91 240.42,976.36" fill="url(#g4r6_8)"/><polygon points="240.42,982.31 228.52,975.17 228.52,969.22 240.42,976.36" fill="url(#g4l6_8)"/><polygon points="240.42,976.36 255.91,970.91 244.01,963.76 228.52,969.22" fill="#3f30bb"/><polygon points="224.94,987.61 240.42,982.15 228.52,975.01 213.04,980.46" fill="#3a28a3"/><polygon points="209.45,993.23 224.94,987.77 224.94,986.34 209.45,991.8" fill="#3b28a5"/><polygon points="209.45,993.23 197.55,986.09 197.55,984.66 209.45,991.8" fill="#3b28a5"/><polygon points="209.45,991.8 224.94,986.34 213.04,979.2 197.55,984.66" fill="#3c29a8"/><polygon points="193.96,998.2 209.45,992.74 197.55,985.6 182.06,991.06" fill="#3b28a4"/><polygon points="178.48,1004.08 193.96,998.62 182.06,991.48 166.58,996.94" fill="#3a27a2"/><polygon points="162.99,1009.18 178.48,1003.73 166.58,996.58 151.09,1002.04" fill="#3b28a4"/><polygon points="360.72,951.26 376.21,945.8 376.21,945.19 360.72,950.64" fill="#3b28a3"/><polygon points="360.72,951.26 348.82,944.11 348.82,943.5 360.72,950.64" fill="#3b28a3"/><polygon points="360.72,950.64 376.21,945.19 364.31,938.04 348.82,943.5" fill="#3b28a5"/><polygon points="345.24,956.16 360.72,950.7 348.82,943.56 333.34,949.02" fill="#3b28a4"/><polygon points="329.75,961.61 345.24,956.16 333.34,949.01 317.85,954.47" fill="#3b28a4"/><polygon points="314.26,967.24 329.75,961.79 317.85,954.64 302.36,960.1" fill="#3b28a4"/><polygon points="298.78,973.09 314.26,967.63 314.26,966.01 298.78,971.46" fill="#3b28a5"/><polygon points="298.78,973.09 286.88,965.94 286.88,964.32 298.78,971.46" fill="#3b28a5"/><polygon points="298.78,971.46 314.26,966.01 302.36,958.86 286.88,964.32" fill="#3c2aa9"/><polygon points="283.29,978.54 298.78,973.09 298.78,961.18 283.29,966.64" fill="url(#g4r8_7)"/><polygon points="283.29,978.54 271.39,971.4 271.39,959.5 283.29,966.64" fill="url(#g4l8_7)"/><polygon points="283.29,966.64 298.78,961.18 286.88,954.04 271.39,959.5" fill="#443ad1"/><polygon points="267.81,984 283.29,978.54 283.29,811.37 267.81,816.83" fill="url(#g4r7_7)"/><polygon points="267.81,984 255.91,976.86 255.91,809.69 267.81,816.83" fill="url(#g4l7_7)"/><polygon points="267.81,816.83 283.29,811.37 271.39,804.23 255.91,809.69" fill="#f9fb56"/><polygon points="252.32,989.46 267.81,984 267.81,967.91 252.32,973.36" fill="url(#g4r6_7)"/><polygon points="252.32,989.46 240.42,982.31 240.42,966.22 252.32,973.36" fill="url(#g4l6_7)"/><polygon points="252.32,973.36 267.81,967.91 255.91,960.76 240.42,966.22" fill="#4642dd"/><polygon points="236.84,994.91 252.32,989.46 252.32,987.83 236.84,993.29" fill="#3b28a5"/><polygon points="236.84,994.91 224.94,987.77 224.94,986.15 236.84,993.29" fill="#3b28a5"/><polygon points="236.84,993.29 252.32,987.83 240.42,980.69 224.94,986.15" fill="#3c2aa9"/><polygon points="221.35,1000.17 236.84,994.71 224.94,987.57 209.45,993.03" fill="#3b28a3"/><polygon points="205.86,1005.26 221.35,999.8 209.45,992.66 193.96,998.12" fill="#3b28a4"/><polygon points="190.38,1011.26 205.86,1005.8 193.96,998.66 178.48,1004.12" fill="#3a27a2"/><polygon points="174.89,1016.2 190.38,1010.74 178.48,1003.6 162.99,1009.05" fill="#3b28a4"/><polygon points="372.62,958.4 388.11,952.94 376.21,945.8 360.72,951.25" fill="#3a27a2"/><polygon points="357.14,963.33 372.62,957.87 360.72,950.73 345.24,956.19" fill="#3b28a4"/><polygon points="341.65,969.31 357.14,963.86 345.24,956.71 329.75,962.17" fill="#3a27a2"/><polygon points="326.16,974.77 341.65,969.31 329.75,962.17 314.26,967.63" fill="#3a27a2"/><polygon points="310.68,980.18 326.16,974.72 314.26,967.58 298.78,973.04" fill="#3a27a2"/><polygon points="295.19,985.69 310.68,980.23 310.68,975.63 295.19,981.09" fill="url(#g4r8_6)"/><polygon points="295.19,985.69 283.29,978.54 283.29,973.94 295.19,981.09" fill="url(#g4l8_6)"/><polygon points="295.19,981.09 310.68,975.63 298.78,968.49 283.29,973.94" fill="#3e2eb5"/><polygon points="279.71,991.14 295.19,985.69 295.19,970.54 279.71,975.99" fill="url(#g4r7_6)"/><polygon points="279.71,991.14 267.81,984 267.81,968.85 279.71,975.99" fill="url(#g4l7_6)"/><polygon points="279.71,975.99 295.19,970.54 283.29,963.39 267.81,968.85" fill="#4640db"/><polygon points="264.22,996.6 279.71,991.14 279.71,984.38 264.22,989.84" fill="url(#g4r6_6)"/><polygon points="264.22,996.6 252.32,989.46 252.32,982.69 264.22,989.84" fill="url(#g4l6_6)"/><polygon points="264.22,989.84 279.71,984.38 267.81,977.24 252.32,982.69" fill="#4031be"/><polygon points="248.74,1001.97 264.22,996.51 252.32,989.37 236.84,994.83" fill="#3a27a2"/><polygon points="233.25,1007.46 248.74,1002 236.84,994.86 221.35,1000.32" fill="#3a27a2"/><polygon points="217.76,1012.97 233.25,1007.51 221.35,1000.37 205.86,1005.82" fill="#3a27a2"/><polygon points="202.28,1018.01 217.76,1012.56 205.86,1005.41 190.38,1010.87" fill="#3b28a4"/><polygon points="186.79,1023.78 202.28,1018.32 190.38,1011.18 174.89,1016.64" fill="#3a28a2"/><polygon points="384.52,964.95 400.01,959.49 388.11,952.35 372.62,957.81" fill="#3b28a4"/><polygon points="369.04,970.5 384.52,965.05 372.62,957.9 357.14,963.36" fill="#3b28a4"/><polygon points="353.55,976.44 369.04,970.99 357.14,963.84 341.65,969.3" fill="#3a27a2"/><polygon points="338.06,981.55 353.55,976.09 341.65,968.95 326.16,974.41" fill="#3b28a3"/><polygon points="322.58,987.37 338.06,981.91 338.06,980.92 322.58,986.38" fill="#3b28a4"/><polygon points="322.58,987.37 310.68,980.23 310.68,979.24 322.58,986.38" fill="#3b28a4"/><polygon points="322.58,986.38 338.06,980.92 326.16,973.78 310.68,979.24" fill="#3b29a6"/><polygon points="307.09,992.83 322.58,987.37 310.68,980.23 295.19,985.69" fill="#3a27a2"/><polygon points="291.61,998.29 307.09,992.83 307.09,991.21 291.61,996.66" fill="#3b28a5"/><polygon points="291.61,998.29 279.71,991.14 279.71,989.52 291.61,996.66" fill="#3b28a5"/><polygon points="291.61,996.66 307.09,991.21 295.19,984.06 279.71,989.52" fill="#3c2aa9"/><polygon points="276.12,1003.74 291.61,998.29 291.61,997.47 276.12,1002.92" fill="#3b28a4"/><polygon points="276.12,1003.74 264.22,996.6 264.22,995.78 276.12,1002.92" fill="#3b28a4"/><polygon points="276.12,1002.92 291.61,997.47 279.71,990.32 264.22,995.78" fill="#3b28a5"/><polygon points="260.64,1008.83 276.12,1003.37 264.22,996.23 248.74,1001.69" fill="#3b28a3"/><polygon points="245.15,1014.26 260.64,1008.8 248.74,1001.66 233.25,1007.11" fill="#3b28a4"/><polygon points="229.66,1019.97 245.15,1014.51 233.25,1007.37 217.76,1012.83" fill="#3a28a2"/><polygon points="214.18,1025.15 229.66,1019.69 217.76,1012.55 202.28,1018.01" fill="#3b28a4"/><polygon points="198.69,1031.03 214.18,1025.57 202.28,1018.43 186.79,1023.88" fill="#3a27a2"/><polygon points="396.42,972.13 411.91,966.68 400.01,959.53 384.52,964.99" fill="#3b28a4"/><polygon points="380.94,978.11 396.42,972.66 384.52,965.51 369.04,970.97" fill="#3a27a2"/><polygon points="365.45,983.11 380.94,977.65 369.04,970.51 353.55,975.97" fill="#3b28a4"/><polygon points="349.96,988.93 365.45,983.47 353.55,976.33 338.06,981.79" fill="#3a28a2"/><polygon points="334.48,994.45 349.96,989 338.06,981.85 322.58,987.31" fill="#3a27a2"/><polygon points="318.99,999.73 334.48,994.28 322.58,987.13 307.09,992.59" fill="#3b28a3"/><polygon points="303.51,1005.25 318.99,999.79 307.09,992.65 291.61,998.1" fill="#3b28a3"/><polygon points="288.02,1010.89 303.51,1005.43 303.51,1004.16 288.02,1009.62" fill="#3b28a5"/><polygon points="288.02,1010.89 276.12,1003.74 276.12,1002.48 288.02,1009.62" fill="#3b28a5"/><polygon points="288.02,1009.62 303.51,1004.16 291.61,997.02 276.12,1002.48" fill="#3b29a7"/><polygon points="272.54,1016.26 288.02,1010.8 276.12,1003.66 260.64,1009.12" fill="#3a27a2"/><polygon points="257.05,1021.8 272.54,1016.34 272.54,1015.57 257.05,1021.02" fill="#3b28a4"/><polygon points="257.05,1021.8 245.15,1014.66 245.15,1013.88 257.05,1021.02" fill="#3b28a4"/><polygon points="257.05,1021.02 272.54,1015.57 260.64,1008.42 245.15,1013.88" fill="#3b28a5"/><polygon points="241.56,1027.24 257.05,1021.78 245.15,1014.64 229.66,1020.09" fill="#3a27a2"/><polygon points="226.08,1032.27 241.56,1026.81 229.66,1019.67 214.18,1025.13" fill="#3b28a4"/><polygon points="210.59,1038.16 226.08,1032.7 214.18,1025.56 198.69,1031.01" fill="#3a27a2"/><polygon points="408.32,979.78 423.81,974.32 411.91,967.18 396.42,972.64" fill="#3a27a2"/><polygon points="392.84,985.28 408.32,979.82 396.42,972.68 380.94,978.14" fill="#3a27a2"/><polygon points="377.35,990.71 392.84,985.25 380.94,978.11 365.45,983.57" fill="#3a27a2"/><polygon points="361.86,996.05 377.35,990.59 365.45,983.45 349.96,988.91" fill="#3a28a2"/><polygon points="346.38,1001.66 361.86,996.2 349.96,989.06 334.48,994.51" fill="#3a27a2"/><polygon points="330.89,1007.11 346.38,1001.66 346.38,1001.06 330.89,1006.51" fill="#3b28a3"/><polygon points="330.89,1007.11 318.99,999.97 318.99,999.37 330.89,1006.51" fill="#3b28a3"/><polygon points="330.89,1006.51 346.38,1001.06 334.48,993.91 318.99,999.37" fill="#3b28a4"/><polygon points="315.41,1012.57 330.89,1007.11 318.99,999.97 303.51,1005.43" fill="#3a27a2"/><polygon points="299.92,1017.99 315.41,1012.54 303.51,1005.39 288.02,1010.85" fill="#3a27a2"/><polygon points="284.44,1023.49 299.92,1018.03 299.92,1017.38 284.44,1022.84" fill="#3b28a3"/><polygon points="284.44,1023.49 272.54,1016.34 272.54,1015.7 284.44,1022.84" fill="#3b28a3"/><polygon points="284.44,1022.84 299.92,1017.38 288.02,1010.24 272.54,1015.7" fill="#3b28a5"/><polygon points="268.95,1028.83 284.44,1023.37 272.54,1016.23 257.05,1021.69" fill="#3a28a2"/><polygon points="253.46,1034.23 268.95,1028.78 257.05,1021.63 241.56,1027.09" fill="#3b28a3"/><polygon points="237.98,1039.3 253.46,1033.84 241.56,1026.7 226.08,1032.16" fill="#3b28a4"/><polygon points="222.49,1045.21 237.98,1039.76 226.08,1032.61 210.59,1038.07" fill="#3a28a2"/><polygon points="420.22,986.67 435.71,981.21 423.81,974.07 408.32,979.52" fill="#3b28a3"/><polygon points="404.74,992.27 420.22,986.81 408.32,979.67 392.84,985.13" fill="#3a28a3"/><polygon points="389.25,997.86 404.74,992.4 392.84,985.26 377.35,990.71" fill="#3a27a2"/><polygon points="373.76,1003.34 389.25,997.89 389.25,997.25 373.76,1002.71" fill="#3b28a3"/><polygon points="373.76,1003.34 361.86,996.2 361.86,995.57 373.76,1002.71" fill="#3b28a3"/><polygon points="373.76,1002.71 389.25,997.25 377.35,990.11 361.86,995.57" fill="#3b28a5"/><polygon points="358.28,1008.8 373.76,1003.34 361.86,996.2 346.38,1001.65" fill="#3a27a2"/><polygon points="342.79,1014.16 358.28,1008.71 346.38,1001.56 330.89,1007.02" fill="#3a28a2"/><polygon points="327.31,1019.12 342.79,1013.66 330.89,1006.52 315.41,1011.97" fill="#3b28a4"/><polygon points="311.82,1025.17 327.31,1019.71 315.41,1012.57 299.92,1018.03" fill="#3a27a2"/><polygon points="296.34,1030.55 311.82,1025.1 299.92,1017.95 284.44,1023.41" fill="#3a27a2"/><polygon points="280.85,1035.92 296.34,1030.46 284.44,1023.32 268.95,1028.78" fill="#3b28a3"/><polygon points="265.36,1041.25 280.85,1035.79 268.95,1028.65 253.46,1034.11" fill="#3b28a3"/><polygon points="249.88,1046.97 265.36,1041.51 253.46,1034.37 237.98,1039.83" fill="#3a27a2"/><polygon points="234.39,1052.45 249.88,1046.99 237.98,1039.85 222.49,1045.31" fill="#3a27a2"/><polygon points="432.12,993.84 447.61,988.38 435.71,981.24 420.22,986.69" fill="#3b28a3"/><polygon points="416.64,999.21 432.12,993.75 420.22,986.61 404.74,992.07" fill="#3b28a3"/><polygon points="401.15,1004.99 416.64,999.53 404.74,992.39 389.25,997.85" fill="#3a27a2"/><polygon points="385.66,1010.38 401.15,1004.92 389.25,997.78 373.76,1003.23" fill="#3a28a2"/><polygon points="370.18,1015.91 385.66,1010.46 373.76,1003.31 358.28,1008.77" fill="#3a27a2"/><polygon points="354.69,1021.39 370.18,1015.93 358.28,1008.79 342.79,1014.25" fill="#3a27a2"/><polygon points="339.21,1026.51 354.69,1021.05 342.79,1013.91 327.31,1019.36" fill="#3b28a3"/><polygon points="323.72,1032.31 339.21,1026.85 327.31,1019.71 311.82,1025.16" fill="#3a27a2"/><polygon points="308.24,1037.63 323.72,1032.17 311.82,1025.03 296.34,1030.48" fill="#3a28a2"/><polygon points="292.75,1042.76 308.24,1037.3 296.34,1030.16 280.85,1035.62" fill="#3b28a4"/><polygon points="277.26,1048.45 292.75,1042.99 280.85,1035.85 265.36,1041.3" fill="#3b28a3"/><polygon points="261.78,1054.14 277.26,1048.68 265.36,1041.54 249.88,1046.99" fill="#3a27a2"/><polygon points="246.29,1059.56 261.78,1054.11 249.88,1046.96 234.39,1052.42" fill="#3a27a2"/></g><g><polygon points="800.32,908.32 815.81,902.86 803.91,895.72 788.42,901.18" fill="#3a28a2"/><polygon points="784.84,913.55 800.32,908.09 788.42,900.95 772.94,906.4" fill="#3b28a4"/><polygon points="769.35,918.92 784.84,913.46 772.94,906.32 757.45,911.77" fill="#3b28a4"/><polygon points="753.86,924.43 769.35,918.97 757.45,911.83 741.96,917.28" fill="#3b28a4"/><polygon points="738.38,929.97 753.86,924.51 741.96,917.37 726.48,922.83" fill="#3b28a3"/><polygon points="722.89,935.65 738.38,930.19 726.48,923.05 710.99,928.51" fill="#3a27a2"/><polygon points="707.41,940.95 722.89,935.49 710.99,928.35 695.51,933.81" fill="#3b28a3"/><polygon points="691.92,946.21 707.41,940.75 695.51,933.61 680.02,939.07" fill="#3b28a4"/><polygon points="676.44,951.97 691.92,946.51 680.02,939.37 664.54,944.83" fill="#3a28a2"/><polygon points="660.95,957.45 676.44,951.99 664.54,944.85 649.05,950.31" fill="#3a27a2"/><polygon points="645.46,962.66 660.95,957.2 649.05,950.06 633.56,955.52" fill="#3b28a4"/><polygon points="629.98,968.42 645.46,962.96 633.56,955.82 618.08,961.28" fill="#3a27a2"/><polygon points="614.49,973.74 629.98,968.29 618.08,961.14 602.59,966.6" fill="#3b28a3"/><polygon points="812.22,915.13 827.71,909.67 815.81,902.53 800.32,907.99" fill="#3b28a4"/><polygon points="796.74,920.62 812.22,915.16 800.32,908.02 784.84,913.47" fill="#3b28a4"/><polygon points="781.25,926.41 796.74,920.95 784.84,913.81 769.35,919.27" fill="#3a27a2"/><polygon points="765.76,931.76 781.25,926.3 769.35,919.16 753.86,924.62" fill="#3b28a3"/><polygon points="750.28,936.79 765.76,931.33 753.86,924.19 738.38,929.64" fill="#3b28a5"/><polygon points="734.79,942.72 750.28,937.26 738.38,930.12 722.89,935.58" fill="#3a28a2"/><polygon points="719.31,947.73 734.79,942.27 722.89,935.13 707.41,940.59" fill="#3b28a5"/><polygon points="703.82,953.56 719.31,948.11 707.41,940.96 691.92,946.42" fill="#3b28a3"/><polygon points="688.34,958.8 703.82,953.34 691.92,946.2 676.44,951.65" fill="#3b28a4"/><polygon points="672.85,964.58 688.34,959.13 676.44,951.98 660.95,957.44" fill="#3a27a2"/><polygon points="657.36,969.54 672.85,964.08 660.95,956.94 645.46,962.4" fill="#3b28a5"/><polygon points="641.88,975.32 657.36,969.87 645.46,962.72 629.98,968.18" fill="#3b28a3"/><polygon points="626.39,981.02 641.88,975.56 629.98,968.42 614.49,973.88" fill="#3a27a2"/><polygon points="824.12,922.41 839.61,916.96 827.71,909.81 812.22,915.27" fill="#3b28a3"/><polygon points="808.64,927.99 824.12,922.53 812.22,915.39 796.74,920.85" fill="#3b28a3"/><polygon points="793.15,933.59 808.64,928.14 796.74,920.99 781.25,926.45" fill="#3a27a2"/><polygon points="777.66,938.92 793.15,933.47 781.25,926.32 765.76,931.78" fill="#3a28a3"/><polygon points="762.18,944.17 777.66,938.71 765.76,931.57 750.28,937.02" fill="#3b28a4"/><polygon points="746.69,949.79 762.18,944.33 750.28,937.19 734.79,942.64" fill="#3b28a3"/><polygon points="731.21,955.35 746.69,949.9 734.79,942.75 719.31,948.21" fill="#3a27a2"/><polygon points="715.72,960.8 731.21,955.35 719.31,948.2 703.82,953.66" fill="#3a28a2"/><polygon points="700.24,966.34 715.72,960.89 703.82,953.74 688.34,959.2" fill="#3a27a2"/><polygon points="684.75,971.5 700.24,966.04 688.34,958.9 672.85,964.36" fill="#3b28a3"/><polygon points="669.26,977.23 684.75,971.77 672.85,964.63 657.36,970.09" fill="#3a27a2"/><polygon points="653.78,982.7 669.26,977.24 657.36,970.1 641.88,975.56" fill="#3a27a2"/><polygon points="638.29,987.64 653.78,982.19 641.88,975.04 626.39,980.5" fill="#3b28a5"/><polygon points="836.02,929.4 851.51,923.94 839.61,916.8 824.12,922.25" fill="#3b28a4"/><polygon points="820.54,935.23 836.02,929.78 824.12,922.63 808.64,928.09" fill="#3a27a2"/><polygon points="805.05,940.67 820.54,935.21 808.64,928.07 793.15,933.53" fill="#3a27a2"/><polygon points="789.56,946.2 805.05,940.74 805.05,938.68 789.56,944.14" fill="#3b29a7"/><polygon points="789.56,946.2 777.66,939.06 777.66,937 789.56,944.14" fill="#3b29a7"/><polygon points="789.56,944.14 805.05,938.68 793.15,931.54 777.66,937" fill="#3d2bad"/><polygon points="774.08,951.62 789.56,946.16 777.66,939.02 762.18,944.48" fill="#3a27a2"/><polygon points="758.59,957.11 774.08,951.66 774.08,949.55 758.59,955.01" fill="#3b29a8"/><polygon points="758.59,957.11 746.69,949.97 746.69,947.86 758.59,955.01" fill="#3b29a8"/><polygon points="758.59,955.01 774.08,949.55 762.18,942.41 746.69,947.86" fill="#3d2bad"/><polygon points="743.11,962.57 758.59,957.11 758.59,955.29 743.11,960.75" fill="#3b29a7"/><polygon points="743.11,962.57 731.21,955.43 731.21,953.6 743.11,960.75" fill="#3b29a7"/><polygon points="743.11,960.75 758.59,955.29 746.69,948.15 731.21,953.6" fill="#3c2aac"/><polygon points="727.62,967.77 743.11,962.31 731.21,955.17 715.72,960.63" fill="#3b28a3"/><polygon points="712.14,973.49 727.62,968.03 727.62,966.48 712.14,971.94" fill="#3b29a6"/><polygon points="712.14,973.49 700.24,966.34 700.24,964.8 712.14,971.94" fill="#3b29a6"/><polygon points="712.14,971.94 727.62,966.48 715.72,959.34 700.24,964.8" fill="#3c2aaa"/><polygon points="696.65,978.94 712.14,973.49 700.24,966.34 684.75,971.8" fill="#3a27a2"/><polygon points="681.16,984.1 696.65,978.64 684.75,971.5 669.26,976.96" fill="#3b28a3"/><polygon points="665.68,989.44 681.16,983.99 669.26,976.84 653.78,982.3" fill="#3b28a4"/><polygon points="650.19,995.04 665.68,989.58 653.78,982.44 638.29,987.9" fill="#3b28a3"/><polygon points="847.92,936.83 863.41,931.38 851.51,924.23 836.02,929.69" fill="#3b28a3"/><polygon points="832.44,942.11 847.92,936.65 836.02,929.51 820.54,934.96" fill="#3b28a4"/><polygon points="816.95,947.72 832.44,942.27 820.54,935.12 805.05,940.58" fill="#3b28a3"/><polygon points="801.46,953.34 816.95,947.89 816.95,946.31 801.46,951.77" fill="#3b29a6"/><polygon points="801.46,953.34 789.56,946.2 789.56,944.63 801.46,951.77" fill="#3b29a6"/><polygon points="801.46,951.77 816.95,946.31 805.05,939.17 789.56,944.63" fill="#3c2aaa"/><polygon points="785.98,958.8 801.46,953.34 801.46,951.82 785.98,957.28" fill="#3b29a6"/><polygon points="785.98,958.8 774.08,951.66 774.08,950.14 785.98,957.28" fill="#3b29a6"/><polygon points="785.98,957.28 801.46,951.82 789.56,944.68 774.08,950.14" fill="#3c2aaa"/><polygon points="770.49,964.25 785.98,958.79 774.08,951.65 758.59,957.11" fill="#3a27a2"/><polygon points="755.01,969.71 770.49,964.26 770.49,961.01 755.01,966.47" fill="url(#g5r7_9)"/><polygon points="755.01,969.71 743.11,962.57 743.11,959.33 755.01,966.47" fill="url(#g5l7_9)"/><polygon points="755.01,966.47 770.49,961.01 758.59,953.87 743.11,959.33" fill="#3e2db3"/><polygon points="739.52,975.17 755.01,969.71 755.01,967.79 739.52,973.25" fill="#3b29a7"/><polygon points="739.52,975.17 727.62,968.03 727.62,966.11 739.52,973.25" fill="#3b29a7"/><polygon points="739.52,973.25 755.01,967.79 743.11,960.65 727.62,966.11" fill="#3c2bac"/><polygon points="724.04,980.63 739.52,975.17 739.52,973.95 724.04,979.41" fill="#3b28a5"/><polygon points="724.04,980.63 712.14,973.49 712.14,972.27 724.04,979.41" fill="#3b28a5"/><polygon points="724.04,979.41 739.52,973.95 727.62,966.81 712.14,972.27" fill="#3c29a8"/><polygon points="708.55,986.09 724.04,980.63 724.04,979.84 708.55,985.3" fill="#3b28a4"/><polygon points="708.55,986.09 696.65,978.94 696.65,978.16 708.55,985.3" fill="#3b28a4"/><polygon points="708.55,985.3 724.04,979.84 712.14,972.7 696.65,978.16" fill="#3b29a6"/><polygon points="693.06,991.35 708.55,985.9 696.65,978.75 681.16,984.21" fill="#3b28a3"/><polygon points="677.58,996.98 693.06,991.53 681.16,984.38 665.68,989.84" fill="#3a27a2"/><polygon points="662.09,1001.88 677.58,996.42 665.68,989.28 650.19,994.74" fill="#3b28a5"/><polygon points="859.82,943.82 875.31,938.36 863.41,931.22 847.92,936.68" fill="#3b28a3"/><polygon points="844.34,949.49 859.82,944.03 847.92,936.89 832.44,942.34" fill="#3a28a2"/><polygon points="828.85,954.77 844.34,949.32 832.44,942.17 816.95,947.63" fill="#3b28a3"/><polygon points="813.36,960.49 828.85,955.03 828.85,952.87 813.36,958.32" fill="#3b29a8"/><polygon points="813.36,960.49 801.46,953.34 801.46,951.18 813.36,958.32" fill="#3b29a8"/><polygon points="813.36,958.32 828.85,952.87 816.95,945.72 801.46,951.18" fill="#3d2bae"/><polygon points="797.88,965.42 813.36,959.96 801.46,952.82 785.98,958.27" fill="#3b28a5"/><polygon points="782.39,971.4 797.88,965.94 797.88,963.24 782.39,968.7" fill="url(#g5r8_8)"/><polygon points="782.39,971.4 770.49,964.26 770.49,961.55 782.39,968.7" fill="url(#g5l8_8)"/><polygon points="782.39,968.7 797.88,963.24 785.98,956.1 770.49,961.55" fill="#3d2cb0"/><polygon points="766.91,976.86 782.39,971.4 782.39,939.21 766.91,944.67" fill="url(#g5r7_8)"/><polygon points="766.91,976.86 755.01,969.71 755.01,937.52 766.91,944.67" fill="url(#g5l7_8)"/><polygon points="766.91,944.67 782.39,939.21 770.49,932.07 755.01,937.52" fill="#4874f6"/><polygon points="751.42,982.31 766.91,976.86 766.91,971.45 751.42,976.9" fill="url(#g5r6_8)"/><polygon points="751.42,982.31 739.52,975.17 739.52,969.76 751.42,976.9" fill="url(#g5l6_8)"/><polygon points="751.42,976.9 766.91,971.45 755.01,964.3 739.52,969.76" fill="#4031be"/><polygon points="735.94,987.77 751.42,982.31 739.52,975.17 724.04,980.63" fill="#3a27a2"/><polygon points="720.45,993.03 735.94,987.57 724.04,980.43 708.55,985.89" fill="#3b28a3"/><polygon points="704.96,998.69 720.45,993.23 720.45,992.63 704.96,998.09" fill="#3b28a3"/><polygon points="704.96,998.69 693.06,991.54 693.06,990.94 704.96,998.09" fill="#3b28a3"/><polygon points="704.96,998.09 720.45,992.63 708.55,985.49 693.06,990.94" fill="#3b28a5"/><polygon points="689.48,1003.76 704.96,998.31 693.06,991.16 677.58,996.62" fill="#3b28a4"/><polygon points="673.99,1009.46 689.48,1004 677.58,996.86 662.09,1002.32" fill="#3b28a3"/><polygon points="871.72,951.22 887.21,945.76 875.31,938.62 859.82,944.07" fill="#3a27a2"/><polygon points="856.24,956.34 871.72,950.88 859.82,943.74 844.34,949.2" fill="#3b28a4"/><polygon points="840.75,961.57 856.24,956.12 844.34,948.97 828.85,954.43" fill="#3b28a5"/><polygon points="825.26,967.18 840.75,961.73 828.85,954.58 813.36,960.04" fill="#3b28a4"/><polygon points="809.78,973.09 825.26,967.63 825.26,964.92 809.78,970.38" fill="url(#g5r9_7)"/><polygon points="809.78,973.09 797.88,965.94 797.88,963.24 809.78,970.38" fill="url(#g5l9_7)"/><polygon points="809.78,970.38 825.26,964.92 813.36,957.78 797.88,963.24" fill="#3d2cb0"/><polygon points="794.29,978.54 809.78,973.09 809.78,957.4 794.29,962.85" fill="url(#g5r8_7)"/><polygon points="794.29,978.54 782.39,971.4 782.39,955.71 794.29,962.85" fill="url(#g5l8_7)"/><polygon points="794.29,962.85 809.78,957.4 797.88,950.25 782.39,955.71" fill="#4849e4"/><polygon points="778.81,984 794.29,978.54 794.29,843.7 778.81,849.16" fill="url(#g5r7_7)"/><polygon points="778.81,984 766.91,976.86 766.91,842.01 778.81,849.16" fill="url(#g5l7_7)"/><polygon points="778.81,849.16 794.29,843.7 782.39,836.56 766.91,842.01" fill="#f9fb56"/><polygon points="763.32,989.46 778.81,984 778.81,961.01 763.32,966.46" fill="url(#g5r6_7)"/><polygon points="763.32,989.46 751.42,982.31 751.42,959.32 763.32,966.46" fill="url(#g5l6_7)"/><polygon points="763.32,966.46 778.81,961.01 766.91,953.86 751.42,959.32" fill="#4b5bf1"/><polygon points="747.84,994.91 763.32,989.46 763.32,987.29 747.84,992.75" fill="#3c29a8"/><polygon points="747.84,994.91 735.94,987.77 735.94,985.61 747.84,992.75" fill="#3c29a8"/><polygon points="747.84,992.75 763.32,987.29 751.42,980.15 735.94,985.61" fill="#3d2bae"/><polygon points="732.35,1000.36 747.84,994.91 735.94,987.76 720.45,993.22" fill="#3a27a2"/><polygon points="716.86,1005.77 732.35,1000.32 720.45,993.17 704.96,998.63" fill="#3a27a2"/><polygon points="701.38,1010.74 716.86,1005.28 704.96,998.14 689.48,1003.6" fill="#3b28a5"/><polygon points="685.89,1016.74 701.38,1011.29 689.48,1004.14 673.99,1009.6" fill="#3a27a2"/><polygon points="883.62,958.21 899.11,952.75 887.21,945.61 871.72,951.06" fill="#3b28a3"/><polygon points="868.14,963.57 883.62,958.11 871.72,950.97 856.24,956.43" fill="#3b28a3"/><polygon points="852.65,969.31 868.14,963.86 868.14,963.22 852.65,968.68" fill="#3b28a4"/><polygon points="852.65,969.31 840.75,962.17 840.75,961.54 852.65,968.68" fill="#3b28a4"/><polygon points="852.65,968.68 868.14,963.22 856.24,956.08 840.75,961.54" fill="#3b28a5"/><polygon points="837.16,974.58 852.65,969.13 840.75,961.98 825.26,967.44" fill="#3b28a3"/><polygon points="821.68,980.23 837.16,974.77 837.16,972.96 821.68,978.41" fill="#3b29a7"/><polygon points="821.68,980.23 809.78,973.09 809.78,971.27 821.68,978.41" fill="#3b29a7"/><polygon points="821.68,978.41 837.16,972.96 825.26,965.81 809.78,971.27" fill="#3c2aac"/><polygon points="806.19,985.69 821.68,980.23 821.68,976.98 806.19,982.44" fill="url(#g5r8_6)"/><polygon points="806.19,985.69 794.29,978.54 794.29,975.3 806.19,982.44" fill="url(#g5l8_6)"/><polygon points="806.19,982.44 821.68,976.98 809.78,969.84 794.29,975.3" fill="#3e2db3"/><polygon points="790.71,991.14 806.19,985.69 806.19,948.19 790.71,953.65" fill="url(#g5r7_6)"/><polygon points="790.71,991.14 778.81,984 778.81,946.51 790.71,953.65" fill="url(#g5l7_6)"/><polygon points="790.71,953.65 806.19,948.19 794.29,941.05 778.81,946.51" fill="#4782f0"/><polygon points="775.22,996.6 790.71,991.14 790.71,988.98 775.22,994.44" fill="#3c29a8"/><polygon points="775.22,996.6 763.32,989.46 763.32,987.29 775.22,994.44" fill="#3c29a8"/><polygon points="775.22,994.44 790.71,988.98 778.81,981.84 763.32,987.29" fill="#3d2bae"/><polygon points="759.74,1002.05 775.22,996.59 763.32,989.45 747.84,994.91" fill="#3a27a2"/><polygon points="744.25,1007.47 759.74,1002.01 747.84,994.87 732.35,1000.33" fill="#3a27a2"/><polygon points="728.76,1012.48 744.25,1007.02 732.35,999.88 716.86,1005.33" fill="#3b28a5"/><polygon points="713.28,1018.38 728.76,1012.92 716.86,1005.78 701.38,1011.24" fill="#3a27a2"/><polygon points="697.79,1023.33 713.28,1017.88 701.38,1010.73 685.89,1016.19" fill="#3b28a5"/><polygon points="895.52,965.54 911.01,960.09 899.11,952.94 883.62,958.4" fill="#3a27a2"/><polygon points="880.04,970.69 895.52,965.23 883.62,958.09 868.14,963.54" fill="#3b28a4"/><polygon points="864.55,976.36 880.04,970.91 868.14,963.76 852.65,969.22" fill="#3a28a2"/><polygon points="849.06,981.91 864.55,976.46 864.55,974.91 849.06,980.37" fill="#3b29a6"/><polygon points="849.06,981.91 837.16,974.77 837.16,973.23 849.06,980.37" fill="#3b29a6"/><polygon points="849.06,980.37 864.55,974.91 852.65,967.77 837.16,973.23" fill="#3c2aaa"/><polygon points="833.58,987.36 849.06,981.91 837.16,974.76 821.68,980.22" fill="#3a27a2"/><polygon points="818.09,992.78 833.58,987.32 821.68,980.18 806.19,985.64" fill="#3a27a2"/><polygon points="802.61,998.29 818.09,992.83 818.09,989.58 802.61,995.04" fill="url(#g5r7_5)"/><polygon points="802.61,998.29 790.71,991.14 790.71,987.9 802.61,995.04" fill="url(#g5l7_5)"/><polygon points="802.61,995.04 818.09,989.58 806.19,982.44 790.71,987.9" fill="#3e2db3"/><polygon points="787.12,1003.74 802.61,998.29 802.61,996.31 787.12,1001.77" fill="#3b29a7"/><polygon points="787.12,1003.74 775.22,996.6 775.22,994.63 787.12,1001.77" fill="#3b29a7"/><polygon points="787.12,1001.77 802.61,996.31 790.71,989.17 775.22,994.63" fill="#3c2bad"/><polygon points="771.64,1009.2 787.12,1003.74 787.12,1002.67 771.64,1008.13" fill="#3b28a5"/><polygon points="771.64,1009.2 759.74,1002.06 759.74,1000.98 771.64,1008.13" fill="#3b28a5"/><polygon points="771.64,1008.13 787.12,1002.67 775.22,995.53 759.74,1000.98" fill="#3b29a8"/><polygon points="756.15,1014.6 771.64,1009.14 759.74,1002 744.25,1007.45" fill="#3a27a2"/><polygon points="740.66,1020.11 756.15,1014.66 756.15,1014.03 740.66,1019.49" fill="#3b28a4"/><polygon points="740.66,1020.11 728.76,1012.97 728.76,1012.34 740.66,1019.49" fill="#3b28a4"/><polygon points="740.66,1019.49 756.15,1014.03 744.25,1006.89 728.76,1012.34" fill="#3b28a5"/><polygon points="725.18,1025.54 740.66,1020.08 728.76,1012.94 713.28,1018.4" fill="#3a27a2"/><polygon points="709.69,1030.67 725.18,1025.22 713.28,1018.07 697.79,1023.53" fill="#3b28a4"/><polygon points="907.42,972.47 922.91,967.01 911.01,959.87 895.52,965.32" fill="#3b28a3"/><polygon points="891.94,977.75 907.42,972.3 895.52,965.15 880.04,970.61" fill="#3b28a4"/><polygon points="876.45,983.59 891.94,978.13 880.04,970.99 864.55,976.44" fill="#3a27a2"/><polygon points="860.96,989.01 876.45,983.55 864.55,976.41 849.06,981.87" fill="#3a27a2"/><polygon points="845.48,994.13 860.96,988.67 849.06,981.53 833.58,986.99" fill="#3b28a4"/><polygon points="829.99,999.96 845.48,994.5 833.58,987.36 818.09,992.82" fill="#3a27a2"/><polygon points="814.51,1005.43 829.99,999.97 829.99,998.37 814.51,1003.83" fill="#3b29a6"/><polygon points="814.51,1005.43 802.61,998.29 802.61,996.69 814.51,1003.83" fill="#3b29a6"/><polygon points="814.51,1003.83 829.99,998.37 818.09,991.23 802.61,996.69" fill="#3c2aab"/><polygon points="799.02,1010.81 814.51,1005.36 802.61,998.21 787.12,1003.67" fill="#3a27a2"/><polygon points="783.54,1015.84 799.02,1010.38 787.12,1003.24 771.64,1008.7" fill="#3b28a5"/><polygon points="768.05,1021.52 783.54,1016.06 771.64,1008.92 756.15,1014.37" fill="#3b28a3"/><polygon points="752.56,1027.23 768.05,1021.77 756.15,1014.63 740.66,1020.08" fill="#3a27a2"/><polygon points="737.08,1032.71 752.56,1027.26 740.66,1020.11 725.18,1025.57" fill="#3a27a2"/><polygon points="721.59,1037.59 737.08,1032.14 725.18,1024.99 709.69,1030.45" fill="#3b28a5"/><polygon points="919.32,979.55 934.81,974.1 922.91,966.95 907.42,972.41" fill="#3b28a3"/><polygon points="903.84,984.88 919.32,979.43 907.42,972.28 891.94,977.74" fill="#3b28a4"/><polygon points="888.35,990.64 903.84,985.18 891.94,978.04 876.45,983.49" fill="#3a28a2"/><polygon points="872.86,996.08 888.35,990.62 876.45,983.48 860.96,988.93" fill="#3a28a3"/><polygon points="857.38,1001.52 872.86,996.07 860.96,988.92 845.48,994.38" fill="#3b28a3"/><polygon points="841.89,1007.09 857.38,1001.64 845.48,994.49 829.99,999.95" fill="#3a27a2"/><polygon points="826.41,1012.16 841.89,1006.7 829.99,999.56 814.51,1005.02" fill="#3b28a4"/><polygon points="810.92,1018.03 826.41,1012.57 814.51,1005.43 799.02,1010.88" fill="#3a27a2"/><polygon points="795.44,1023.42 810.92,1017.96 799.02,1010.82 783.54,1016.28" fill="#3a27a2"/><polygon points="779.95,1028.88 795.44,1023.43 783.54,1016.28 768.05,1021.74" fill="#3a27a2"/><polygon points="764.46,1034.37 779.95,1028.91 768.05,1021.77 752.56,1027.23" fill="#3a27a2"/><polygon points="748.98,1039.64 764.46,1034.19 752.56,1027.04 737.08,1032.5" fill="#3b28a3"/><polygon points="733.49,1044.9 748.98,1039.45 737.08,1032.3 721.59,1037.76" fill="#3b28a4"/><polygon points="931.22,986.39 946.71,980.93 934.81,973.79 919.32,979.25" fill="#3b28a5"/><polygon points="915.74,992.34 931.22,986.89 919.32,979.74 903.84,985.2" fill="#3a28a2"/><polygon points="900.25,997.83 915.74,992.37 903.84,985.23 888.35,990.69" fill="#3a27a2"/><polygon points="884.76,1003.34 900.25,997.88 888.35,990.74 872.86,996.19" fill="#3a27a2"/><polygon points="869.28,1008.36 884.76,1002.9 872.86,995.76 857.38,1001.21" fill="#3b28a4"/><polygon points="853.79,1014.19 869.28,1008.73 857.38,1001.59 841.89,1007.05" fill="#3a27a2"/><polygon points="838.31,1019.35 853.79,1013.89 841.89,1006.75 826.41,1012.21" fill="#3b28a4"/><polygon points="822.82,1025.17 838.31,1019.71 826.41,1012.57 810.92,1018.03" fill="#3a27a2"/><polygon points="807.34,1030.48 822.82,1025.02 810.92,1017.88 795.44,1023.34" fill="#3b28a3"/><polygon points="791.85,1035.57 807.34,1030.11 795.44,1022.97 779.95,1028.42" fill="#3b28a5"/><polygon points="776.36,1041.05 791.85,1035.59 779.95,1028.45 764.46,1033.91" fill="#3b28a5"/><polygon points="760.88,1046.81 776.36,1041.35 764.46,1034.21 748.98,1039.67" fill="#3b28a3"/><polygon points="745.39,1052.1 760.88,1046.64 748.98,1039.5 733.49,1044.96" fill="#3b28a4"/><polygon points="943.12,994.06 958.61,988.6 946.71,981.46 931.22,986.92" fill="#3a27a2"/><polygon points="927.64,999.08 943.12,993.63 931.22,986.48 915.74,991.94" fill="#3b28a4"/><polygon points="912.15,1004.88 927.64,999.42 915.74,992.28 900.25,997.74" fill="#3b28a3"/><polygon points="896.66,1010.08 912.15,1004.63 900.25,997.48 884.76,1002.94" fill="#3b28a4"/><polygon points="881.18,1015.71 896.66,1010.26 884.76,1003.11 869.28,1008.57" fill="#3b28a3"/><polygon points="865.69,1021.34 881.18,1015.88 869.28,1008.74 853.79,1014.19" fill="#3a27a2"/><polygon points="850.21,1026.85 865.69,1021.39 853.79,1014.25 838.31,1019.71" fill="#3a27a2"/><polygon points="834.72,1032.1 850.21,1026.64 838.31,1019.5 822.82,1024.95" fill="#3b28a3"/><polygon points="819.24,1037.34 834.72,1031.88 822.82,1024.74 807.34,1030.19" fill="#3b28a4"/><polygon points="803.75,1043.23 819.24,1037.77 819.24,1037.16 803.75,1042.62" fill="#3b28a3"/><polygon points="803.75,1043.23 791.85,1036.09 791.85,1035.48 803.75,1042.62" fill="#3b28a3"/><polygon points="803.75,1042.62 819.24,1037.16 807.34,1030.02 791.85,1035.48" fill="#3b28a5"/><polygon points="788.26,1048.69 803.75,1043.23 791.85,1036.09 776.36,1041.54" fill="#3a27a2"/><polygon points="772.78,1054.1 788.26,1048.65 776.36,1041.5 760.88,1046.96" fill="#3a27a2"/><polygon points="757.29,1059.35 772.78,1053.89 760.88,1046.75 745.39,1052.21" fill="#3b28a3"/></g><g><polygon points="1310.32,908.38 1325.81,902.93 1313.91,895.78 1298.42,901.24" fill="#3a27a2"/><polygon points="1294.84,913.86 1310.32,908.4 1310.32,907.74 1294.84,913.2" fill="#3b29a6"/><polygon points="1294.84,913.86 1282.94,906.71 1282.94,906.06 1294.84,913.2" fill="#3b29a6"/><polygon points="1294.84,913.2 1310.32,907.74 1298.42,900.6 1282.94,906.06" fill="#3c2aa9"/><polygon points="1279.35,919.12 1294.84,913.66 1282.94,906.52 1267.45,911.98" fill="#3b28a4"/><polygon points="1263.86,924.29 1279.35,918.83 1267.45,911.69 1251.96,917.14" fill="#3b29a7"/><polygon points="1248.38,930.23 1263.86,924.77 1263.86,924.08 1248.38,929.54" fill="#3b29a6"/><polygon points="1248.38,930.23 1236.48,923.09 1236.48,922.39 1248.38,929.54" fill="#3b29a6"/><polygon points="1248.38,929.54 1263.86,924.08 1251.96,916.94 1236.48,922.39" fill="#3c2aaa"/><polygon points="1232.89,935.55 1248.38,930.09 1236.48,922.95 1220.99,928.41" fill="#3b28a3"/><polygon points="1217.41,940.69 1232.89,935.23 1220.99,928.09 1205.51,933.55" fill="#3b29a7"/><polygon points="1201.92,946.55 1217.41,941.09 1205.51,933.95 1190.02,939.41" fill="#3a28a2"/><polygon points="1186.44,951.97 1201.92,946.51 1190.02,939.37 1174.54,944.82" fill="#3b28a3"/><polygon points="1170.95,957.29 1186.44,951.83 1174.54,944.69 1159.05,950.15" fill="#3b28a4"/><polygon points="1155.46,962.97 1170.95,957.51 1170.95,956.84 1155.46,962.3" fill="#3b29a6"/><polygon points="1155.46,962.97 1143.56,955.83 1143.56,955.16 1155.46,962.3" fill="#3b29a6"/><polygon points="1155.46,962.3 1170.95,956.84 1159.05,949.7 1143.56,955.16" fill="#3c2aa9"/><polygon points="1139.98,967.91 1155.46,962.45 1143.56,955.31 1128.08,960.77" fill="#3c29a8"/><polygon points="1124.49,973.45 1139.98,968 1128.08,960.85 1112.59,966.31" fill="#3b29a7"/><polygon points="1322.22,915.03 1337.71,909.58 1325.81,902.43 1310.32,907.89" fill="#3b29a8"/><polygon points="1306.74,920.83 1322.22,915.37 1310.32,908.23 1294.84,913.68" fill="#3b28a4"/><polygon points="1291.25,925.92 1306.74,920.46 1294.84,913.32 1279.35,918.78" fill="#3c29a8"/><polygon points="1275.76,931.91 1291.25,926.46 1279.35,919.31 1263.86,924.77" fill="#3a27a2"/><polygon points="1260.28,937.37 1275.76,931.91 1275.76,931.15 1260.28,936.61" fill="#3b29a6"/><polygon points="1260.28,937.37 1248.38,930.23 1248.38,929.46 1260.28,936.61" fill="#3b29a6"/><polygon points="1260.28,936.61 1275.76,931.15 1263.86,924.01 1248.38,929.46" fill="#3c2aab"/><polygon points="1244.79,942.78 1260.28,937.32 1248.38,930.18 1232.89,935.63" fill="#3a28a2"/><polygon points="1229.31,948.28 1244.79,942.82 1232.89,935.68 1217.41,941.14" fill="#3a27a2"/><polygon points="1213.82,953.74 1229.31,948.29 1229.31,947.5 1213.82,952.96" fill="#3b29a6"/><polygon points="1213.82,953.74 1201.92,946.6 1201.92,945.82 1213.82,952.96" fill="#3b29a6"/><polygon points="1213.82,952.96 1229.31,947.5 1217.41,940.36 1201.92,945.82" fill="#3c2aab"/><polygon points="1198.34,959.2 1213.82,953.74 1201.92,946.6 1186.44,952.06" fill="#3a27a2"/><polygon points="1182.85,964.66 1198.34,959.2 1198.34,958.57 1182.85,964.03" fill="#3b28a5"/><polygon points="1182.85,964.66 1170.95,957.51 1170.95,956.89 1182.85,964.03" fill="#3b28a5"/><polygon points="1182.85,964.03 1198.34,958.57 1186.44,951.43 1170.95,956.89" fill="#3c2aa9"/><polygon points="1167.36,970.11 1182.85,964.66 1182.85,963.95 1167.36,969.41" fill="#3b29a6"/><polygon points="1167.36,970.11 1155.46,962.97 1155.46,962.27 1167.36,969.41" fill="#3b29a6"/><polygon points="1167.36,969.41 1182.85,963.95 1170.95,956.81 1155.46,962.27" fill="#3c2aaa"/><polygon points="1151.88,975.56 1167.36,970.11 1155.46,962.96 1139.98,968.42" fill="#3a27a2"/><polygon points="1136.39,980.51 1151.88,975.05 1139.98,967.91 1124.49,973.36" fill="#3c29a8"/><polygon points="1334.12,922.3 1349.61,916.84 1337.71,909.7 1322.22,915.15" fill="#3b29a6"/><polygon points="1318.64,927.8 1334.12,922.35 1322.22,915.2 1306.74,920.66" fill="#3b29a6"/><polygon points="1303.15,933.1 1318.64,927.65 1306.74,920.5 1291.25,925.96" fill="#3b29a7"/><polygon points="1287.66,939.05 1303.15,933.6 1291.25,926.45 1275.76,931.91" fill="#3a27a2"/><polygon points="1272.18,944.16 1287.66,938.7 1275.76,931.56 1260.28,937.02" fill="#3b29a6"/><polygon points="1256.69,949.97 1272.18,944.51 1272.18,943.82 1256.69,949.27" fill="#3b29a6"/><polygon points="1256.69,949.97 1244.79,942.83 1244.79,942.13 1256.69,949.27" fill="#3b29a6"/><polygon points="1256.69,949.27 1272.18,943.82 1260.28,936.67 1244.79,942.13" fill="#3c2aaa"/><polygon points="1241.21,955.29 1256.69,949.84 1244.79,942.69 1229.31,948.15" fill="#3b28a3"/><polygon points="1225.72,960.76 1241.21,955.3 1229.31,948.16 1213.82,953.61" fill="#3b28a3"/><polygon points="1210.24,965.85 1225.72,960.39 1213.82,953.25 1198.34,958.71" fill="#3b29a7"/><polygon points="1194.75,971.79 1210.24,966.34 1198.34,959.19 1182.85,964.65" fill="#3a27a2"/><polygon points="1179.26,977.15 1194.75,971.69 1182.85,964.55 1167.36,970.01" fill="#3b28a3"/><polygon points="1163.78,982.62 1179.26,977.17 1167.36,970.02 1151.88,975.48" fill="#3b28a3"/><polygon points="1148.29,988.11 1163.78,982.65 1151.88,975.51 1136.39,980.97" fill="#3a28a3"/><polygon points="1346.02,929.66 1361.51,924.21 1349.61,917.06 1334.12,922.52" fill="#3b28a4"/><polygon points="1330.54,935.28 1346.02,929.82 1334.12,922.68 1318.64,928.13" fill="#3a27a2"/><polygon points="1315.05,940.6 1330.54,935.14 1318.64,928 1303.15,933.46" fill="#3b28a3"/><polygon points="1299.56,946.2 1315.05,940.74 1315.05,940.09 1299.56,945.54" fill="#3b29a6"/><polygon points="1299.56,946.2 1287.66,939.06 1287.66,938.4 1299.56,945.54" fill="#3b29a6"/><polygon points="1299.56,945.54 1315.05,940.09 1303.15,932.94 1287.66,938.4" fill="#3c2aa9"/><polygon points="1284.08,951.32 1299.56,945.86 1287.66,938.72 1272.18,944.17" fill="#3b29a6"/><polygon points="1268.59,957.11 1284.08,951.66 1284.08,951 1268.59,956.45" fill="#3b29a6"/><polygon points="1268.59,957.11 1256.69,949.97 1256.69,949.31 1268.59,956.45" fill="#3b29a6"/><polygon points="1268.59,956.45 1284.08,951 1272.18,943.85 1256.69,949.31" fill="#3c2aa9"/><polygon points="1253.11,962.57 1268.59,957.11 1268.59,955.5 1253.11,960.96" fill="#3c2aab"/><polygon points="1253.11,962.57 1241.21,955.43 1241.21,953.81 1253.11,960.96" fill="#3c2aab"/><polygon points="1253.11,960.96 1268.59,955.5 1256.69,948.36 1241.21,953.81" fill="#3e2db4"/><polygon points="1237.62,968.03 1253.11,962.57 1253.11,960.76 1237.62,966.22" fill="#3c2bac"/><polygon points="1237.62,968.03 1225.72,960.89 1225.72,959.08 1237.62,966.22" fill="#3c2bac"/><polygon points="1237.62,966.22 1253.11,960.76 1241.21,953.62 1225.72,959.08" fill="#3e2eb6"/><polygon points="1222.14,973.49 1237.62,968.03 1237.62,965.32 1222.14,970.78" fill="url(#g6r5_10)"/><polygon points="1222.14,973.49 1210.24,966.34 1210.24,963.64 1222.14,970.78" fill="url(#g6l5_10)"/><polygon points="1222.14,970.78 1237.62,965.32 1225.72,958.18 1210.24,963.64" fill="#4032bf"/><polygon points="1206.65,978.94 1222.14,973.49 1222.14,972.36 1206.65,977.82" fill="#3c29a8"/><polygon points="1206.65,978.94 1194.75,971.8 1194.75,970.67 1206.65,977.82" fill="#3c29a8"/><polygon points="1206.65,977.82 1222.14,972.36 1210.24,965.22 1194.75,970.67" fill="#3d2baf"/><polygon points="1191.16,984.05 1206.65,978.59 1194.75,971.45 1179.26,976.91" fill="#3b29a6"/><polygon points="1175.68,989.28 1191.16,983.82 1179.26,976.68 1163.78,982.14" fill="#3c29a8"/><polygon points="1160.19,994.83 1175.68,989.38 1163.78,982.23 1148.29,987.69" fill="#3b29a7"/><polygon points="1357.92,936.97 1373.41,931.51 1373.41,930.87 1357.92,936.32" fill="#3b29a6"/><polygon points="1357.92,936.97 1346.02,929.83 1346.02,929.18 1357.92,936.32" fill="#3b29a6"/><polygon points="1357.92,936.32 1373.41,930.87 1361.51,923.72 1346.02,929.18" fill="#3c2aa9"/><polygon points="1342.44,942.42 1357.92,936.96 1346.02,929.82 1330.54,935.28" fill="#3a27a2"/><polygon points="1326.95,947.58 1342.44,942.12 1330.54,934.98 1315.05,940.44" fill="#3b28a5"/><polygon points="1311.46,953.34 1326.95,947.89 1315.05,940.74 1299.56,946.2" fill="#3a27a2"/><polygon points="1295.98,958.8 1311.46,953.34 1311.46,951.24 1295.98,956.7" fill="#3d2bae"/><polygon points="1295.98,958.8 1284.08,951.66 1284.08,949.56 1295.98,956.7" fill="#3d2bae"/><polygon points="1295.98,956.7 1311.46,951.24 1299.56,944.1 1284.08,949.56" fill="#3f2fb9"/><polygon points="1280.49,964.04 1295.98,958.59 1284.08,951.44 1268.59,956.9" fill="#3b28a4"/><polygon points="1265.01,969.71 1280.49,964.26 1280.49,954.25 1265.01,959.71" fill="url(#g6r7_9)"/><polygon points="1265.01,969.71 1253.11,962.57 1253.11,952.56 1265.01,959.71" fill="url(#g6l7_9)"/><polygon points="1265.01,959.71 1280.49,954.25 1268.59,947.11 1253.11,952.56" fill="#4a56ee"/><polygon points="1249.52,975.17 1265.01,969.71 1265.01,967.55 1249.52,973.01" fill="#3d2bae"/><polygon points="1249.52,975.17 1237.62,968.03 1237.62,965.86 1249.52,973.01" fill="#3d2bae"/><polygon points="1249.52,973.01 1265.01,967.55 1253.11,960.41 1237.62,965.86" fill="#3f30b9"/><polygon points="1234.04,980.63 1249.52,975.17 1249.52,973.59 1234.04,979.05" fill="#3c2aab"/><polygon points="1234.04,980.63 1222.14,973.49 1222.14,971.9 1234.04,979.05" fill="#3c2aab"/><polygon points="1234.04,979.05 1249.52,973.59 1237.62,966.45 1222.14,971.9" fill="#3e2db3"/><polygon points="1218.55,985.79 1234.04,980.33 1222.14,973.19 1206.65,978.64" fill="#3b28a5"/><polygon points="1203.06,991.51 1218.55,986.05 1206.65,978.91 1191.16,984.37" fill="#3a27a2"/><polygon points="1187.58,996.62 1203.06,991.16 1191.16,984.02 1175.68,989.48" fill="#3b29a6"/><polygon points="1172.09,1002.34 1187.58,996.89 1175.68,989.74 1160.19,995.2" fill="#3b28a3"/><polygon points="1369.82,944.11 1385.31,938.66 1385.31,937.99 1369.82,943.45" fill="#3b29a6"/><polygon points="1369.82,944.11 1357.92,936.97 1357.92,936.3 1369.82,943.45" fill="#3b29a6"/><polygon points="1369.82,943.45 1385.31,937.99 1373.41,930.85 1357.92,936.3" fill="#3c2aa9"/><polygon points="1354.34,949.25 1369.82,943.79 1357.92,936.65 1342.44,942.11" fill="#3b29a5"/><polygon points="1338.85,955.03 1354.34,949.57 1354.34,948.84 1338.85,954.3" fill="#3b29a6"/><polygon points="1338.85,955.03 1326.95,947.89 1326.95,947.16 1338.85,954.3" fill="#3b29a6"/><polygon points="1338.85,954.3 1354.34,948.84 1342.44,941.7 1326.95,947.16" fill="#3c2aaa"/><polygon points="1323.36,960.21 1338.85,954.75 1326.95,947.61 1311.46,953.07" fill="#3b28a5"/><polygon points="1307.88,965.64 1323.36,960.18 1311.46,953.04 1295.98,958.5" fill="#3b28a5"/><polygon points="1292.39,971.4 1307.88,965.94 1307.88,957.83 1292.39,963.29" fill="url(#g6r8_8)"/><polygon points="1292.39,971.4 1280.49,964.26 1280.49,956.14 1292.39,963.29" fill="url(#g6l8_8)"/><polygon points="1292.39,963.29 1307.88,957.83 1295.98,950.69 1280.49,956.14" fill="#494ce7"/><polygon points="1276.91,976.86 1292.39,971.4 1292.39,928.12 1276.91,933.58" fill="url(#g6r7_8)"/><polygon points="1276.91,976.86 1265.01,969.71 1265.01,926.43 1276.91,933.58" fill="url(#g6l7_8)"/><polygon points="1276.91,933.58 1292.39,928.12 1280.49,920.98 1265.01,926.43" fill="#95ca65"/><polygon points="1261.42,982.31 1276.91,976.86 1276.91,973.61 1261.42,979.07" fill="url(#g6r6_8)"/><polygon points="1261.42,982.31 1249.52,975.17 1249.52,971.93 1261.42,979.07" fill="url(#g6l6_8)"/><polygon points="1261.42,979.07 1276.91,973.61 1265.01,966.47 1249.52,971.93" fill="#4134c5"/><polygon points="1245.94,987.77 1261.42,982.31 1261.42,979.07 1245.94,984.53" fill="url(#g6r5_8)"/><polygon points="1245.94,987.77 1234.04,980.63 1234.04,977.38 1245.94,984.53" fill="url(#g6l5_8)"/><polygon points="1245.94,984.53 1261.42,979.07 1249.52,971.93 1234.04,977.38" fill="#4134c5"/><polygon points="1230.45,993.23 1245.94,987.77 1245.94,986.6 1230.45,992.05" fill="#3c29a9"/><polygon points="1230.45,993.23 1218.55,986.09 1218.55,984.91 1230.45,992.05" fill="#3c29a9"/><polygon points="1230.45,992.05 1245.94,986.6 1234.04,979.45 1218.55,984.91" fill="#3d2caf"/><polygon points="1214.96,998.4 1230.45,992.95 1218.55,985.8 1203.06,991.26" fill="#3b28a5"/><polygon points="1199.48,1003.62 1214.96,998.16 1203.06,991.02 1187.58,996.48" fill="#3c29a8"/><polygon points="1183.99,1009.13 1199.48,1003.67 1187.58,996.53 1172.09,1001.99" fill="#3b29a7"/><polygon points="1381.72,951.26 1397.21,945.8 1397.21,945.13 1381.72,950.58" fill="#3b29a6"/><polygon points="1381.72,951.26 1369.82,944.11 1369.82,943.44 1381.72,950.58" fill="#3b29a6"/><polygon points="1381.72,950.58 1397.21,945.13 1385.31,937.98 1369.82,943.44" fill="#3c2aaa"/><polygon points="1366.24,956.7 1381.72,951.24 1369.82,944.1 1354.34,949.55" fill="#3a27a2"/><polygon points="1350.75,962.14 1366.24,956.68 1354.34,949.54 1338.85,955" fill="#3a27a2"/><polygon points="1335.26,967.63 1350.75,962.17 1350.75,959.32 1335.26,964.78" fill="url(#g6r10_7)"/><polygon points="1335.26,967.63 1323.36,960.49 1323.36,957.64 1335.26,964.78" fill="url(#g6l10_7)"/><polygon points="1335.26,964.78 1350.75,959.32 1338.85,952.18 1323.36,957.64" fill="#4032c1"/><polygon points="1319.78,973.09 1335.26,967.63 1335.26,964.92 1319.78,970.38" fill="url(#g6r9_7)"/><polygon points="1319.78,973.09 1307.88,965.94 1307.88,963.24 1319.78,970.38" fill="url(#g6l9_7)"/><polygon points="1319.78,970.38 1335.26,964.92 1323.36,957.78 1307.88,963.24" fill="#4032bf"/><polygon points="1304.29,978.54 1319.78,973.09 1319.78,957.13 1304.29,962.58" fill="url(#g6r8_7)"/><polygon points="1304.29,978.54 1292.39,971.4 1292.39,955.44 1304.29,962.58" fill="url(#g6l8_7)"/><polygon points="1304.29,962.58 1319.78,957.13 1307.88,949.98 1292.39,955.44" fill="#4778f5"/><polygon points="1288.81,984 1304.29,978.54 1304.29,914.16 1288.81,919.62" fill="url(#g6r7_7)"/><polygon points="1288.81,984 1276.91,976.86 1276.91,912.48 1288.81,919.62" fill="url(#g6l7_7)"/><polygon points="1288.81,919.62 1304.29,914.16 1292.39,907.02 1276.91,912.48" fill="#f9fb56"/><polygon points="1273.32,989.46 1288.81,984 1288.81,957.9 1273.32,963.35" fill="url(#g6r6_7)"/><polygon points="1273.32,989.46 1261.42,982.31 1261.42,956.21 1273.32,963.35" fill="url(#g6l6_7)"/><polygon points="1273.32,963.35 1288.81,957.9 1276.91,950.75 1261.42,956.21" fill="#51a9d8"/><polygon points="1257.84,994.77 1273.32,989.31 1261.42,982.17 1245.94,987.63" fill="#3b28a3"/><polygon points="1242.35,999.95 1257.84,994.49 1245.94,987.35 1230.45,992.8" fill="#3b29a7"/><polygon points="1226.86,1005.83 1242.35,1000.37 1242.35,999.64 1226.86,1005.09" fill="#3b29a6"/><polygon points="1226.86,1005.83 1214.96,998.69 1214.96,997.95 1226.86,1005.09" fill="#3b29a6"/><polygon points="1226.86,1005.09 1242.35,999.64 1230.45,992.49 1214.96,997.95" fill="#3c2aaa"/><polygon points="1211.38,1011.23 1226.86,1005.77 1214.96,998.63 1199.48,1004.09" fill="#3a28a2"/><polygon points="1195.89,1016.56 1211.38,1011.11 1199.48,1003.96 1183.99,1009.42" fill="#3b28a4"/><polygon points="1393.62,958.09 1409.11,952.63 1397.21,945.49 1381.72,950.95" fill="#3b28a5"/><polygon points="1378.14,963.56 1393.62,958.1 1381.72,950.96 1366.24,956.42" fill="#3b28a5"/><polygon points="1362.65,969.31 1378.14,963.85 1366.24,956.71 1350.75,962.17" fill="#3a27a2"/><polygon points="1347.16,974.77 1362.65,969.31 1362.65,967.27 1347.16,972.73" fill="#3d2bad"/><polygon points="1347.16,974.77 1335.26,967.63 1335.26,965.59 1347.16,972.73" fill="#3d2bad"/><polygon points="1347.16,972.73 1362.65,967.27 1350.75,960.13 1335.26,965.59" fill="#3f2fb8"/><polygon points="1331.68,980.16 1347.16,974.71 1335.26,967.56 1319.78,973.02" fill="#3b28a3"/><polygon points="1316.19,985.69 1331.68,980.23 1331.68,973.74 1316.19,979.19" fill="url(#g6r8_6)"/><polygon points="1316.19,985.69 1304.29,978.54 1304.29,972.05 1316.19,979.19" fill="url(#g6l8_6)"/><polygon points="1316.19,979.19 1331.68,973.74 1319.78,966.59 1304.29,972.05" fill="#4643df"/><polygon points="1300.71,991.14 1316.19,985.69 1316.19,930.88 1300.71,936.34" fill="url(#g6r7_6)"/><polygon points="1300.71,991.14 1288.81,984 1288.81,929.2 1300.71,936.34" fill="url(#g6l7_6)"/><polygon points="1300.71,936.34 1316.19,930.88 1304.29,923.74 1288.81,929.2" fill="#f5c456"/><polygon points="1285.22,996.6 1300.71,991.14 1300.71,988.44 1285.22,993.89" fill="url(#g6r6_6)"/><polygon points="1285.22,996.6 1273.32,989.46 1273.32,986.75 1285.22,993.89" fill="url(#g6l6_6)"/><polygon points="1285.22,993.89 1300.71,988.44 1288.81,981.29 1273.32,986.75" fill="#4032bf"/><polygon points="1269.74,1002 1285.22,996.54 1273.32,989.4 1257.84,994.85" fill="#3a28a3"/><polygon points="1254.25,1007.51 1269.74,1002.06 1269.74,998.81 1254.25,1004.27" fill="url(#g6r4_6)"/><polygon points="1254.25,1007.51 1242.35,1000.37 1242.35,997.13 1254.25,1004.27" fill="url(#g6l4_6)"/><polygon points="1254.25,1004.27 1269.74,998.81 1257.84,991.67 1242.35,997.13" fill="#4134c5"/><polygon points="1238.76,1012.9 1254.25,1007.45 1242.35,1000.3 1226.86,1005.76" fill="#3b28a3"/><polygon points="1223.28,1017.9 1238.76,1012.45 1226.86,1005.3 1211.38,1010.76" fill="#3c29a8"/><polygon points="1207.79,1023.53 1223.28,1018.07 1211.38,1010.93 1195.89,1016.39" fill="#3b29a6"/><polygon points="1405.52,965.54 1421.01,960.08 1409.11,952.94 1393.62,958.39" fill="#3a27a2"/><polygon points="1390.04,970.68 1405.52,965.23 1393.62,958.08 1378.14,963.54" fill="#3b28a5"/><polygon points="1374.55,975.87 1390.04,970.41 1378.14,963.27 1362.65,968.72" fill="#3c29a9"/><polygon points="1359.06,981.91 1374.55,976.46 1374.55,975.68 1359.06,981.14" fill="#3b29a6"/><polygon points="1359.06,981.91 1347.16,974.77 1347.16,974 1359.06,981.14" fill="#3b29a6"/><polygon points="1359.06,981.14 1374.55,975.68 1362.65,968.54 1347.16,974" fill="#3c2aab"/><polygon points="1343.58,987.37 1359.06,981.91 1359.06,981.17 1343.58,986.63" fill="#3b29a6"/><polygon points="1343.58,987.37 1331.68,980.23 1331.68,979.49 1343.58,986.63" fill="#3b29a6"/><polygon points="1343.58,986.63 1359.06,981.17 1347.16,974.03 1331.68,979.49" fill="#3c2aaa"/><polygon points="1328.09,992.83 1343.58,987.37 1331.68,980.23 1316.19,985.68" fill="#3a27a2"/><polygon points="1312.61,998.29 1328.09,992.83 1328.09,982.55 1312.61,988.01" fill="url(#g6r7_5)"/><polygon points="1312.61,998.29 1300.71,991.14 1300.71,980.86 1312.61,988.01" fill="url(#g6l7_5)"/><polygon points="1312.61,988.01 1328.09,982.55 1316.19,975.41 1300.71,980.86" fill="#4b58ef"/><polygon points="1297.12,1003.25 1312.61,997.79 1300.71,990.65 1285.22,996.11" fill="#3b29a7"/><polygon points="1281.64,1009.2 1297.12,1003.74 1297.12,1002.98 1281.64,1008.44" fill="#3b29a6"/><polygon points="1281.64,1009.2 1269.74,1002.06 1269.74,1001.3 1281.64,1008.44" fill="#3b29a6"/><polygon points="1281.64,1008.44 1297.12,1002.98 1285.22,995.84 1269.74,1001.3" fill="#3c2aaa"/><polygon points="1266.15,1014.66 1281.64,1009.2 1281.64,1006.11 1266.15,1011.56" fill="url(#g6r4_5)"/><polygon points="1266.15,1014.66 1254.25,1007.51 1254.25,1004.42 1266.15,1011.56" fill="url(#g6l4_5)"/><polygon points="1266.15,1011.56 1281.64,1006.11 1269.74,998.96 1254.25,1004.42" fill="#4133c3"/><polygon points="1250.66,1019.79 1266.15,1014.33 1254.25,1007.19 1238.76,1012.64" fill="#3b29a6"/><polygon points="1235.18,1025.32 1250.66,1019.87 1238.76,1012.72 1223.28,1018.18" fill="#3b28a5"/><polygon points="1219.69,1031.03 1235.18,1025.57 1223.28,1018.43 1207.79,1023.89" fill="#3a27a2"/><polygon points="1417.42,972.12 1432.91,966.67 1421.01,959.52 1405.52,964.98" fill="#3c29a8"/><polygon points="1401.94,978.13 1417.42,972.67 1405.52,965.53 1390.04,970.98" fill="#3a27a2"/><polygon points="1386.45,983.6 1401.94,978.14 1401.94,977.43 1386.45,982.89" fill="#3b29a6"/><polygon points="1386.45,983.6 1374.55,976.46 1374.55,975.74 1386.45,982.89" fill="#3b29a6"/><polygon points="1386.45,982.89 1401.94,977.43 1390.04,970.29 1374.55,975.74" fill="#3c2aaa"/><polygon points="1370.96,988.54 1386.45,983.09 1374.55,975.94 1359.06,981.4" fill="#3b29a8"/><polygon points="1355.48,994.51 1370.96,989.06 1370.96,988.33 1355.48,993.78" fill="#3b29a6"/><polygon points="1355.48,994.51 1343.58,987.37 1343.58,986.64 1355.48,993.78" fill="#3b29a6"/><polygon points="1355.48,993.78 1370.96,988.33 1359.06,981.18 1343.58,986.64" fill="#3c2aaa"/><polygon points="1339.99,999.88 1355.48,994.42 1343.58,987.28 1328.09,992.73" fill="#3b28a3"/><polygon points="1324.51,1005.43 1339.99,999.97 1339.99,997.81 1324.51,1003.26" fill="#3d2bae"/><polygon points="1324.51,1005.43 1312.61,998.29 1312.61,996.12 1324.51,1003.26" fill="#3d2bae"/><polygon points="1324.51,1003.26 1339.99,997.81 1328.09,990.66 1312.61,996.12" fill="#3f30b9"/><polygon points="1309.02,1010.42 1324.51,1004.97 1312.61,997.82 1297.12,1003.28" fill="#3b29a7"/><polygon points="1293.54,1016.22 1309.02,1010.76 1297.12,1003.62 1281.64,1009.08" fill="#3b28a3"/><polygon points="1278.05,1021.8 1293.54,1016.34 1293.54,1014.24 1278.05,1019.69" fill="#3d2bae"/><polygon points="1278.05,1021.8 1266.15,1014.66 1266.15,1012.55 1278.05,1019.69" fill="#3d2bae"/><polygon points="1278.05,1019.69 1293.54,1014.24 1281.64,1007.09 1266.15,1012.55" fill="#3f2fb9"/><polygon points="1262.56,1027.23 1278.05,1021.77 1266.15,1014.63 1250.66,1020.08" fill="#3a27a2"/><polygon points="1247.08,1032.68 1262.56,1027.23 1250.66,1020.08 1235.18,1025.54" fill="#3a27a2"/><polygon points="1231.59,1038.12 1247.08,1032.66 1235.18,1025.52 1219.69,1030.97" fill="#3a28a2"/><polygon points="1429.32,979.82 1444.81,974.36 1432.91,967.22 1417.42,972.67" fill="#3a27a2"/><polygon points="1413.84,985.18 1429.32,979.72 1417.42,972.58 1401.94,978.04" fill="#3b28a3"/><polygon points="1398.35,990.64 1413.84,985.18 1401.94,978.04 1386.45,983.49" fill="#3b28a3"/><polygon points="1382.86,996.12 1398.35,990.66 1386.45,983.52 1370.96,988.97" fill="#3b28a3"/><polygon points="1367.38,1001.6 1382.86,996.14 1370.96,989 1355.48,994.46" fill="#3a28a3"/><polygon points="1351.89,1006.62 1367.38,1001.16 1355.48,994.02 1339.99,999.47" fill="#3b29a8"/><polygon points="1336.41,1012.21 1351.89,1006.75 1339.99,999.61 1324.51,1005.06" fill="#3b29a6"/><polygon points="1320.92,1017.95 1336.41,1012.5 1324.51,1005.35 1309.02,1010.81" fill="#3b28a3"/><polygon points="1305.44,1023.41 1320.92,1017.95 1309.02,1010.81 1293.54,1016.26" fill="#3b28a3"/><polygon points="1289.95,1028.55 1305.44,1023.09 1293.54,1015.95 1278.05,1021.4" fill="#3b29a6"/><polygon points="1274.46,1034.39 1289.95,1028.94 1278.05,1021.79 1262.56,1027.25" fill="#3a27a2"/><polygon points="1258.98,1039.48 1274.46,1034.02 1262.56,1026.88 1247.08,1032.34" fill="#3b29a6"/><polygon points="1243.49,1045.12 1258.98,1039.67 1247.08,1032.52 1231.59,1037.98" fill="#3b28a4"/><polygon points="1441.22,986.57 1456.71,981.12 1444.81,973.97 1429.32,979.43" fill="#3b29a6"/><polygon points="1425.74,992.42 1441.22,986.96 1429.32,979.82 1413.84,985.28" fill="#3a27a2"/><polygon points="1410.25,997.47 1425.74,992.01 1413.84,984.87 1398.35,990.32" fill="#3b29a7"/><polygon points="1394.76,1003.05 1410.25,997.59 1398.35,990.45 1382.86,995.9" fill="#3b28a5"/><polygon points="1379.28,1008.5 1394.76,1003.04 1382.86,995.9 1367.38,1001.35" fill="#3b28a5"/><polygon points="1363.79,1014.06 1379.28,1008.61 1367.38,1001.46 1351.89,1006.92" fill="#3b28a4"/><polygon points="1348.31,1019.71 1363.79,1014.26 1363.79,1013.61 1348.31,1019.07" fill="#3b29a6"/><polygon points="1348.31,1019.71 1336.41,1012.57 1336.41,1011.93 1348.31,1019.07" fill="#3b29a6"/><polygon points="1348.31,1019.07 1363.79,1013.61 1351.89,1006.47 1336.41,1011.93" fill="#3c2aa9"/><polygon points="1332.82,1024.86 1348.31,1019.4 1336.41,1012.26 1320.92,1017.72" fill="#3b28a5"/><polygon points="1317.34,1030.27 1332.82,1024.81 1320.92,1017.67 1305.44,1023.13" fill="#3b29a6"/><polygon points="1301.85,1035.75 1317.34,1030.29 1305.44,1023.15 1289.95,1028.61" fill="#3b29a6"/><polygon points="1286.36,1041.38 1301.85,1035.92 1289.95,1028.78 1274.46,1034.24" fill="#3b28a4"/><polygon points="1270.88,1046.76 1286.36,1041.31 1274.46,1034.16 1258.98,1039.62" fill="#3b28a5"/><polygon points="1255.39,1051.91 1270.88,1046.45 1258.98,1039.31 1243.49,1044.77" fill="#3c29a8"/><polygon points="1453.12,993.79 1468.61,988.34 1456.71,981.19 1441.22,986.65" fill="#3b29a5"/><polygon points="1437.64,999.39 1453.12,993.94 1441.22,986.79 1425.74,992.25" fill="#3b28a4"/><polygon points="1422.15,1005.02 1437.64,999.56 1425.74,992.42 1410.25,997.88" fill="#3a27a2"/><polygon points="1406.66,1010.37 1422.15,1004.91 1410.25,997.77 1394.76,1003.23" fill="#3b28a3"/><polygon points="1391.18,1015.94 1406.66,1010.49 1406.66,1009.86 1391.18,1015.32" fill="#3b28a5"/><polygon points="1391.18,1015.94 1379.28,1008.8 1379.28,1008.17 1391.18,1015.32" fill="#3b28a5"/><polygon points="1391.18,1015.32 1406.66,1009.86 1394.76,1002.72 1379.28,1008.17" fill="#3c2aa9"/><polygon points="1375.69,1021.34 1391.18,1015.89 1379.28,1008.74 1363.79,1014.2" fill="#3a28a2"/><polygon points="1360.21,1026.86 1375.69,1021.4 1375.69,1020.62 1360.21,1026.08" fill="#3b29a6"/><polygon points="1360.21,1026.86 1348.31,1019.71 1348.31,1018.94 1360.21,1026.08" fill="#3b29a6"/><polygon points="1360.21,1026.08 1375.69,1020.62 1363.79,1013.48 1348.31,1018.94" fill="#3c2aab"/><polygon points="1344.72,1032.31 1360.21,1026.86 1360.21,1026.19 1344.72,1031.65" fill="#3b29a6"/><polygon points="1344.72,1032.31 1332.82,1025.17 1332.82,1024.51 1344.72,1031.65" fill="#3b29a6"/><polygon points="1344.72,1031.65 1360.21,1026.19 1348.31,1019.05 1332.82,1024.51" fill="#3c2aa9"/><polygon points="1329.24,1037.76 1344.72,1032.3 1332.82,1025.16 1317.34,1030.62" fill="#3a27a2"/><polygon points="1313.75,1043.01 1329.24,1037.56 1317.34,1030.41 1301.85,1035.87" fill="#3b28a4"/><polygon points="1298.26,1048.16 1313.75,1042.7 1301.85,1035.56 1286.36,1041.02" fill="#3c29a8"/><polygon points="1282.78,1054 1298.26,1048.55 1286.36,1041.4 1270.88,1046.86" fill="#3b28a3"/><polygon points="1267.29,1059.09 1282.78,1053.63 1270.88,1046.49 1255.39,1051.95" fill="#3b29a8"/></g></g>
<g><path d="M77.5 240.1L77.5 456.5" stroke="#262626" stroke-width="1" fill="none"/><path d="M77.5 456.5L244.1 556.5L460.9 480.1" stroke="#262626" stroke-width="0.8" fill="none" stroke-linejoin="miter"/><path d="M257.2 551.88L261.97 554.74M234.03 550.46L228.79 552.31M304.85 535.09L309.62 537.95M197.42 528.48L192.17 530.33M352.5 518.3L357.27 521.16M160.8 506.5L155.56 508.35M400.15 501.51L404.92 504.37M124.18 484.52L118.94 486.37M447.8 484.72L452.57 487.58M87.57 462.54L82.32 464.39M77.5 456.5L72.73 453.64M77.5 402.4L72.73 399.54M77.5 348.3L72.73 345.44M77.5 294.2L72.73 291.34M77.5 240.1L72.73 237.24" stroke="#262626" stroke-width="0.8" fill="none"/><path d="M588.5 240.1L588.5 456.5" stroke="#262626" stroke-width="1" fill="none"/><path d="M588.5 456.5L755.1 556.5L971.9 480.1" stroke="#262626" stroke-width="0.8" fill="none" stroke-linejoin="miter"/><path d="M768.2 551.88L772.97 554.74M745.03 550.46L739.79 552.31M815.85 535.09L820.62 537.95M708.42 528.48L703.17 530.33M863.5 518.3L868.27 521.16M671.8 506.5L666.56 508.35M911.15 501.51L915.92 504.37M635.18 484.52L629.94 486.37M958.8 484.72L963.57 487.58M598.57 462.54L593.32 464.39M588.5 456.5L583.73 453.64M588.5 402.4L583.73 399.54M588.5 348.3L583.73 345.44M588.5 294.2L583.73 291.34M588.5 240.1L583.73 237.24" stroke="#262626" stroke-width="0.8" fill="none"/><path d="M1100.5 240.1L1100.5 456.5" stroke="#262626" stroke-width="1" fill="none"/><path d="M1100.5 456.5L1267.1 556.5L1483.9 480.1" stroke="#262626" stroke-width="0.8" fill="none" stroke-linejoin="miter"/><path d="M1280.2 551.88L1284.97 554.74M1257.03 550.46L1251.79 552.31M1327.85 535.09L1332.62 537.95M1220.42 528.48L1215.17 530.33M1375.5 518.3L1380.27 521.16M1183.8 506.5L1178.56 508.35M1423.15 501.51L1427.92 504.37M1147.18 484.52L1141.94 486.37M1470.8 484.72L1475.57 487.58M1110.57 462.54L1105.32 464.39M1100.5 456.5L1095.73 453.64M1100.5 402.4L1095.73 399.54M1100.5 348.3L1095.73 345.44M1100.5 294.2L1095.73 291.34M1100.5 240.1L1095.73 237.24" stroke="#262626" stroke-width="0.8" fill="none"/><path d="M77.5 749.1L77.5 965.5" stroke="#262626" stroke-width="1" fill="none"/><path d="M77.5 965.5L244.1 1065.5L460.9 989.1" stroke="#262626" stroke-width="0.8" fill="none" stroke-linejoin="miter"/><path d="M257.2 1060.88L261.97 1063.74M234.03 1059.46L228.79 1061.31M304.85 1044.09L309.62 1046.95M197.42 1037.48L192.17 1039.33M352.5 1027.3L357.27 1030.16M160.8 1015.5L155.56 1017.35M400.15 1010.51L404.92 1013.37M124.18 993.52L118.94 995.37M447.8 993.72L452.57 996.58M87.57 971.54L82.32 973.39M77.5 965.5L72.73 962.64M77.5 911.4L72.73 908.54M77.5 857.3L72.73 854.44M77.5 803.2L72.73 800.34M77.5 749.1L72.73 746.24" stroke="#262626" stroke-width="0.8" fill="none"/><path d="M588.5 749.1L588.5 965.5" stroke="#262626" stroke-width="1" fill="none"/><path d="M588.5 965.5L755.1 1065.5L971.9 989.1" stroke="#262626" stroke-width="0.8" fill="none" stroke-linejoin="miter"/><path d="M768.2 1060.88L772.97 1063.74M745.03 1059.46L739.79 1061.31M815.85 1044.09L820.62 1046.95M708.42 1037.48L703.17 1039.33M863.5 1027.3L868.27 1030.16M671.8 1015.5L666.56 1017.35M911.15 1010.51L915.92 1013.37M635.18 993.52L629.94 995.37M958.8 993.72L963.57 996.58M598.57 971.54L593.32 973.39M588.5 965.5L583.73 962.64M588.5 911.4L583.73 908.54M588.5 857.3L583.73 854.44M588.5 803.2L583.73 800.34M588.5 749.1L583.73 746.24" stroke="#262626" stroke-width="0.8" fill="none"/><path d="M1098.5 749.1L1098.5 965.5" stroke="#262626" stroke-width="1" fill="none"/><path d="M1098.5 965.5L1265.1 1065.5L1481.9 989.1" stroke="#262626" stroke-width="0.8" fill="none" stroke-linejoin="miter"/><path d="M1278.2 1060.88L1282.97 1063.74M1255.03 1059.46L1249.79 1061.31M1325.85 1044.09L1330.62 1046.95M1218.42 1037.48L1213.17 1039.33M1373.5 1027.3L1378.27 1030.16M1181.8 1015.5L1176.56 1017.35M1421.15 1010.51L1425.92 1013.37M1145.18 993.52L1139.94 995.37M1468.8 993.72L1473.57 996.58M1108.57 971.54L1103.32 973.39M1098.5 965.5L1093.73 962.64M1098.5 911.4L1093.73 908.54M1098.5 857.3L1093.73 854.44M1098.5 803.2L1093.73 800.34M1098.5 749.1L1093.73 746.24" stroke="#262626" stroke-width="0.8" fill="none"/></g>
<g font-family="'Liberation Sans', Arial, Helvetica, sans-serif" font-size="17.2px" fill="#262626" stroke="#262626" stroke-width="0.25"><text x="266.6" y="574.88">-40</text><text x="223.43" y="572.06" text-anchor="end">-40</text><text x="314.25" y="558.09">-20</text><text x="186.82" y="550.08" text-anchor="end">-20</text><text x="361.9" y="541.3">0</text><text x="150.2" y="528.1" text-anchor="end">0</text><text x="409.55" y="524.51">20</text><text x="113.58" y="506.12" text-anchor="end">20</text><text x="457.2" y="507.72">40</text><text x="76.97" y="484.14" text-anchor="end">40</text><text x="67.9" y="457.4" text-anchor="end">0</text><text x="67.9" y="403.3" text-anchor="end">0.2</text><text x="67.9" y="349.2" text-anchor="end">0.4</text><text x="67.9" y="295.1" text-anchor="end">0.6</text><text x="67.9" y="241" text-anchor="end">0.8</text><text x="777.6" y="574.88">-40</text><text x="734.43" y="572.06" text-anchor="end">-40</text><text x="825.25" y="558.09">-20</text><text x="697.82" y="550.08" text-anchor="end">-20</text><text x="872.9" y="541.3">0</text><text x="661.2" y="528.1" text-anchor="end">0</text><text x="920.55" y="524.51">20</text><text x="624.58" y="506.12" text-anchor="end">20</text><text x="968.2" y="507.72">40</text><text x="587.97" y="484.14" text-anchor="end">40</text><text x="578.9" y="457.4" text-anchor="end">0</text><text x="578.9" y="403.3" text-anchor="end">0.2</text><text x="578.9" y="349.2" text-anchor="end">0.4</text><text x="578.9" y="295.1" text-anchor="end">0.6</text><text x="578.9" y="241" text-anchor="end">0.8</text><text x="1289.6" y="574.88">-40</text><text x="1246.43" y="572.06" text-anchor="end">-40</text><text x="1337.25" y="558.09">-20</text><text x="1209.82" y="550.08" text-anchor="end">-20</text><text x="1384.9" y="541.3">0</text><text x="1173.2" y="528.1" text-anchor="end">0</text><text x="1432.55" y="524.51">20</text><text x="1136.58" y="506.12" text-anchor="end">20</text><text x="1480.2" y="507.72">40</text><text x="1099.97" y="484.14" text-anchor="end">40</text><text x="1090.9" y="457.4" text-anchor="end">0</text><text x="1090.9" y="403.3" text-anchor="end">0.2</text><text x="1090.9" y="349.2" text-anchor="end">0.4</text><text x="1090.9" y="295.1" text-anchor="end">0.6</text><text x="1090.9" y="241" text-anchor="end">0.8</text><text x="266.6" y="1083.88">-40</text><text x="223.43" y="1081.06" text-anchor="end">-40</text><text x="314.25" y="1067.09">-20</text><text x="186.82" y="1059.08" text-anchor="end">-20</text><text x="361.9" y="1050.3">0</text><text x="150.2" y="1037.1" text-anchor="end">0</text><text x="409.55" y="1033.51">20</text><text x="113.58" y="1015.12" text-anchor="end">20</text><text x="457.2" y="1016.72">40</text><text x="76.97" y="993.14" text-anchor="end">40</text><text x="67.9" y="966.4" text-anchor="end">0</text><text x="67.9" y="912.3" text-anchor="end">0.2</text><text x="67.9" y="858.2" text-anchor="end">0.4</text><text x="67.9" y="804.1" text-anchor="end">0.6</text><text x="67.9" y="750" text-anchor="end">0.8</text><text x="777.6" y="1083.88">-40</text><text x="734.43" y="1081.06" text-anchor="end">-40</text><text x="825.25" y="1067.09">-20</text><text x="697.82" y="1059.08" text-anchor="end">-20</text><text x="872.9" y="1050.3">0</text><text x="661.2" y="1037.1" text-anchor="end">0</text><text x="920.55" y="1033.51">20</text><text x="624.58" y="1015.12" text-anchor="end">20</text><text x="968.2" y="1016.72">40</text><text x="587.97" y="993.14" text-anchor="end">40</text><text x="578.9" y="966.4" text-anchor="end">0</text><text x="578.9" y="912.3" text-anchor="end">0.2</text><text x="578.9" y="858.2" text-anchor="end">0.4</text><text x="578.9" y="804.1" text-anchor="end">0.6</text><text x="578.9" y="750" text-anchor="end">0.8</text><text x="1287.6" y="1083.88">-40</text><text x="1244.43" y="1081.06" text-anchor="end">-40</text><text x="1335.25" y="1067.09">-20</text><text x="1207.82" y="1059.08" text-anchor="end">-20</text><text x="1382.9" y="1050.3">0</text><text x="1171.2" y="1037.1" text-anchor="end">0</text><text x="1430.55" y="1033.51">20</text><text x="1134.58" y="1015.12" text-anchor="end">20</text><text x="1478.2" y="1016.72">40</text><text x="1097.97" y="993.14" text-anchor="end">40</text><text x="1088.9" y="966.4" text-anchor="end">0</text><text x="1088.9" y="912.3" text-anchor="end">0.2</text><text x="1088.9" y="858.2" text-anchor="end">0.4</text><text x="1088.9" y="804.1" text-anchor="end">0.6</text><text x="1088.9" y="750" text-anchor="end">0.8</text></g>
<g font-family="'Liberation Sans', Arial, Helvetica, sans-serif" font-size="19.4px" fill="#262626" stroke="#262626" stroke-width="0.25"><text x="112.4" y="580.3" text-anchor="middle">y in (µm)</text><text x="388.9" y="584.7" text-anchor="middle">x in (µm)</text><text transform="translate(35.2 349.3) rotate(-90)" text-anchor="middle">Intensity in (a.u.)</text><text x="623.4" y="580.3" text-anchor="middle">y in (µm)</text><text x="899.9" y="584.7" text-anchor="middle">x in (µm)</text><text transform="translate(546.2 349.3) rotate(-90)" text-anchor="middle">Intensity in (a.u.)</text><text x="1135.4" y="580.3" text-anchor="middle">y in (µm)</text><text x="1411.9" y="584.7" text-anchor="middle">x in (µm)</text><text transform="translate(1058.2 349.3) rotate(-90)" text-anchor="middle">Intensity in (a.u.)</text><text x="112.4" y="1089.3" text-anchor="middle">y in (µm)</text><text x="388.9" y="1093.7" text-anchor="middle">x in (µm)</text><text transform="translate(35.2 858.3) rotate(-90)" text-anchor="middle">Intensity in (a.u.)</text><text x="623.4" y="1089.3" text-anchor="middle">y in (µm)</text><text x="899.9" y="1093.7" text-anchor="middle">x in (µm)</text><text transform="translate(546.2 858.3) rotate(-90)" text-anchor="middle">Intensity in (a.u.)</text><text x="1133.4" y="1089.3" text-anchor="middle">y in (µm)</text><text x="1409.9" y="1093.7" text-anchor="middle">x in (µm)</text><text transform="translate(1056.2 858.3) rotate(-90)" text-anchor="middle">Intensity in (a.u.)</text></g>
<defs><filter id="pmap" color-interpolation-filters="sRGB" x="0" y="0" width="100%" height="100%"><feComponentTransfer><feFuncR type="table" tableValues="0.229 0.238 0.246 0.254 0.262 0.268 0.274 0.28 0.285 0.289 0.292 0.295 0.295 0.294 0.29 0.282 0.276 0.277 0.283 0.29 0.294 0.296 0.301 0.306 0.31 0.314 0.317 0.319 0.32 0.323 0.328 0.337 0.35 0.365 0.378 0.39 0.402 0.418 0.44 0.468 0.498 0.532 0.572 0.611 0.652 0.693 0.733 0.771 0.808 0.843 0.876 0.907 0.936 0.957 0.961 0.963 0.961 0.956 0.95 0.949 0.952 0.958 0.968 0.978"/><feFuncG type="table" tableValues="0.154 0.169 0.185 0.2 0.217 0.236 0.257 0.278 0.3 0.322 0.343 0.364 0.386 0.408 0.431 0.455 0.478 0.501 0.522 0.542 0.562 0.582 0.6 0.619 0.636 0.654 0.67 0.684 0.698 0.709 0.72 0.73 0.739 0.747 0.756 0.765 0.773 0.781 0.787 0.791 0.793 0.794 0.792 0.788 0.783 0.776 0.768 0.76 0.752 0.745 0.74 0.737 0.74 0.754 0.775 0.797 0.82 0.844 0.868 0.892 0.915 0.938 0.961 0.984"/><feFuncB type="table" tableValues="0.635 0.68 0.722 0.765 0.804 0.838 0.865 0.888 0.906 0.923 0.936 0.947 0.955 0.96 0.964 0.963 0.956 0.948 0.938 0.923 0.909 0.896 0.884 0.874 0.867 0.856 0.842 0.824 0.803 0.781 0.758 0.734 0.709 0.685 0.66 0.633 0.605 0.575 0.543 0.51 0.474 0.439 0.407 0.376 0.347 0.323 0.306 0.292 0.288 0.291 0.301 0.32 0.339 0.342 0.337 0.332 0.33 0.33 0.33 0.331 0.333 0.335 0.335 0.336"/></feComponentTransfer></filter><filter id="bl3" x="-20%" y="-20%" width="140%" height="140%"><feGaussianBlur stdDeviation="2.5"/></filter><radialGradient id="gs" cx="0" cy="0" r="3" gradientUnits="userSpaceOnUse"><stop offset="0" stop-color="#fff" stop-opacity="1"/><stop offset="0.083" stop-color="#fff" stop-opacity="0.969"/><stop offset="0.167" stop-color="#fff" stop-opacity="0.882"/><stop offset="0.25" stop-color="#fff" stop-opacity="0.755"/><stop offset="0.333" stop-color="#fff" stop-opacity="0.607"/><stop offset="0.417" stop-color="#fff" stop-opacity="0.458"/><stop offset="0.5" stop-color="#fff" stop-opacity="0.325"/><stop offset="0.583" stop-color="#fff" stop-opacity="0.216"/><stop offset="0.667" stop-color="#fff" stop-opacity="0.135"/><stop offset="0.75" stop-color="#fff" stop-opacity="0.08"/><stop offset="0.833" stop-color="#fff" stop-opacity="0.044"/><stop offset="0.917" stop-color="#fff" stop-opacity="0.023"/><stop offset="1" stop-color="#fff" stop-opacity="0"/></radialGradient><radialGradient id="airy" cx="0" cy="0" r="27.5" gradientUnits="userSpaceOnUse"><stop offset="0" stop-color="#ffffff"/><stop offset="0.044" stop-color="#f2f2f2"/><stop offset="0.08" stop-color="#b2b2b2"/><stop offset="0.116" stop-color="#666666"/><stop offset="0.153" stop-color="#333333"/><stop offset="0.189" stop-color="#1a1a1a"/><stop offset="0.229" stop-color="#0d0d0d"/><stop offset="0.265" stop-color="#171717"/><stop offset="0.309" stop-color="#2b2b2b"/><stop offset="0.356" stop-color="#333333"/><stop offset="0.4" stop-color="#2b2b2b"/><stop offset="0.444" stop-color="#171717"/><stop offset="0.484" stop-color="#090909"/><stop offset="0.52" stop-color="#050505"/><stop offset="0.564" stop-color="#080808"/><stop offset="0.607" stop-color="#0c0c0c"/><stop offset="0.647" stop-color="#0d0d0d"/><stop offset="0.691" stop-color="#090909"/><stop offset="0.738" stop-color="#040404"/><stop offset="0.782" stop-color="#010101"/><stop offset="0.836" stop-color="#020202"/><stop offset="0.891" stop-color="#030303"/><stop offset="0.945" stop-color="#010101"/><stop offset="1" stop-color="#000000"/></radialGradient></defs><clipPath id="ic0"><rect x="337" y="222" width="139" height="138"/></clipPath><g clip-path="url(#ic0)"><g filter="url(#pmap)"><rect x="337" y="222" width="139" height="138" fill="#000"/><circle r="27.5" fill="url(#airy)" transform="translate(405.1 293.5)"/></g></g><clipPath id="ic1"><rect x="859.25" y="221.3" width="138.85" height="139.3"/></clipPath><g clip-path="url(#ic1)"><g filter="url(#pmap)"><rect x="859" y="221" width="140" height="140" fill="#000"/><circle r="3" fill="url(#gs)" opacity="0.1" transform="translate(929.4 286) rotate(0) scale(10 10)"/><circle r="3" fill="url(#gs)" opacity="0.24" transform="translate(928.6 270) rotate(11) scale(3.4 9.5)"/><circle r="3" fill="url(#gs)" opacity="0.26" transform="translate(927 302) rotate(-5) scale(3.6 12)"/><circle r="3" fill="url(#gs)" opacity="0.17" transform="translate(909 284.2) rotate(2) scale(10 3.6)"/><circle r="3" fill="url(#gs)" opacity="0.36" transform="translate(920.7 284.6) rotate(0) scale(3.4 2.8)"/><circle r="3" fill="url(#gs)" opacity="0.2" transform="translate(941.2 285.8) rotate(0) scale(3.4 3)"/><circle r="3" fill="url(#gs)" opacity="0.1" transform="translate(955 288) rotate(7) scale(7.5 2.6)"/><circle r="3" fill="url(#gs)" opacity="0.85" transform="translate(927.8 284.3) rotate(0) scale(1.6 2.1)"/><circle r="3" fill="url(#gs)" opacity="1" transform="translate(930.4 283.8) rotate(0) scale(1.9 2.3)"/></g></g><clipPath id="ic2"><rect x="1381.4" y="221.3" width="138.7" height="138.7"/></clipPath><g clip-path="url(#ic2)"><g filter="url(#pmap)"><rect x="1381" y="221" width="140" height="139" fill="#000"/><polygon points="1409,281 1440,252 1463,229 1480,256 1501,284 1484,318 1468,348 1452,330 1436,306" fill="#fff" opacity="0.035" filter="url(#bl3)"/><circle r="3" fill="url(#gs)" opacity="0.12" transform="translate(1456 288) rotate(0) scale(9 24)"/><circle r="3" fill="url(#gs)" opacity="0.09" transform="translate(1434 281) rotate(0) scale(11 11)"/><circle r="3" fill="url(#gs)" opacity="0.08" transform="translate(1478 284) rotate(0) scale(11 8)"/><circle r="3" fill="url(#gs)" opacity="0.07" transform="translate(1486 278.3) rotate(0) scale(8 1.3)"/><circle r="3" fill="url(#gs)" opacity="0.07" transform="translate(1489 284.8) rotate(2) scale(9 1.3)"/><circle r="3" fill="url(#gs)" opacity="0.3" transform="translate(1459.5 327) rotate(-12) scale(5 12)"/><circle r="3" fill="url(#gs)" opacity="0.2" transform="translate(1461 243) rotate(10) scale(5 8)"/><circle r="3" fill="url(#gs)" opacity="0.12" transform="translate(1430.3 280.3) rotate(0) scale(2.6 8)"/><circle r="3" fill="url(#gs)" opacity="0.34" transform="translate(1438.6 279.3) rotate(2) scale(2.3 10)"/><circle r="3" fill="url(#gs)" opacity="0.36" transform="translate(1444.9 288) rotate(2) scale(2.5 12)"/><circle r="3" fill="url(#gs)" opacity="0.42" transform="translate(1461.6 289) rotate(8) scale(3 6.5)"/><circle r="3" fill="url(#gs)" opacity="0.6" transform="translate(1455.3 305) rotate(-8) scale(3 8.5)"/><circle r="3" fill="url(#gs)" opacity="0.5" transform="translate(1457.4 261.5) rotate(9) scale(4.4 11)"/><circle r="3" fill="url(#gs)" opacity="0.72" transform="translate(1447 275.6) rotate(3) scale(2 4.8)"/><circle r="3" fill="url(#gs)" opacity="0.75" transform="translate(1462.1 279.3) rotate(25) scale(2.1 4.2)"/><circle r="3" fill="url(#gs)" opacity="1" transform="translate(1457.4 261.5) rotate(9) scale(2.7 8)"/></g></g>
</svg>
</body></html>
